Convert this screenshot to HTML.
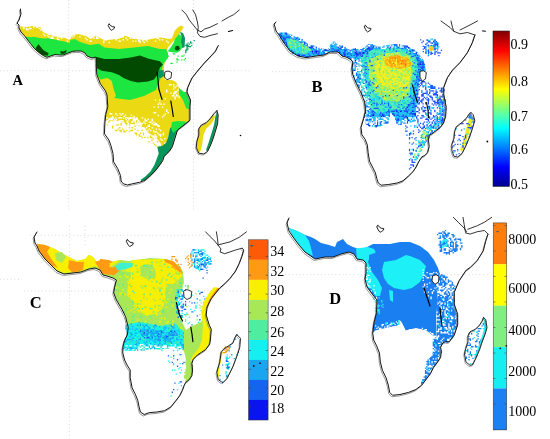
<!DOCTYPE html>
<html><head><meta charset="utf-8"><style>
html,body{margin:0;padding:0;background:#fff;}
svg{display:block;}
.lab{font-family:"Liberation Serif",serif;font-weight:bold;}
.tk{font-family:"Liberation Serif",serif;font-size:14px;}
</style></head><body>
<svg width="550" height="439" viewBox="0 0 550 439">
<rect width="550" height="439" fill="#fff"/>
<line x1="0" y1="70.7" x2="250" y2="70.7" stroke="#d2d2d2" stroke-width="0.8" stroke-dasharray="1,2.6" fill="none"/>
<line x1="68.7" y1="0" x2="68.7" y2="210" stroke="#d2d2d2" stroke-width="0.8" stroke-dasharray="1,2.6" fill="none"/>
<line x1="193.5" y1="0" x2="193.5" y2="210" stroke="#d2d2d2" stroke-width="0.8" stroke-dasharray="1,2.6" fill="none"/>
<line x1="272" y1="71.7" x2="490" y2="71.7" stroke="#d2d2d2" stroke-width="0.8" stroke-dasharray="1,2.6" fill="none"/>
<line x1="30" y1="235.3" x2="245" y2="235.3" stroke="#d2d2d2" stroke-width="0.8" stroke-dasharray="1,2.6" fill="none"/>
<line x1="24" y1="291" x2="245" y2="291" stroke="#d2d2d2" stroke-width="0.8" stroke-dasharray="1,2.6" fill="none"/>
<line x1="0" y1="279.3" x2="22" y2="279.3" stroke="#d2d2d2" stroke-width="0.8" stroke-dasharray="1,2.6" fill="none"/>
<line x1="69.4" y1="226" x2="69.4" y2="439" stroke="#d2d2d2" stroke-width="0.8" stroke-dasharray="1,2.6" fill="none"/>
<line x1="85" y1="226" x2="85" y2="245" stroke="#d2d2d2" stroke-width="0.8" stroke-dasharray="1,2.6" fill="none"/>
<line x1="285" y1="274.6" x2="490" y2="274.6" stroke="#d2d2d2" stroke-width="0.8" stroke-dasharray="1,2.6" fill="none"/>
<polygon points="19.0,26.0 26.0,27.0 32.0,26.0 40.0,27.0 43.0,32.0 50.0,35.0 58.0,37.0 66.0,38.0 69.0,40.0 73.0,35.0 78.0,34.0 86.0,36.0 90.0,38.7 95.8,35.8 104.5,40.2 119.0,38.7 125.0,35.8 133.6,38.7 145.3,40.2 152.5,38.7 159.1,37.3 164.0,38.0 168.2,39.1 171.9,38.2 173.5,34.0 174.6,31.0 177.3,27.7 181.0,25.5 183.7,26.8 182.0,30.0 180.0,32.7 177.3,37.3 174.6,40.0 171.0,43.7 168.2,47.3 166.0,52.0 166.0,60.0 164.0,66.0 164.0,72.0 165.0,80.0 172.0,80.0 176.0,82.0 179.0,88.0 184.0,95.0 186.0,100.0 188.7,104.6 190.0,110.0 190.0,120.2 185.0,123.0 176.0,124.0 170.0,128.0 168.0,138.0 168.0,145.0 166.0,149.0 162.0,145.0 158.0,140.0 154.0,136.0 150.0,134.0 145.0,129.0 139.0,126.0 133.0,124.0 125.0,124.0 119.0,120.5 115.0,122.0 110.0,120.0 105.3,121.0 105.8,114.4 107.8,106.6 107.0,95.0 105.5,91.0 100.4,83.8 96.8,74.6 96.3,66.0 96.3,62.0 96.0,57.0 92.0,58.0 87.0,56.0 85.0,53.0 81.0,51.0 76.0,51.0 72.3,51.4 67.7,53.2 63.2,55.0 59.5,55.0 55.0,54.5 50.5,56.0 46.8,57.3 43.2,55.5 38.6,52.3 34.1,48.2 30.5,43.6 27.7,40.0 25.0,36.4 21.0,32.0 19.0,28.0" fill="#ebd914" />
<path d="M19.0 25.0h1.4v1.4h-1.4zM21.8 25.0h1.4v1.4h-1.4zM28.8 25.0h1.4v1.4h-1.4zM33.0 25.0h1.4v1.4h-1.4zM35.8 25.0h1.4v1.4h-1.4zM19.0 26.4h1.4v1.4h-1.4zM23.2 26.4h1.4v1.4h-1.4zM33.0 26.4h1.4v1.4h-1.4zM35.8 26.4h2.8v1.4h-2.8zM23.2 27.8h1.4v1.4h-1.4zM26.0 27.8h1.4v1.4h-1.4zM28.8 27.8h2.8v1.4h-2.8zM38.6 27.8h1.4v1.4h-1.4zM26.0 29.2h2.8v1.4h-2.8zM40.0 29.2h1.4v1.4h-1.4zM42.8 30.6h1.4v1.4h-1.4zM42.8 33.4h1.4v1.4h-1.4zM48.4 33.4h1.4v1.4h-1.4zM44.2 34.8h1.4v1.4h-1.4zM47.0 34.8h1.4v1.4h-1.4zM52.6 34.8h2.8v1.4h-2.8zM73.6 34.8h1.4v1.4h-1.4zM94.6 34.8h1.4v1.4h-1.4zM48.4 36.2h1.4v1.4h-1.4zM51.2 36.2h1.4v1.4h-1.4zM58.2 36.2h4.2v1.4h-4.2zM72.2 36.2h1.4v1.4h-1.4zM79.2 36.2h1.4v1.4h-1.4zM91.8 36.2h1.4v1.4h-1.4zM96.0 36.2h1.4v1.4h-1.4zM121.2 36.2h2.8v1.4h-2.8zM159.0 36.2h1.4v1.4h-1.4zM49.8 37.6h4.2v1.4h-4.2zM56.8 37.6h1.4v1.4h-1.4zM61.0 37.6h1.4v1.4h-1.4zM66.6 37.6h1.4v1.4h-1.4zM69.4 37.6h1.4v1.4h-1.4zM84.8 37.6h1.4v1.4h-1.4zM90.4 37.6h1.4v1.4h-1.4zM93.2 37.6h1.4v1.4h-1.4zM96.0 37.6h2.8v1.4h-2.8zM114.2 37.6h1.4v1.4h-1.4zM117.0 37.6h1.4v1.4h-1.4zM125.4 37.6h1.4v1.4h-1.4zM129.6 37.6h1.4v1.4h-1.4zM132.4 37.6h4.2v1.4h-4.2zM156.2 37.6h2.8v1.4h-2.8zM56.8 39.0h2.8v1.4h-2.8zM86.2 39.0h1.4v1.4h-1.4zM104.4 39.0h2.8v1.4h-2.8zM115.6 39.0h1.4v1.4h-1.4zM122.6 39.0h1.4v1.4h-1.4zM126.8 39.0h1.4v1.4h-1.4zM138.0 39.0h1.4v1.4h-1.4zM142.2 39.0h1.4v1.4h-1.4zM145.0 39.0h1.4v1.4h-1.4zM159.0 39.0h1.4v1.4h-1.4zM161.8 39.0h1.4v1.4h-1.4zM66.6 40.4h1.4v1.4h-1.4zM89.0 40.4h2.8v1.4h-2.8zM103.0 40.4h1.4v1.4h-1.4zM118.4 40.4h2.8v1.4h-2.8zM132.4 40.4h1.4v1.4h-1.4zM135.2 40.4h1.4v1.4h-1.4zM138.0 40.4h2.8v1.4h-2.8zM142.2 40.4h1.4v1.4h-1.4zM146.4 40.4h1.4v1.4h-1.4zM154.8 40.4h1.4v1.4h-1.4zM166.0 40.4h1.4v1.4h-1.4zM103.0 41.8h1.4v1.4h-1.4zM108.6 41.8h1.4v1.4h-1.4zM139.4 41.8h1.4v1.4h-1.4zM143.6 41.8h1.4v1.4h-1.4zM167.4 41.8h1.4v1.4h-1.4z" fill="#ffffff" />
<path d="M109.5 113.0h2.8v1.4h-2.8zM115.1 113.0h1.4v1.4h-1.4zM119.3 113.0h1.4v1.4h-1.4zM122.1 113.0h1.4v1.4h-1.4zM116.5 114.4h1.4v1.4h-1.4zM120.7 114.4h1.4v1.4h-1.4zM124.9 114.4h1.4v1.4h-1.4zM130.5 114.4h1.4v1.4h-1.4zM112.3 115.8h1.4v1.4h-1.4zM123.5 115.8h1.4v1.4h-1.4zM133.3 115.8h1.4v1.4h-1.4zM105.3 117.2h2.8v1.4h-2.8zM112.3 117.2h1.4v1.4h-1.4zM115.1 117.2h1.4v1.4h-1.4zM117.9 117.2h4.2v1.4h-4.2zM124.9 117.2h2.8v1.4h-2.8zM129.1 117.2h4.2v1.4h-4.2zM136.1 117.2h1.4v1.4h-1.4zM141.7 117.2h1.4v1.4h-1.4zM108.1 118.6h4.2v1.4h-4.2zM113.7 118.6h1.4v1.4h-1.4zM133.3 118.6h4.2v1.4h-4.2zM144.5 118.6h1.4v1.4h-1.4zM147.3 118.6h1.4v1.4h-1.4zM151.5 118.6h1.4v1.4h-1.4zM106.7 120.0h4.2v1.4h-4.2zM115.1 120.0h1.4v1.4h-1.4zM119.3 120.0h4.2v1.4h-4.2zM134.7 120.0h1.4v1.4h-1.4zM137.5 120.0h1.4v1.4h-1.4zM144.5 120.0h2.8v1.4h-2.8zM151.5 120.0h1.4v1.4h-1.4zM113.7 121.4h4.2v1.4h-4.2zM119.3 121.4h1.4v1.4h-1.4zM126.3 121.4h1.4v1.4h-1.4zM131.9 121.4h1.4v1.4h-1.4zM134.7 121.4h1.4v1.4h-1.4zM138.9 121.4h1.4v1.4h-1.4zM143.1 121.4h1.4v1.4h-1.4zM148.7 121.4h2.8v1.4h-2.8zM152.9 121.4h1.4v1.4h-1.4zM120.7 122.8h1.4v1.4h-1.4zM123.5 122.8h1.4v1.4h-1.4zM127.7 122.8h1.4v1.4h-1.4zM134.7 122.8h1.4v1.4h-1.4zM137.5 122.8h5.6v1.4h-5.6zM144.5 122.8h1.4v1.4h-1.4zM151.5 122.8h1.4v1.4h-1.4zM154.3 122.8h2.8v1.4h-2.8zM124.9 124.2h1.4v1.4h-1.4zM129.1 124.2h1.4v1.4h-1.4zM134.7 124.2h7.0v1.4h-7.0zM148.7 124.2h1.4v1.4h-1.4zM152.9 124.2h5.6v1.4h-5.6zM140.3 125.6h1.4v1.4h-1.4zM147.3 125.6h2.8v1.4h-2.8zM157.1 125.6h2.8v1.4h-2.8zM141.7 127.0h2.8v1.4h-2.8zM145.9 127.0h1.4v1.4h-1.4zM151.5 127.0h1.4v1.4h-1.4zM143.1 128.4h2.8v1.4h-2.8zM148.7 128.4h1.4v1.4h-1.4zM155.7 128.4h1.4v1.4h-1.4zM158.5 128.4h1.4v1.4h-1.4zM147.3 129.8h1.4v1.4h-1.4zM150.1 129.8h1.4v1.4h-1.4zM152.9 129.8h1.4v1.4h-1.4zM159.9 129.8h1.4v1.4h-1.4zM152.9 131.2h4.2v1.4h-4.2zM157.1 132.6h1.4v1.4h-1.4zM162.7 132.6h1.4v1.4h-1.4zM154.3 134.0h1.4v1.4h-1.4zM158.5 134.0h2.8v1.4h-2.8zM162.7 134.0h1.4v1.4h-1.4zM154.3 135.4h2.8v1.4h-2.8zM159.9 135.4h1.4v1.4h-1.4zM155.7 136.8h1.4v1.4h-1.4zM159.9 138.2h1.4v1.4h-1.4zM164.1 138.2h1.4v1.4h-1.4zM161.3 139.6h1.4v1.4h-1.4zM164.1 142.4h1.4v1.4h-1.4zM164.1 145.2h1.4v1.4h-1.4z" fill="#ffffff" />
<path d="M110.2 117.4h2.8v1.4h-2.8zM122.8 117.4h1.4v1.4h-1.4zM127.0 117.4h4.2v1.4h-4.2zM134.0 117.4h1.4v1.4h-1.4zM108.8 118.8h4.2v1.4h-4.2zM115.8 118.8h1.4v1.4h-1.4zM125.6 118.8h1.4v1.4h-1.4zM128.4 118.8h1.4v1.4h-1.4zM132.6 118.8h2.8v1.4h-2.8zM136.8 118.8h1.4v1.4h-1.4zM113.0 120.2h2.8v1.4h-2.8zM127.0 120.2h1.4v1.4h-1.4zM132.6 120.2h2.8v1.4h-2.8zM138.2 120.2h1.4v1.4h-1.4zM118.6 121.6h1.4v1.4h-1.4zM122.8 121.6h1.4v1.4h-1.4zM127.0 121.6h1.4v1.4h-1.4zM131.2 121.6h1.4v1.4h-1.4zM136.8 121.6h1.4v1.4h-1.4zM135.4 123.0h1.4v1.4h-1.4z" fill="#ffffff" />
<path d="M109.2 120.0h1.4v1.4h-1.4zM107.8 121.4h1.4v1.4h-1.4zM120.4 122.8h1.4v1.4h-1.4zM106.4 124.2h1.4v1.4h-1.4zM116.2 124.2h2.8v1.4h-2.8zM120.4 124.2h1.4v1.4h-1.4zM126.0 124.2h1.4v1.4h-1.4zM128.8 124.2h1.4v1.4h-1.4zM112.0 125.6h1.4v1.4h-1.4zM134.4 125.6h1.4v1.4h-1.4zM112.0 127.0h1.4v1.4h-1.4zM119.0 127.0h1.4v1.4h-1.4zM128.8 127.0h1.4v1.4h-1.4zM131.6 127.0h1.4v1.4h-1.4zM117.6 128.4h1.4v1.4h-1.4zM121.8 128.4h1.4v1.4h-1.4zM134.4 128.4h1.4v1.4h-1.4zM114.8 129.8h2.8v1.4h-2.8zM119.0 129.8h2.8v1.4h-2.8zM123.2 129.8h1.4v1.4h-1.4zM126.0 129.8h1.4v1.4h-1.4zM130.2 129.8h2.8v1.4h-2.8zM137.2 129.8h1.4v1.4h-1.4zM141.4 129.8h1.4v1.4h-1.4zM120.4 131.2h1.4v1.4h-1.4zM123.2 131.2h2.8v1.4h-2.8zM128.8 131.2h1.4v1.4h-1.4zM134.4 132.6h2.8v1.4h-2.8zM140.0 132.6h1.4v1.4h-1.4zM142.8 132.6h1.4v1.4h-1.4zM135.8 134.0h1.4v1.4h-1.4zM138.6 134.0h1.4v1.4h-1.4zM142.8 134.0h1.4v1.4h-1.4zM138.6 135.4h2.8v1.4h-2.8zM149.8 135.4h1.4v1.4h-1.4zM141.4 136.8h1.4v1.4h-1.4zM144.2 136.8h1.4v1.4h-1.4zM147.0 136.8h1.4v1.4h-1.4zM149.8 136.8h2.8v1.4h-2.8zM152.6 138.2h1.4v1.4h-1.4zM151.2 139.6h1.4v1.4h-1.4zM148.4 141.0h1.4v1.4h-1.4zM156.8 141.0h1.4v1.4h-1.4zM152.6 142.4h1.4v1.4h-1.4zM161.0 142.4h1.4v1.4h-1.4zM154.0 143.8h1.4v1.4h-1.4zM161.0 143.8h1.4v1.4h-1.4zM155.4 145.2h1.4v1.4h-1.4zM161.0 145.2h1.4v1.4h-1.4zM158.2 146.6h2.8v1.4h-2.8zM163.8 146.6h1.4v1.4h-1.4zM159.6 148.0h1.4v1.4h-1.4z" fill="#ebd914" />
<path d="M168.8 84.0h2.8v1.4h-2.8zM173.0 84.0h1.4v1.4h-1.4zM177.2 84.0h1.4v1.4h-1.4zM173.0 85.4h1.4v1.4h-1.4zM175.8 85.4h1.4v1.4h-1.4zM174.4 86.8h1.4v1.4h-1.4zM173.0 88.2h1.4v1.4h-1.4zM178.6 88.2h1.4v1.4h-1.4zM166.0 89.6h1.4v1.4h-1.4zM177.2 89.6h1.4v1.4h-1.4zM166.0 91.0h1.4v1.4h-1.4zM174.4 91.0h2.8v1.4h-2.8zM170.2 92.4h1.4v1.4h-1.4zM173.0 92.4h2.8v1.4h-2.8zM178.6 92.4h1.4v1.4h-1.4zM173.0 93.8h1.4v1.4h-1.4zM175.8 93.8h1.4v1.4h-1.4zM171.6 95.2h2.8v1.4h-2.8zM175.8 95.2h2.8v1.4h-2.8zM174.4 96.6h1.4v1.4h-1.4zM178.6 96.6h1.4v1.4h-1.4zM174.4 98.0h1.4v1.4h-1.4z" fill="#ffffff" />
<path d="M164.6 98.0h1.4v1.4h-1.4zM154.8 99.4h1.4v1.4h-1.4zM159.0 99.4h1.4v1.4h-1.4zM159.0 102.2h1.4v1.4h-1.4zM157.6 103.6h1.4v1.4h-1.4zM160.4 103.6h1.4v1.4h-1.4zM163.2 103.6h1.4v1.4h-1.4zM153.4 106.4h1.4v1.4h-1.4zM157.6 106.4h1.4v1.4h-1.4zM161.8 106.4h1.4v1.4h-1.4zM166.0 109.2h1.4v1.4h-1.4zM166.0 110.6h1.4v1.4h-1.4zM153.4 112.0h2.8v1.4h-2.8zM167.4 112.0h1.4v1.4h-1.4zM164.6 113.4h1.4v1.4h-1.4zM157.6 114.8h1.4v1.4h-1.4zM163.2 114.8h1.4v1.4h-1.4zM161.8 116.2h1.4v1.4h-1.4z" fill="#ffffff" />
<polygon points="25.0,36.4 30.5,37.3 34.1,36.8 38.6,37.7 43.2,38.6 47.7,38.2 52.3,39.0 56.8,40.0 61.4,40.9 65.9,41.8 69.5,43.2 70.5,40.0 75.0,39.1 80.0,42.0 90.0,45.0 98.7,43.8 104.5,47.5 119.0,49.0 133.6,47.5 148.0,46.0 159.8,49.0 166.0,49.0 168.0,53.0 168.0,58.0 163.0,64.0 160.0,80.0 156.0,90.0 144.0,96.0 130.0,100.0 114.0,98.0 116.0,96.0 113.3,88.0 111.8,81.0 107.5,78.0 100.4,79.5 96.8,74.6 96.3,66.0 96.3,62.0 96.0,57.0 92.0,58.0 87.0,56.0 85.0,53.0 81.0,51.0 76.0,51.0 72.3,51.4 67.7,53.2 63.2,55.0 59.5,55.0 55.0,54.5 50.5,56.0 46.8,57.3 43.2,55.5 38.6,52.3 34.1,48.2 30.5,43.6 27.7,40.0" fill="#1ee640" />
<polygon points="96.0,57.0 98.7,57.6 104.5,59.0 119.0,59.0 130.7,57.6 140.0,55.5 148.0,58.4 159.8,61.3 162.7,64.2 162.7,65.0 159.8,67.8 158.4,73.6 154.0,79.5 148.0,81.6 138.0,82.4 130.7,81.0 123.5,78.0 119.0,75.0 111.8,72.2 101.6,70.7 98.7,69.3 96.8,68.0 96.3,62.0" fill="#024a02" />
<polygon points="38.6,44.5 37.7,47.0 35.9,47.3 38.6,49.1 43.2,51.8 48.6,53.6 47.7,55.5 43.2,55.0 40.5,52.7 37.7,50.0 36.5,48.0" fill="#024a02" />
<polygon points="38.6,44.3 40.0,46.0 43.2,50.0 48.6,53.2 47.5,55.5 43.2,55.0 38.6,52.3 35.5,48.5 37.0,46.0" fill="#024a02" />
<polygon points="60.5,50.9 63.2,51.4 66.8,50.0 65.9,52.7 63.2,54.0 60.5,53.6" fill="#024a02" />
<polygon points="175.0,39.0 179.0,34.0 181.5,36.0 181.0,42.0 182.0,48.0 180.0,51.0 176.9,52.8 170.0,52.0 167.8,51.0 171.0,47.0 173.5,43.0" fill="#1ee640" />
<circle cx="177.3" cy="48.2" r="2.4" fill="#024a02"/>
<polygon points="180.0,32.0 183.0,33.0 185.0,38.0 184.6,47.3 182.0,48.0 181.0,42.0 181.5,36.0" fill="#06965a" />
<path d="M193.6 40.0h1.2v1.2h-1.2zM190.0 41.2h1.2v1.2h-1.2zM187.6 42.4h1.2v1.2h-1.2zM190.0 42.4h2.4v1.2h-2.4zM186.4 43.6h1.2v1.2h-1.2zM188.8 43.6h1.2v1.2h-1.2zM185.2 44.8h3.6v1.2h-3.6zM191.2 44.8h1.2v1.2h-1.2zM186.4 46.0h4.8v1.2h-4.8zM186.4 47.2h1.2v1.2h-1.2zM186.4 48.4h2.4v1.2h-2.4zM185.2 49.6h2.4v1.2h-2.4zM185.2 50.8h1.2v1.2h-1.2zM185.2 52.0h1.2v1.2h-1.2z" fill="#06965a" />
<path d="M172.8 53.2h2.4v1.2h-2.4zM183.6 54.4h1.2v1.2h-1.2zM168.0 55.6h1.2v1.2h-1.2zM177.6 55.6h1.2v1.2h-1.2zM181.2 55.6h2.4v1.2h-2.4zM176.4 58.0h1.2v1.2h-1.2zM184.8 58.0h1.2v1.2h-1.2zM176.4 59.2h2.4v1.2h-2.4zM181.2 59.2h1.2v1.2h-1.2zM183.6 59.2h1.2v1.2h-1.2zM176.4 61.6h1.2v1.2h-1.2zM170.4 62.8h2.4v1.2h-2.4z" fill="#1ee640" />
<polygon points="158.5,70.5 163.5,70.0 164.0,76.0 160.0,78.5 158.0,76.0" fill="#06965a" />
<polygon points="179.0,88.0 184.0,92.0 187.0,92.0 190.5,100.0 190.0,110.0 186.0,108.0 183.0,100.0 179.0,94.0" fill="#1ee640" />
<polygon points="170.0,128.0 176.0,124.0 185.0,123.0 190.0,120.2 185.3,124.0 177.5,130.0 174.4,140.0 172.3,146.8 169.6,150.9 166.8,153.6 164.1,156.4 162.8,160.5 160.0,164.6 155.9,170.0 150.5,175.5 145.0,180.2 141.0,181.0 141.0,179.6 145.0,176.8 150.5,171.4 154.6,164.6 158.7,153.6 157.3,146.8 162.0,146.0 166.0,143.0 168.0,138.0" fill="#06965a" />
<polygon points="172.0,122.0 178.0,121.0 186.0,121.5 183.0,126.0 177.0,130.0 173.0,133.0 171.0,128.0" fill="#1ee640" />
<polygon points="216.9,110.6 218.2,115.0 217.6,123.8 215.0,132.6 212.6,140.1 210.0,146.4 207.5,151.4 203.8,153.9 198.8,153.2 196.3,147.6 196.9,141.3 198.8,135.1 198.8,128.8 201.3,125.0 206.3,122.5 210.0,118.8 213.8,113.8" fill="#ffffff" />
<polygon points="201.3,125.0 206.3,122.5 210.0,118.8 213.8,113.8 215.0,117.0 212.0,123.0 206.0,129.0 203.0,136.0 202.5,143.0 201.0,150.0 198.8,153.2 196.3,147.6 196.9,141.3 198.8,135.1 198.8,128.8" fill="#ebd914" />
<polygon points="216.9,110.6 218.2,115.0 217.6,123.8 215.0,132.6 212.6,140.1 210.0,146.4 207.5,151.4 206.0,150.0 208.5,143.0 211.0,135.0 214.0,125.0 215.5,116.0" fill="#06965a" />
<polyline points="216.9,110.6 218.2,115.0 217.6,123.8 215.0,132.6 212.6,140.1 210.0,146.4 207.5,151.4 203.8,153.9 198.8,153.2 196.3,147.6 196.9,141.3 198.8,135.1 198.8,128.8 201.3,125.0 206.3,122.5 210.0,118.8 213.8,113.8 216.9,110.6" fill="none" stroke="#9a9a9a" stroke-width="0.9" stroke-linejoin="round" stroke-linecap="round" transform="translate(-0.6,1.2)"/>
<polyline points="216.9,110.6 218.2,115.0 217.6,123.8 215.0,132.6 212.6,140.1 210.0,146.4 207.5,151.4 203.8,153.9 198.8,153.2 196.3,147.6 196.9,141.3 198.8,135.1 198.8,128.8 201.3,125.0 206.3,122.5 210.0,118.8 213.8,113.8 216.9,110.6" fill="none" stroke="#111" stroke-width="0.9" stroke-linejoin="round" stroke-linecap="round" />
<polyline points="19.5,10.5 20.1,15.5 18.1,21.5 16.1,24.5 18.1,26.5 18.1,29.5 20.1,33.5 24.1,37.9 26.8,41.5 29.6,45.1 33.2,49.7 37.7,53.8 42.3,57.0 45.9,58.8 49.6,57.5 54.1,56.0 58.6,56.5 62.3,56.5 66.8,54.7 71.4,52.9 75.1,52.5 80.1,52.5 84.1,54.5 86.1,57.5 91.1,59.5 95.1,58.5 95.4,63.5 95.4,67.5 95.9,76.1 99.5,85.3 104.6,92.5 106.1,96.5 106.9,108.1 104.9,115.9 103.9,125.5 103.6,135.3 108.0,141.5 110.0,147.0 112.1,155.1 112.7,163.3 116.8,170.1 119.6,177.0 120.2,182.5 122.3,185.2 126.4,186.5 131.8,185.2 138.7,183.8 144.1,181.7 149.6,177.0 155.0,171.5 159.1,166.1 161.9,162.0 163.2,157.9 165.9,155.1 168.7,152.4 171.4,148.3 173.5,141.5 176.6,131.5 184.4,125.5 189.1,121.7 189.1,108.1 189.6,101.5 186.1,93.5 186.9,89.0 191.1,79.5 196.6,72.5 203.4,64.5 209.1,58.5 214.7,52.5 217.4,47.0" fill="none" stroke="#8c8c8c" stroke-width="0.9" stroke-linejoin="round" stroke-linecap="round" /><polyline points="20.4,9.0 21.0,14.0 19.0,20.0 17.0,23.0 19.0,25.0 19.0,28.0 21.0,32.0 25.0,36.4 27.7,40.0 30.5,43.6 34.1,48.2 38.6,52.3 43.2,55.5 46.8,57.3 50.5,56.0 55.0,54.5 59.5,55.0 63.2,55.0 67.7,53.2 72.3,51.4 76.0,51.0 81.0,51.0 85.0,53.0 87.0,56.0 92.0,58.0 96.0,57.0 96.3,62.0 96.3,66.0 96.8,74.6 100.4,83.8 105.5,91.0 107.0,95.0 107.8,106.6 105.8,114.4 104.8,124.0 104.5,133.8 108.9,140.0 110.9,145.5 113.0,153.6 113.6,161.8 117.7,168.6 120.5,175.5 121.1,181.0 123.2,183.7 127.3,185.0 132.7,183.7 139.6,182.3 145.0,180.2 150.5,175.5 155.9,170.0 160.0,164.6 162.8,160.5 164.1,156.4 166.8,153.6 169.6,150.9 172.3,146.8 174.4,140.0 177.5,130.0 185.3,124.0 190.0,120.2 190.0,106.6 190.5,100.0 187.0,92.0 187.8,87.5 192.0,78.0 197.5,71.0 204.3,63.0 210.0,57.0 215.6,51.0 218.3,45.5" fill="none" stroke="#151515" stroke-width="1.0" stroke-linejoin="round" stroke-linecap="round" />
<polygon points="164.8,72.0 168.0,71.0 171.6,72.5 171.0,78.0 167.0,79.8 164.5,77.0" fill="#fff" stroke="#000" stroke-width="0.8"/>
<polyline points="157.0,72.0 158.0,80.0 158.8,89.0 162.0,99.4" fill="none" stroke="#000" stroke-width="1.2" stroke-linejoin="round" stroke-linecap="round" />
<polyline points="170.8,101.0 172.0,108.0 173.3,116.5" fill="none" stroke="#000" stroke-width="1.2" stroke-linejoin="round" stroke-linecap="round" />
<polyline points="181.9,10.0 186.4,14.6 189.2,20.0 193.7,25.5 197.4,30.0 201.0,31.9 204.6,29.0 210.0,27.3 217.4,23.7" fill="none" stroke="#000" stroke-width="0.8" stroke-linejoin="round" stroke-linecap="round" />
<polyline points="192.8,10.0 195.5,14.6 197.4,21.9 198.3,27.3 197.4,32.8 200.0,36.4 204.6,37.3 210.0,35.5 217.4,33.7" fill="none" stroke="#000" stroke-width="0.8" stroke-linejoin="round" stroke-linecap="round" />
<polyline points="222.0,21.0 228.3,17.3 233.8,14.6 239.3,10.0" fill="none" stroke="#000" stroke-width="0.8" stroke-linejoin="round" stroke-linecap="round" />
<polyline points="228.5,31.5 232.5,30.5" fill="none" stroke="#000" stroke-width="1.2" stroke-linejoin="round" stroke-linecap="round" />
<circle cx="240.5" cy="135.5" r="0.8" fill="#000"/>
<text x="12.6" y="84.8" class="lab" style="font-size:14.5px">A</text>
<polygon points="278.0,33.0 284.0,32.6 290.0,34.0 298.0,37.0 304.0,41.0 310.0,45.0 318.0,47.0 324.0,49.0 328.0,50.0 330.0,45.0 334.0,41.0 338.0,45.0 342.0,46.0 346.0,48.0 350.0,50.0 354.0,48.0 362.3,48.2 370.0,44.0 378.7,46.2 395.0,44.1 407.4,46.2 417.7,52.3 423.8,60.5 426.0,70.8 421.0,73.0 419.0,82.0 418.0,95.0 416.0,110.0 416.4,121.0 410.0,123.0 397.0,125.3 395.0,118.0 390.5,112.3 388.3,123.0 377.5,127.5 367.0,126.0 363.7,118.4 365.5,111.1 364.6,102.0 361.0,92.8 356.4,83.7 352.8,74.6 351.9,69.1 352.8,62.0 350.0,59.0 346.0,57.0 342.0,56.0 338.0,52.0 330.0,52.0 324.0,55.0 316.0,56.0 306.0,57.6 298.0,56.0 290.0,51.0 284.0,43.0 279.0,35.0" fill="#22bef4" />
<path d="M278.0 32.6h1.3v1.3h-1.3zM280.6 32.6h1.3v1.3h-1.3zM284.5 32.6h2.6v1.3h-2.6zM285.8 33.9h1.3v1.3h-1.3zM288.4 33.9h1.3v1.3h-1.3zM280.6 35.2h1.3v1.3h-1.3zM281.9 36.5h2.6v1.3h-2.6zM285.8 36.5h3.9v1.3h-3.9zM291.0 36.5h1.3v1.3h-1.3zM294.9 36.5h2.6v1.3h-2.6zM284.5 37.8h1.3v1.3h-1.3zM287.1 37.8h2.6v1.3h-2.6zM296.2 37.8h1.3v1.3h-1.3zM283.2 39.1h3.9v1.3h-3.9zM291.0 39.1h2.6v1.3h-2.6zM294.9 39.1h1.3v1.3h-1.3zM298.8 39.1h1.3v1.3h-1.3zM301.4 39.1h1.3v1.3h-1.3zM283.2 40.4h1.3v1.3h-1.3zM298.8 40.4h1.3v1.3h-1.3zM283.2 41.7h3.9v1.3h-3.9zM291.0 41.7h1.3v1.3h-1.3zM294.9 41.7h2.6v1.3h-2.6zM298.8 41.7h2.6v1.3h-2.6zM302.7 41.7h2.6v1.3h-2.6zM285.8 43.0h1.3v1.3h-1.3zM289.7 43.0h1.3v1.3h-1.3zM296.2 43.0h1.3v1.3h-1.3zM302.7 43.0h3.9v1.3h-3.9zM289.7 44.3h1.3v1.3h-1.3zM294.9 44.3h1.3v1.3h-1.3zM298.8 44.3h1.3v1.3h-1.3zM304.0 44.3h1.3v1.3h-1.3zM367.7 44.3h1.3v1.3h-1.3zM371.6 44.3h1.3v1.3h-1.3zM393.7 44.3h3.9v1.3h-3.9zM398.9 44.3h1.3v1.3h-1.3zM287.1 45.6h1.3v1.3h-1.3zM289.7 45.6h1.3v1.3h-1.3zM292.3 45.6h5.2v1.3h-5.2zM304.0 45.6h2.6v1.3h-2.6zM307.9 45.6h1.3v1.3h-1.3zM310.5 45.6h3.9v1.3h-3.9zM331.3 45.6h1.3v1.3h-1.3zM336.5 45.6h1.3v1.3h-1.3zM339.1 45.6h1.3v1.3h-1.3zM341.7 45.6h1.3v1.3h-1.3zM366.4 45.6h2.6v1.3h-2.6zM370.3 45.6h1.3v1.3h-1.3zM372.9 45.6h1.3v1.3h-1.3zM375.5 45.6h1.3v1.3h-1.3zM384.6 45.6h1.3v1.3h-1.3zM389.8 45.6h1.3v1.3h-1.3zM392.4 45.6h1.3v1.3h-1.3zM396.3 45.6h1.3v1.3h-1.3zM402.8 45.6h5.2v1.3h-5.2zM292.3 46.9h1.3v1.3h-1.3zM296.2 46.9h1.3v1.3h-1.3zM298.8 46.9h1.3v1.3h-1.3zM301.4 46.9h1.3v1.3h-1.3zM305.3 46.9h1.3v1.3h-1.3zM309.2 46.9h5.2v1.3h-5.2zM315.7 46.9h2.6v1.3h-2.6zM337.8 46.9h1.3v1.3h-1.3zM340.4 46.9h1.3v1.3h-1.3zM344.3 46.9h1.3v1.3h-1.3zM367.7 46.9h2.6v1.3h-2.6zM371.6 46.9h2.6v1.3h-2.6zM375.5 46.9h1.3v1.3h-1.3zM378.1 46.9h1.3v1.3h-1.3zM387.2 46.9h3.9v1.3h-3.9zM392.4 46.9h1.3v1.3h-1.3zM397.6 46.9h1.3v1.3h-1.3zM401.5 46.9h3.9v1.3h-3.9zM406.7 46.9h1.3v1.3h-1.3zM288.4 48.2h1.3v1.3h-1.3zM300.1 48.2h3.9v1.3h-3.9zM305.3 48.2h1.3v1.3h-1.3zM310.5 48.2h1.3v1.3h-1.3zM313.1 48.2h1.3v1.3h-1.3zM318.3 48.2h1.3v1.3h-1.3zM322.2 48.2h1.3v1.3h-1.3zM328.7 48.2h1.3v1.3h-1.3zM331.3 48.2h2.6v1.3h-2.6zM339.1 48.2h2.6v1.3h-2.6zM343.0 48.2h1.3v1.3h-1.3zM353.4 48.2h2.6v1.3h-2.6zM359.9 48.2h3.9v1.3h-3.9zM369.0 48.2h3.9v1.3h-3.9zM379.4 48.2h1.3v1.3h-1.3zM382.0 48.2h1.3v1.3h-1.3zM396.3 48.2h1.3v1.3h-1.3zM401.5 48.2h1.3v1.3h-1.3zM405.4 48.2h2.6v1.3h-2.6zM291.0 49.5h1.3v1.3h-1.3zM296.2 49.5h2.6v1.3h-2.6zM301.4 49.5h1.3v1.3h-1.3zM309.2 49.5h1.3v1.3h-1.3zM314.4 49.5h1.3v1.3h-1.3zM317.0 49.5h1.3v1.3h-1.3zM323.5 49.5h2.6v1.3h-2.6zM327.4 49.5h1.3v1.3h-1.3zM333.9 49.5h3.9v1.3h-3.9zM345.6 49.5h1.3v1.3h-1.3zM348.2 49.5h2.6v1.3h-2.6zM353.4 49.5h2.6v1.3h-2.6zM357.3 49.5h1.3v1.3h-1.3zM363.8 49.5h2.6v1.3h-2.6zM369.0 49.5h2.6v1.3h-2.6zM375.5 49.5h1.3v1.3h-1.3zM391.1 49.5h1.3v1.3h-1.3zM393.7 49.5h1.3v1.3h-1.3zM400.2 49.5h1.3v1.3h-1.3zM413.2 49.5h1.3v1.3h-1.3zM291.0 50.8h1.3v1.3h-1.3zM293.6 50.8h1.3v1.3h-1.3zM298.8 50.8h1.3v1.3h-1.3zM305.3 50.8h1.3v1.3h-1.3zM309.2 50.8h1.3v1.3h-1.3zM311.8 50.8h1.3v1.3h-1.3zM314.4 50.8h5.2v1.3h-5.2zM322.2 50.8h1.3v1.3h-1.3zM331.3 50.8h2.6v1.3h-2.6zM339.1 50.8h1.3v1.3h-1.3zM344.3 50.8h1.3v1.3h-1.3zM356.0 50.8h2.6v1.3h-2.6zM359.9 50.8h1.3v1.3h-1.3zM365.1 50.8h2.6v1.3h-2.6zM369.0 50.8h1.3v1.3h-1.3zM374.2 50.8h1.3v1.3h-1.3zM376.8 50.8h1.3v1.3h-1.3zM382.0 50.8h1.3v1.3h-1.3zM384.6 50.8h2.6v1.3h-2.6zM389.8 50.8h2.6v1.3h-2.6zM400.2 50.8h1.3v1.3h-1.3zM405.4 50.8h1.3v1.3h-1.3zM408.0 50.8h1.3v1.3h-1.3zM413.2 50.8h1.3v1.3h-1.3zM292.3 52.1h1.3v1.3h-1.3zM301.4 52.1h2.6v1.3h-2.6zM305.3 52.1h1.3v1.3h-1.3zM311.8 52.1h1.3v1.3h-1.3zM314.4 52.1h1.3v1.3h-1.3zM318.3 52.1h1.3v1.3h-1.3zM343.0 52.1h2.6v1.3h-2.6zM348.2 52.1h1.3v1.3h-1.3zM350.8 52.1h1.3v1.3h-1.3zM356.0 52.1h1.3v1.3h-1.3zM358.6 52.1h2.6v1.3h-2.6zM362.5 52.1h2.6v1.3h-2.6zM367.7 52.1h1.3v1.3h-1.3zM372.9 52.1h1.3v1.3h-1.3zM376.8 52.1h1.3v1.3h-1.3zM383.3 52.1h2.6v1.3h-2.6zM392.4 52.1h1.3v1.3h-1.3zM409.3 52.1h1.3v1.3h-1.3zM413.2 52.1h3.9v1.3h-3.9zM294.9 53.4h1.3v1.3h-1.3zM297.5 53.4h2.6v1.3h-2.6zM307.9 53.4h1.3v1.3h-1.3zM313.1 53.4h1.3v1.3h-1.3zM317.0 53.4h2.6v1.3h-2.6zM320.9 53.4h1.3v1.3h-1.3zM340.4 53.4h1.3v1.3h-1.3zM343.0 53.4h1.3v1.3h-1.3zM349.5 53.4h1.3v1.3h-1.3zM354.7 53.4h2.6v1.3h-2.6zM358.6 53.4h2.6v1.3h-2.6zM362.5 53.4h1.3v1.3h-1.3zM367.7 53.4h1.3v1.3h-1.3zM370.3 53.4h2.6v1.3h-2.6zM375.5 53.4h1.3v1.3h-1.3zM379.4 53.4h1.3v1.3h-1.3zM383.3 53.4h2.6v1.3h-2.6zM388.5 53.4h2.6v1.3h-2.6zM393.7 53.4h1.3v1.3h-1.3zM402.8 53.4h2.6v1.3h-2.6zM409.3 53.4h1.3v1.3h-1.3zM415.8 53.4h1.3v1.3h-1.3zM297.5 54.7h1.3v1.3h-1.3zM301.4 54.7h3.9v1.3h-3.9zM309.2 54.7h1.3v1.3h-1.3zM341.7 54.7h1.3v1.3h-1.3zM350.8 54.7h1.3v1.3h-1.3zM353.4 54.7h1.3v1.3h-1.3zM356.0 54.7h2.6v1.3h-2.6zM359.9 54.7h2.6v1.3h-2.6zM366.4 54.7h2.6v1.3h-2.6zM372.9 54.7h1.3v1.3h-1.3zM383.3 54.7h3.9v1.3h-3.9zM398.9 54.7h1.3v1.3h-1.3zM401.5 54.7h1.3v1.3h-1.3zM404.1 54.7h2.6v1.3h-2.6zM408.0 54.7h1.3v1.3h-1.3zM410.6 54.7h1.3v1.3h-1.3zM414.5 54.7h1.3v1.3h-1.3zM417.1 54.7h2.6v1.3h-2.6zM305.3 56.0h3.9v1.3h-3.9zM346.9 56.0h2.6v1.3h-2.6zM356.0 56.0h1.3v1.3h-1.3zM361.2 56.0h2.6v1.3h-2.6zM367.7 56.0h1.3v1.3h-1.3zM371.6 56.0h2.6v1.3h-2.6zM380.7 56.0h1.3v1.3h-1.3zM383.3 56.0h1.3v1.3h-1.3zM387.2 56.0h1.3v1.3h-1.3zM391.1 56.0h1.3v1.3h-1.3zM393.7 56.0h1.3v1.3h-1.3zM400.2 56.0h2.6v1.3h-2.6zM405.4 56.0h1.3v1.3h-1.3zM409.3 56.0h1.3v1.3h-1.3zM413.2 56.0h1.3v1.3h-1.3zM349.5 57.3h1.3v1.3h-1.3zM354.7 57.3h1.3v1.3h-1.3zM361.2 57.3h1.3v1.3h-1.3zM366.4 57.3h2.6v1.3h-2.6zM370.3 57.3h2.6v1.3h-2.6zM374.2 57.3h1.3v1.3h-1.3zM378.1 57.3h1.3v1.3h-1.3zM382.0 57.3h1.3v1.3h-1.3zM388.5 57.3h1.3v1.3h-1.3zM391.1 57.3h1.3v1.3h-1.3zM393.7 57.3h1.3v1.3h-1.3zM396.3 57.3h1.3v1.3h-1.3zM398.9 57.3h1.3v1.3h-1.3zM401.5 57.3h1.3v1.3h-1.3zM404.1 57.3h1.3v1.3h-1.3zM415.8 57.3h3.9v1.3h-3.9zM357.3 58.6h2.6v1.3h-2.6zM369.0 58.6h3.9v1.3h-3.9zM374.2 58.6h1.3v1.3h-1.3zM376.8 58.6h1.3v1.3h-1.3zM384.6 58.6h1.3v1.3h-1.3zM388.5 58.6h1.3v1.3h-1.3zM391.1 58.6h2.6v1.3h-2.6zM400.2 58.6h1.3v1.3h-1.3zM404.1 58.6h5.2v1.3h-5.2zM415.8 58.6h2.6v1.3h-2.6zM421.0 58.6h1.3v1.3h-1.3zM353.4 59.9h1.3v1.3h-1.3zM358.6 59.9h1.3v1.3h-1.3zM362.5 59.9h1.3v1.3h-1.3zM367.7 59.9h1.3v1.3h-1.3zM371.6 59.9h1.3v1.3h-1.3zM378.1 59.9h1.3v1.3h-1.3zM380.7 59.9h1.3v1.3h-1.3zM383.3 59.9h1.3v1.3h-1.3zM385.9 59.9h2.6v1.3h-2.6zM391.1 59.9h1.3v1.3h-1.3zM404.1 59.9h1.3v1.3h-1.3zM406.7 59.9h1.3v1.3h-1.3zM409.3 59.9h2.6v1.3h-2.6zM417.1 59.9h2.6v1.3h-2.6zM352.1 61.2h1.3v1.3h-1.3zM356.0 61.2h2.6v1.3h-2.6zM366.4 61.2h1.3v1.3h-1.3zM374.2 61.2h2.6v1.3h-2.6zM379.4 61.2h3.9v1.3h-3.9zM384.6 61.2h1.3v1.3h-1.3zM387.2 61.2h5.2v1.3h-5.2zM393.7 61.2h2.6v1.3h-2.6zM398.9 61.2h5.2v1.3h-5.2zM406.7 61.2h2.6v1.3h-2.6zM414.5 61.2h1.3v1.3h-1.3zM419.7 61.2h3.9v1.3h-3.9zM354.7 62.5h1.3v1.3h-1.3zM359.9 62.5h1.3v1.3h-1.3zM365.1 62.5h1.3v1.3h-1.3zM385.9 62.5h2.6v1.3h-2.6zM393.7 62.5h1.3v1.3h-1.3zM397.6 62.5h2.6v1.3h-2.6zM401.5 62.5h2.6v1.3h-2.6zM418.4 62.5h2.6v1.3h-2.6zM353.4 63.8h1.3v1.3h-1.3zM356.0 63.8h1.3v1.3h-1.3zM362.5 63.8h2.6v1.3h-2.6zM366.4 63.8h2.6v1.3h-2.6zM372.9 63.8h3.9v1.3h-3.9zM379.4 63.8h1.3v1.3h-1.3zM387.2 63.8h1.3v1.3h-1.3zM393.7 63.8h2.6v1.3h-2.6zM401.5 63.8h2.6v1.3h-2.6zM405.4 63.8h1.3v1.3h-1.3zM408.0 63.8h1.3v1.3h-1.3zM410.6 63.8h1.3v1.3h-1.3zM418.4 63.8h1.3v1.3h-1.3zM421.0 63.8h3.9v1.3h-3.9zM352.1 65.1h1.3v1.3h-1.3zM358.6 65.1h1.3v1.3h-1.3zM362.5 65.1h1.3v1.3h-1.3zM366.4 65.1h1.3v1.3h-1.3zM369.0 65.1h1.3v1.3h-1.3zM371.6 65.1h1.3v1.3h-1.3zM375.5 65.1h1.3v1.3h-1.3zM378.1 65.1h1.3v1.3h-1.3zM380.7 65.1h3.9v1.3h-3.9zM387.2 65.1h3.9v1.3h-3.9zM402.8 65.1h2.6v1.3h-2.6zM410.6 65.1h1.3v1.3h-1.3zM415.8 65.1h1.3v1.3h-1.3zM418.4 65.1h1.3v1.3h-1.3zM422.3 65.1h1.3v1.3h-1.3zM356.0 66.4h1.3v1.3h-1.3zM359.9 66.4h1.3v1.3h-1.3zM362.5 66.4h6.5v1.3h-6.5zM388.5 66.4h1.3v1.3h-1.3zM395.0 66.4h1.3v1.3h-1.3zM398.9 66.4h1.3v1.3h-1.3zM402.8 66.4h1.3v1.3h-1.3zM405.4 66.4h3.9v1.3h-3.9zM410.6 66.4h1.3v1.3h-1.3zM415.8 66.4h2.6v1.3h-2.6zM419.7 66.4h5.2v1.3h-5.2zM361.2 67.7h1.3v1.3h-1.3zM365.1 67.7h1.3v1.3h-1.3zM367.7 67.7h5.2v1.3h-5.2zM376.8 67.7h1.3v1.3h-1.3zM384.6 67.7h1.3v1.3h-1.3zM388.5 67.7h1.3v1.3h-1.3zM391.1 67.7h2.6v1.3h-2.6zM395.0 67.7h3.9v1.3h-3.9zM409.3 67.7h1.3v1.3h-1.3zM411.9 67.7h1.3v1.3h-1.3zM414.5 67.7h1.3v1.3h-1.3zM421.0 67.7h2.6v1.3h-2.6zM356.0 69.0h1.3v1.3h-1.3zM366.4 69.0h1.3v1.3h-1.3zM376.8 69.0h1.3v1.3h-1.3zM379.4 69.0h1.3v1.3h-1.3zM385.9 69.0h1.3v1.3h-1.3zM392.4 69.0h1.3v1.3h-1.3zM395.0 69.0h1.3v1.3h-1.3zM397.6 69.0h1.3v1.3h-1.3zM400.2 69.0h1.3v1.3h-1.3zM405.4 69.0h1.3v1.3h-1.3zM408.0 69.0h1.3v1.3h-1.3zM410.6 69.0h1.3v1.3h-1.3zM417.1 69.0h3.9v1.3h-3.9zM422.3 69.0h1.3v1.3h-1.3zM353.4 70.3h1.3v1.3h-1.3zM356.0 70.3h2.6v1.3h-2.6zM365.1 70.3h1.3v1.3h-1.3zM370.3 70.3h1.3v1.3h-1.3zM375.5 70.3h1.3v1.3h-1.3zM379.4 70.3h1.3v1.3h-1.3zM382.0 70.3h1.3v1.3h-1.3zM387.2 70.3h2.6v1.3h-2.6zM391.1 70.3h1.3v1.3h-1.3zM397.6 70.3h1.3v1.3h-1.3zM402.8 70.3h1.3v1.3h-1.3zM406.7 70.3h1.3v1.3h-1.3zM410.6 70.3h1.3v1.3h-1.3zM415.8 70.3h2.6v1.3h-2.6zM421.0 70.3h2.6v1.3h-2.6zM353.4 71.6h1.3v1.3h-1.3zM357.3 71.6h1.3v1.3h-1.3zM365.1 71.6h2.6v1.3h-2.6zM374.2 71.6h1.3v1.3h-1.3zM378.1 71.6h1.3v1.3h-1.3zM380.7 71.6h1.3v1.3h-1.3zM393.7 71.6h1.3v1.3h-1.3zM401.5 71.6h3.9v1.3h-3.9zM415.8 71.6h1.3v1.3h-1.3zM418.4 71.6h1.3v1.3h-1.3zM354.7 72.9h2.6v1.3h-2.6zM369.0 72.9h6.5v1.3h-6.5zM378.1 72.9h1.3v1.3h-1.3zM392.4 72.9h1.3v1.3h-1.3zM396.3 72.9h1.3v1.3h-1.3zM398.9 72.9h1.3v1.3h-1.3zM408.0 72.9h1.3v1.3h-1.3zM415.8 72.9h1.3v1.3h-1.3zM419.7 72.9h1.3v1.3h-1.3zM356.0 74.2h1.3v1.3h-1.3zM375.5 74.2h1.3v1.3h-1.3zM388.5 74.2h1.3v1.3h-1.3zM400.2 74.2h1.3v1.3h-1.3zM409.3 74.2h2.6v1.3h-2.6zM415.8 74.2h2.6v1.3h-2.6zM358.6 75.5h1.3v1.3h-1.3zM375.5 75.5h5.2v1.3h-5.2zM382.0 75.5h1.3v1.3h-1.3zM384.6 75.5h1.3v1.3h-1.3zM388.5 75.5h1.3v1.3h-1.3zM392.4 75.5h2.6v1.3h-2.6zM400.2 75.5h1.3v1.3h-1.3zM405.4 75.5h1.3v1.3h-1.3zM415.8 75.5h1.3v1.3h-1.3zM359.9 76.8h1.3v1.3h-1.3zM366.4 76.8h1.3v1.3h-1.3zM376.8 76.8h2.6v1.3h-2.6zM380.7 76.8h1.3v1.3h-1.3zM387.2 76.8h2.6v1.3h-2.6zM396.3 76.8h1.3v1.3h-1.3zM401.5 76.8h2.6v1.3h-2.6zM408.0 76.8h2.6v1.3h-2.6zM415.8 76.8h1.3v1.3h-1.3zM356.0 78.1h1.3v1.3h-1.3zM359.9 78.1h1.3v1.3h-1.3zM372.9 78.1h1.3v1.3h-1.3zM376.8 78.1h1.3v1.3h-1.3zM379.4 78.1h3.9v1.3h-3.9zM385.9 78.1h2.6v1.3h-2.6zM392.4 78.1h1.3v1.3h-1.3zM400.2 78.1h2.6v1.3h-2.6zM406.7 78.1h2.6v1.3h-2.6zM413.2 78.1h1.3v1.3h-1.3zM417.1 78.1h1.3v1.3h-1.3zM354.7 79.4h1.3v1.3h-1.3zM361.2 79.4h1.3v1.3h-1.3zM369.0 79.4h1.3v1.3h-1.3zM376.8 79.4h1.3v1.3h-1.3zM383.3 79.4h2.6v1.3h-2.6zM387.2 79.4h1.3v1.3h-1.3zM392.4 79.4h1.3v1.3h-1.3zM395.0 79.4h2.6v1.3h-2.6zM401.5 79.4h1.3v1.3h-1.3zM415.8 79.4h1.3v1.3h-1.3zM359.9 80.7h3.9v1.3h-3.9zM369.0 80.7h1.3v1.3h-1.3zM372.9 80.7h2.6v1.3h-2.6zM379.4 80.7h1.3v1.3h-1.3zM384.6 80.7h1.3v1.3h-1.3zM391.1 80.7h1.3v1.3h-1.3zM397.6 80.7h1.3v1.3h-1.3zM400.2 80.7h1.3v1.3h-1.3zM405.4 80.7h3.9v1.3h-3.9zM413.2 80.7h1.3v1.3h-1.3zM418.4 80.7h1.3v1.3h-1.3zM367.7 82.0h1.3v1.3h-1.3zM370.3 82.0h3.9v1.3h-3.9zM379.4 82.0h2.6v1.3h-2.6zM383.3 82.0h1.3v1.3h-1.3zM385.9 82.0h2.6v1.3h-2.6zM396.3 82.0h1.3v1.3h-1.3zM398.9 82.0h1.3v1.3h-1.3zM401.5 82.0h1.3v1.3h-1.3zM406.7 82.0h1.3v1.3h-1.3zM410.6 82.0h1.3v1.3h-1.3zM415.8 82.0h1.3v1.3h-1.3zM358.6 83.3h1.3v1.3h-1.3zM362.5 83.3h1.3v1.3h-1.3zM365.1 83.3h1.3v1.3h-1.3zM367.7 83.3h3.9v1.3h-3.9zM372.9 83.3h1.3v1.3h-1.3zM375.5 83.3h1.3v1.3h-1.3zM380.7 83.3h1.3v1.3h-1.3zM384.6 83.3h1.3v1.3h-1.3zM388.5 83.3h1.3v1.3h-1.3zM391.1 83.3h1.3v1.3h-1.3zM401.5 83.3h1.3v1.3h-1.3zM409.3 83.3h1.3v1.3h-1.3zM413.2 83.3h1.3v1.3h-1.3zM417.1 83.3h1.3v1.3h-1.3zM357.3 84.6h2.6v1.3h-2.6zM374.2 84.6h1.3v1.3h-1.3zM376.8 84.6h1.3v1.3h-1.3zM382.0 84.6h2.6v1.3h-2.6zM392.4 84.6h1.3v1.3h-1.3zM396.3 84.6h5.2v1.3h-5.2zM404.1 84.6h1.3v1.3h-1.3zM409.3 84.6h3.9v1.3h-3.9zM362.5 85.9h1.3v1.3h-1.3zM366.4 85.9h1.3v1.3h-1.3zM376.8 85.9h1.3v1.3h-1.3zM385.9 85.9h3.9v1.3h-3.9zM393.7 85.9h1.3v1.3h-1.3zM398.9 85.9h1.3v1.3h-1.3zM402.8 85.9h1.3v1.3h-1.3zM408.0 85.9h1.3v1.3h-1.3zM358.6 87.2h1.3v1.3h-1.3zM362.5 87.2h1.3v1.3h-1.3zM370.3 87.2h1.3v1.3h-1.3zM372.9 87.2h1.3v1.3h-1.3zM387.2 87.2h1.3v1.3h-1.3zM392.4 87.2h1.3v1.3h-1.3zM410.6 87.2h1.3v1.3h-1.3zM414.5 87.2h1.3v1.3h-1.3zM367.7 88.5h1.3v1.3h-1.3zM374.2 88.5h1.3v1.3h-1.3zM378.1 88.5h1.3v1.3h-1.3zM384.6 88.5h1.3v1.3h-1.3zM387.2 88.5h2.6v1.3h-2.6zM392.4 88.5h2.6v1.3h-2.6zM396.3 88.5h2.6v1.3h-2.6zM404.1 88.5h1.3v1.3h-1.3zM408.0 88.5h1.3v1.3h-1.3zM363.8 89.8h1.3v1.3h-1.3zM366.4 89.8h1.3v1.3h-1.3zM370.3 89.8h3.9v1.3h-3.9zM387.2 89.8h1.3v1.3h-1.3zM389.8 89.8h1.3v1.3h-1.3zM393.7 89.8h1.3v1.3h-1.3zM402.8 89.8h3.9v1.3h-3.9zM409.3 89.8h1.3v1.3h-1.3zM415.8 89.8h1.3v1.3h-1.3zM359.9 91.1h1.3v1.3h-1.3zM365.1 91.1h1.3v1.3h-1.3zM369.0 91.1h1.3v1.3h-1.3zM372.9 91.1h2.6v1.3h-2.6zM376.8 91.1h1.3v1.3h-1.3zM383.3 91.1h1.3v1.3h-1.3zM388.5 91.1h1.3v1.3h-1.3zM391.1 91.1h1.3v1.3h-1.3zM404.1 91.1h1.3v1.3h-1.3zM410.6 91.1h3.9v1.3h-3.9zM361.2 92.4h1.3v1.3h-1.3zM370.3 92.4h2.6v1.3h-2.6zM374.2 92.4h5.2v1.3h-5.2zM382.0 92.4h1.3v1.3h-1.3zM385.9 92.4h2.6v1.3h-2.6zM392.4 92.4h1.3v1.3h-1.3zM395.0 92.4h1.3v1.3h-1.3zM401.5 92.4h1.3v1.3h-1.3zM417.1 92.4h1.3v1.3h-1.3zM363.8 93.7h3.9v1.3h-3.9zM376.8 93.7h1.3v1.3h-1.3zM387.2 93.7h2.6v1.3h-2.6zM392.4 93.7h1.3v1.3h-1.3zM395.0 93.7h2.6v1.3h-2.6zM401.5 93.7h2.6v1.3h-2.6zM405.4 93.7h2.6v1.3h-2.6zM410.6 93.7h1.3v1.3h-1.3zM415.8 93.7h2.6v1.3h-2.6zM362.5 95.0h1.3v1.3h-1.3zM372.9 95.0h2.6v1.3h-2.6zM382.0 95.0h1.3v1.3h-1.3zM385.9 95.0h1.3v1.3h-1.3zM388.5 95.0h1.3v1.3h-1.3zM400.2 95.0h1.3v1.3h-1.3zM405.4 95.0h1.3v1.3h-1.3zM413.2 95.0h1.3v1.3h-1.3zM366.4 96.3h2.6v1.3h-2.6zM371.6 96.3h1.3v1.3h-1.3zM375.5 96.3h1.3v1.3h-1.3zM379.4 96.3h1.3v1.3h-1.3zM383.3 96.3h2.6v1.3h-2.6zM392.4 96.3h1.3v1.3h-1.3zM395.0 96.3h1.3v1.3h-1.3zM398.9 96.3h1.3v1.3h-1.3zM401.5 96.3h3.9v1.3h-3.9zM406.7 96.3h1.3v1.3h-1.3zM410.6 96.3h1.3v1.3h-1.3zM414.5 96.3h1.3v1.3h-1.3zM365.1 97.6h1.3v1.3h-1.3zM369.0 97.6h2.6v1.3h-2.6zM374.2 97.6h1.3v1.3h-1.3zM387.2 97.6h1.3v1.3h-1.3zM398.9 97.6h1.3v1.3h-1.3zM404.1 97.6h2.6v1.3h-2.6zM411.9 97.6h1.3v1.3h-1.3zM415.8 97.6h1.3v1.3h-1.3zM371.6 98.9h3.9v1.3h-3.9zM378.1 98.9h1.3v1.3h-1.3zM384.6 98.9h6.5v1.3h-6.5zM395.0 98.9h1.3v1.3h-1.3zM398.9 98.9h2.6v1.3h-2.6zM405.4 98.9h1.3v1.3h-1.3zM408.0 98.9h1.3v1.3h-1.3zM413.2 98.9h1.3v1.3h-1.3zM366.4 100.2h1.3v1.3h-1.3zM371.6 100.2h1.3v1.3h-1.3zM375.5 100.2h2.6v1.3h-2.6zM382.0 100.2h1.3v1.3h-1.3zM391.1 100.2h1.3v1.3h-1.3zM393.7 100.2h1.3v1.3h-1.3zM404.1 100.2h1.3v1.3h-1.3zM410.6 100.2h1.3v1.3h-1.3zM372.9 101.5h1.3v1.3h-1.3zM388.5 101.5h1.3v1.3h-1.3zM400.2 101.5h1.3v1.3h-1.3zM402.8 101.5h1.3v1.3h-1.3zM406.7 101.5h3.9v1.3h-3.9zM366.4 102.8h1.3v1.3h-1.3zM380.7 102.8h2.6v1.3h-2.6zM385.9 102.8h1.3v1.3h-1.3zM392.4 102.8h1.3v1.3h-1.3zM395.0 102.8h2.6v1.3h-2.6zM401.5 102.8h1.3v1.3h-1.3zM408.0 102.8h1.3v1.3h-1.3zM410.6 102.8h2.6v1.3h-2.6zM371.6 104.1h1.3v1.3h-1.3zM375.5 104.1h2.6v1.3h-2.6zM385.9 104.1h3.9v1.3h-3.9zM391.1 104.1h1.3v1.3h-1.3zM398.9 104.1h1.3v1.3h-1.3zM402.8 104.1h1.3v1.3h-1.3zM409.3 104.1h1.3v1.3h-1.3zM413.2 104.1h1.3v1.3h-1.3zM366.4 105.4h1.3v1.3h-1.3zM371.6 105.4h1.3v1.3h-1.3zM374.2 105.4h2.6v1.3h-2.6zM380.7 105.4h1.3v1.3h-1.3zM385.9 105.4h1.3v1.3h-1.3zM388.5 105.4h2.6v1.3h-2.6zM395.0 105.4h2.6v1.3h-2.6zM402.8 105.4h1.3v1.3h-1.3zM408.0 105.4h1.3v1.3h-1.3zM415.8 105.4h1.3v1.3h-1.3zM365.1 106.7h1.3v1.3h-1.3zM367.7 106.7h2.6v1.3h-2.6zM372.9 106.7h1.3v1.3h-1.3zM388.5 106.7h1.3v1.3h-1.3zM396.3 106.7h1.3v1.3h-1.3zM398.9 106.7h2.6v1.3h-2.6zM406.7 106.7h1.3v1.3h-1.3zM411.9 106.7h2.6v1.3h-2.6zM367.7 108.0h3.9v1.3h-3.9zM372.9 108.0h2.6v1.3h-2.6zM379.4 108.0h1.3v1.3h-1.3zM383.3 108.0h1.3v1.3h-1.3zM388.5 108.0h1.3v1.3h-1.3zM398.9 108.0h2.6v1.3h-2.6zM405.4 108.0h1.3v1.3h-1.3zM369.0 109.3h1.3v1.3h-1.3zM376.8 109.3h2.6v1.3h-2.6zM395.0 109.3h1.3v1.3h-1.3zM398.9 109.3h2.6v1.3h-2.6zM402.8 109.3h1.3v1.3h-1.3zM405.4 109.3h1.3v1.3h-1.3zM408.0 109.3h1.3v1.3h-1.3zM367.7 110.6h1.3v1.3h-1.3zM371.6 110.6h2.6v1.3h-2.6zM378.1 110.6h1.3v1.3h-1.3zM387.2 110.6h2.6v1.3h-2.6zM391.1 110.6h3.9v1.3h-3.9zM396.3 110.6h1.3v1.3h-1.3zM400.2 110.6h1.3v1.3h-1.3zM404.1 110.6h3.9v1.3h-3.9zM413.2 110.6h1.3v1.3h-1.3zM365.1 111.9h1.3v1.3h-1.3zM371.6 111.9h1.3v1.3h-1.3zM374.2 111.9h1.3v1.3h-1.3zM385.9 111.9h1.3v1.3h-1.3zM388.5 111.9h1.3v1.3h-1.3zM397.6 111.9h1.3v1.3h-1.3zM406.7 111.9h1.3v1.3h-1.3zM410.6 111.9h1.3v1.3h-1.3zM365.1 113.2h1.3v1.3h-1.3zM372.9 113.2h1.3v1.3h-1.3zM382.0 113.2h1.3v1.3h-1.3zM392.4 113.2h1.3v1.3h-1.3zM409.3 113.2h2.6v1.3h-2.6zM414.5 113.2h1.3v1.3h-1.3zM367.7 114.5h1.3v1.3h-1.3zM372.9 114.5h1.3v1.3h-1.3zM379.4 114.5h1.3v1.3h-1.3zM382.0 114.5h2.6v1.3h-2.6zM388.5 114.5h1.3v1.3h-1.3zM396.3 114.5h2.6v1.3h-2.6zM402.8 114.5h1.3v1.3h-1.3zM369.0 115.8h2.6v1.3h-2.6zM387.2 115.8h2.6v1.3h-2.6zM398.9 115.8h1.3v1.3h-1.3zM401.5 115.8h2.6v1.3h-2.6zM405.4 115.8h1.3v1.3h-1.3zM411.9 115.8h1.3v1.3h-1.3zM363.8 117.1h1.3v1.3h-1.3zM366.4 117.1h1.3v1.3h-1.3zM380.7 117.1h2.6v1.3h-2.6zM384.6 117.1h1.3v1.3h-1.3zM404.1 117.1h1.3v1.3h-1.3zM406.7 117.1h1.3v1.3h-1.3zM366.4 118.4h1.3v1.3h-1.3zM369.0 118.4h1.3v1.3h-1.3zM383.3 118.4h1.3v1.3h-1.3zM385.9 118.4h1.3v1.3h-1.3zM395.0 118.4h1.3v1.3h-1.3zM397.6 118.4h1.3v1.3h-1.3zM402.8 118.4h2.6v1.3h-2.6zM406.7 118.4h1.3v1.3h-1.3zM409.3 118.4h2.6v1.3h-2.6zM366.4 119.7h1.3v1.3h-1.3zM380.7 119.7h1.3v1.3h-1.3zM396.3 119.7h2.6v1.3h-2.6zM367.7 121.0h1.3v1.3h-1.3zM371.6 121.0h5.2v1.3h-5.2zM382.0 121.0h1.3v1.3h-1.3zM387.2 121.0h1.3v1.3h-1.3zM406.7 121.0h1.3v1.3h-1.3zM365.1 122.3h1.3v1.3h-1.3zM370.3 122.3h1.3v1.3h-1.3zM372.9 122.3h9.1v1.3h-9.1zM384.6 122.3h3.9v1.3h-3.9zM401.5 122.3h1.3v1.3h-1.3zM404.1 122.3h1.3v1.3h-1.3zM406.7 122.3h1.3v1.3h-1.3zM366.4 123.6h3.9v1.3h-3.9zM372.9 123.6h1.3v1.3h-1.3zM375.5 123.6h2.6v1.3h-2.6zM379.4 123.6h1.3v1.3h-1.3zM383.3 123.6h1.3v1.3h-1.3zM400.2 123.6h2.6v1.3h-2.6zM367.7 124.9h2.6v1.3h-2.6zM376.8 124.9h1.3v1.3h-1.3zM372.9 126.2h1.3v1.3h-1.3zM375.5 126.2h2.6v1.3h-2.6z" fill="#1e50ff" />
<path d="M279.3 33.9h1.3v1.3h-1.3zM283.2 33.9h1.3v1.3h-1.3zM280.6 35.2h1.3v1.3h-1.3zM289.7 35.2h1.3v1.3h-1.3zM292.3 35.2h1.3v1.3h-1.3zM280.6 37.8h1.3v1.3h-1.3zM283.2 37.8h1.3v1.3h-1.3zM285.8 37.8h1.3v1.3h-1.3zM292.3 37.8h1.3v1.3h-1.3zM287.1 39.1h1.3v1.3h-1.3zM292.3 39.1h1.3v1.3h-1.3zM287.1 40.4h1.3v1.3h-1.3zM285.8 44.3h1.3v1.3h-1.3zM291.0 44.3h1.3v1.3h-1.3zM306.6 44.3h1.3v1.3h-1.3zM297.5 46.9h1.3v1.3h-1.3zM309.2 46.9h1.3v1.3h-1.3zM314.4 46.9h1.3v1.3h-1.3zM339.1 46.9h1.3v1.3h-1.3zM341.7 46.9h1.3v1.3h-1.3zM408.0 46.9h1.3v1.3h-1.3zM306.6 48.2h1.3v1.3h-1.3zM328.7 48.2h1.3v1.3h-1.3zM353.4 48.2h1.3v1.3h-1.3zM366.4 48.2h2.6v1.3h-2.6zM392.4 48.2h1.3v1.3h-1.3zM324.8 49.5h3.9v1.3h-3.9zM337.8 49.5h1.3v1.3h-1.3zM344.3 49.5h1.3v1.3h-1.3zM349.5 49.5h1.3v1.3h-1.3zM387.2 49.5h1.3v1.3h-1.3zM393.7 49.5h1.3v1.3h-1.3zM408.0 49.5h1.3v1.3h-1.3zM411.9 49.5h1.3v1.3h-1.3zM311.8 50.8h1.3v1.3h-1.3zM315.7 50.8h1.3v1.3h-1.3zM336.5 50.8h1.3v1.3h-1.3zM353.4 50.8h1.3v1.3h-1.3zM369.0 50.8h1.3v1.3h-1.3zM374.2 50.8h2.6v1.3h-2.6zM382.0 50.8h1.3v1.3h-1.3zM401.5 50.8h1.3v1.3h-1.3zM406.7 50.8h1.3v1.3h-1.3zM409.3 50.8h1.3v1.3h-1.3zM292.3 52.1h1.3v1.3h-1.3zM305.3 52.1h1.3v1.3h-1.3zM315.7 52.1h1.3v1.3h-1.3zM323.5 52.1h1.3v1.3h-1.3zM326.1 52.1h1.3v1.3h-1.3zM339.1 52.1h1.3v1.3h-1.3zM354.7 52.1h1.3v1.3h-1.3zM362.5 52.1h1.3v1.3h-1.3zM372.9 52.1h1.3v1.3h-1.3zM344.3 53.4h1.3v1.3h-1.3zM346.9 53.4h1.3v1.3h-1.3zM356.0 53.4h2.6v1.3h-2.6zM363.8 53.4h1.3v1.3h-1.3zM369.0 53.4h1.3v1.3h-1.3zM371.6 53.4h1.3v1.3h-1.3zM400.2 53.4h1.3v1.3h-1.3zM297.5 54.7h2.6v1.3h-2.6zM344.3 54.7h1.3v1.3h-1.3zM359.9 56.0h1.3v1.3h-1.3zM398.9 56.0h2.6v1.3h-2.6zM361.2 57.3h1.3v1.3h-1.3zM404.1 57.3h2.6v1.3h-2.6zM369.0 58.6h1.3v1.3h-1.3zM371.6 58.6h1.3v1.3h-1.3zM378.1 58.6h1.3v1.3h-1.3zM396.3 58.6h1.3v1.3h-1.3zM398.9 58.6h1.3v1.3h-1.3zM409.3 58.6h1.3v1.3h-1.3zM354.7 59.9h1.3v1.3h-1.3zM385.9 59.9h1.3v1.3h-1.3zM405.4 59.9h1.3v1.3h-1.3zM375.5 61.2h1.3v1.3h-1.3zM402.8 61.2h1.3v1.3h-1.3zM411.9 61.2h1.3v1.3h-1.3zM413.2 62.5h1.3v1.3h-1.3zM422.3 62.5h1.3v1.3h-1.3zM365.1 63.8h1.3v1.3h-1.3zM370.3 63.8h1.3v1.3h-1.3zM384.6 63.8h1.3v1.3h-1.3zM393.7 63.8h1.3v1.3h-1.3zM397.6 63.8h1.3v1.3h-1.3zM417.1 63.8h1.3v1.3h-1.3zM419.7 63.8h1.3v1.3h-1.3zM353.4 65.1h1.3v1.3h-1.3zM363.8 65.1h1.3v1.3h-1.3zM374.2 65.1h1.3v1.3h-1.3zM379.4 65.1h2.6v1.3h-2.6zM387.2 65.1h1.3v1.3h-1.3zM391.1 65.1h2.6v1.3h-2.6zM395.0 65.1h1.3v1.3h-1.3zM362.5 66.4h2.6v1.3h-2.6zM380.7 66.4h1.3v1.3h-1.3zM389.8 66.4h1.3v1.3h-1.3zM396.3 66.4h1.3v1.3h-1.3zM398.9 66.4h1.3v1.3h-1.3zM369.0 67.7h1.3v1.3h-1.3zM384.6 67.7h1.3v1.3h-1.3zM392.4 67.7h1.3v1.3h-1.3zM359.9 69.0h1.3v1.3h-1.3zM378.1 69.0h1.3v1.3h-1.3zM405.4 69.0h1.3v1.3h-1.3zM417.1 69.0h1.3v1.3h-1.3zM353.4 70.3h1.3v1.3h-1.3zM391.1 70.3h1.3v1.3h-1.3zM402.8 70.3h1.3v1.3h-1.3zM408.0 70.3h1.3v1.3h-1.3zM410.6 70.3h1.3v1.3h-1.3zM366.4 71.6h1.3v1.3h-1.3zM379.4 71.6h1.3v1.3h-1.3zM398.9 71.6h1.3v1.3h-1.3zM369.0 72.9h1.3v1.3h-1.3zM400.2 72.9h1.3v1.3h-1.3zM404.1 72.9h1.3v1.3h-1.3zM408.0 72.9h1.3v1.3h-1.3zM382.0 74.2h1.3v1.3h-1.3zM392.4 74.2h1.3v1.3h-1.3zM413.2 74.2h1.3v1.3h-1.3zM382.0 75.5h1.3v1.3h-1.3zM404.1 75.5h1.3v1.3h-1.3zM357.3 76.8h1.3v1.3h-1.3zM361.2 76.8h1.3v1.3h-1.3zM372.9 76.8h1.3v1.3h-1.3zM376.8 76.8h1.3v1.3h-1.3zM382.0 76.8h1.3v1.3h-1.3zM398.9 76.8h1.3v1.3h-1.3zM406.7 76.8h1.3v1.3h-1.3zM379.4 78.1h1.3v1.3h-1.3zM384.6 78.1h1.3v1.3h-1.3zM400.2 78.1h1.3v1.3h-1.3zM367.7 79.4h1.3v1.3h-1.3zM401.5 79.4h1.3v1.3h-1.3zM367.7 80.7h1.3v1.3h-1.3zM372.9 80.7h1.3v1.3h-1.3zM358.6 82.0h1.3v1.3h-1.3zM387.2 82.0h1.3v1.3h-1.3zM391.1 82.0h3.9v1.3h-3.9zM397.6 82.0h1.3v1.3h-1.3zM400.2 82.0h1.3v1.3h-1.3zM405.4 82.0h1.3v1.3h-1.3zM379.4 83.3h1.3v1.3h-1.3zM391.1 83.3h1.3v1.3h-1.3zM395.0 83.3h1.3v1.3h-1.3zM414.5 83.3h1.3v1.3h-1.3zM376.8 84.6h2.6v1.3h-2.6zM389.8 84.6h1.3v1.3h-1.3zM405.4 84.6h1.3v1.3h-1.3zM371.6 85.9h1.3v1.3h-1.3zM383.3 85.9h1.3v1.3h-1.3zM385.9 85.9h1.3v1.3h-1.3zM408.0 85.9h1.3v1.3h-1.3zM400.2 87.2h2.6v1.3h-2.6zM413.2 87.2h1.3v1.3h-1.3zM370.3 88.5h1.3v1.3h-1.3zM385.9 88.5h1.3v1.3h-1.3zM400.2 88.5h1.3v1.3h-1.3zM406.7 88.5h1.3v1.3h-1.3zM375.5 89.8h1.3v1.3h-1.3zM379.4 89.8h1.3v1.3h-1.3zM411.9 89.8h1.3v1.3h-1.3zM415.8 89.8h1.3v1.3h-1.3zM365.1 91.1h1.3v1.3h-1.3zM367.7 91.1h1.3v1.3h-1.3zM400.2 91.1h2.6v1.3h-2.6zM413.2 91.1h1.3v1.3h-1.3zM372.9 92.4h1.3v1.3h-1.3zM397.6 92.4h1.3v1.3h-1.3zM400.2 92.4h1.3v1.3h-1.3zM391.1 93.7h1.3v1.3h-1.3zM405.4 93.7h1.3v1.3h-1.3zM362.5 95.0h1.3v1.3h-1.3zM376.8 95.0h1.3v1.3h-1.3zM384.6 95.0h1.3v1.3h-1.3zM389.8 95.0h2.6v1.3h-2.6zM400.2 95.0h1.3v1.3h-1.3zM402.8 95.0h1.3v1.3h-1.3zM369.0 96.3h1.3v1.3h-1.3zM409.3 96.3h1.3v1.3h-1.3zM389.8 97.6h1.3v1.3h-1.3zM374.2 98.9h1.3v1.3h-1.3zM384.6 98.9h1.3v1.3h-1.3zM404.1 98.9h2.6v1.3h-2.6zM367.7 100.2h2.6v1.3h-2.6zM371.6 100.2h1.3v1.3h-1.3zM396.3 100.2h1.3v1.3h-1.3zM413.2 100.2h1.3v1.3h-1.3zM382.0 101.5h1.3v1.3h-1.3zM384.6 101.5h1.3v1.3h-1.3zM389.8 101.5h1.3v1.3h-1.3zM402.8 101.5h1.3v1.3h-1.3zM408.0 101.5h1.3v1.3h-1.3zM382.0 102.8h1.3v1.3h-1.3zM385.9 102.8h1.3v1.3h-1.3zM413.2 102.8h1.3v1.3h-1.3zM372.9 104.1h1.3v1.3h-1.3zM375.5 104.1h2.6v1.3h-2.6zM408.0 104.1h1.3v1.3h-1.3zM384.6 105.4h1.3v1.3h-1.3zM388.5 105.4h1.3v1.3h-1.3zM392.4 105.4h1.3v1.3h-1.3zM414.5 105.4h1.3v1.3h-1.3zM372.9 106.7h1.3v1.3h-1.3zM388.5 106.7h1.3v1.3h-1.3zM393.7 106.7h1.3v1.3h-1.3zM400.2 106.7h1.3v1.3h-1.3zM406.7 106.7h1.3v1.3h-1.3zM372.9 108.0h1.3v1.3h-1.3zM379.4 108.0h1.3v1.3h-1.3zM393.7 108.0h1.3v1.3h-1.3zM379.4 110.6h1.3v1.3h-1.3zM396.3 110.6h1.3v1.3h-1.3zM400.2 110.6h1.3v1.3h-1.3zM411.9 110.6h1.3v1.3h-1.3zM365.1 111.9h1.3v1.3h-1.3zM380.7 111.9h1.3v1.3h-1.3zM379.4 113.2h1.3v1.3h-1.3zM392.4 113.2h1.3v1.3h-1.3zM411.9 113.2h3.9v1.3h-3.9zM371.6 114.5h2.6v1.3h-2.6zM382.0 114.5h1.3v1.3h-1.3zM393.7 114.5h1.3v1.3h-1.3zM414.5 114.5h1.3v1.3h-1.3zM369.0 115.8h1.3v1.3h-1.3zM380.7 115.8h1.3v1.3h-1.3zM383.3 115.8h1.3v1.3h-1.3zM405.4 115.8h1.3v1.3h-1.3zM366.4 117.1h1.3v1.3h-1.3zM406.7 117.1h1.3v1.3h-1.3zM370.3 118.4h1.3v1.3h-1.3zM397.6 118.4h1.3v1.3h-1.3zM408.0 119.7h1.3v1.3h-1.3zM372.9 121.0h1.3v1.3h-1.3zM380.7 121.0h1.3v1.3h-1.3zM370.3 122.3h1.3v1.3h-1.3zM396.3 122.3h1.3v1.3h-1.3zM405.4 122.3h1.3v1.3h-1.3zM369.0 124.9h1.3v1.3h-1.3zM375.5 124.9h1.3v1.3h-1.3z" fill="#0a18e6" />
<polygon points="286.0,38.0 296.0,40.0 306.0,46.0 312.0,50.0 306.0,54.0 296.0,53.0 288.0,46.0" fill="#50ecb4" />
<path d="M287.3 38.0h1.3v1.3h-1.3zM286.0 39.3h2.6v1.3h-2.6zM293.8 40.6h1.3v1.3h-1.3zM291.2 41.9h1.3v1.3h-1.3zM295.1 41.9h1.3v1.3h-1.3zM287.3 43.2h1.3v1.3h-1.3zM293.8 43.2h1.3v1.3h-1.3zM296.4 43.2h1.3v1.3h-1.3zM300.3 43.2h1.3v1.3h-1.3zM291.2 44.5h2.6v1.3h-2.6zM297.7 44.5h1.3v1.3h-1.3zM302.9 44.5h1.3v1.3h-1.3zM288.6 45.8h2.6v1.3h-2.6zM292.5 45.8h1.3v1.3h-1.3zM296.4 45.8h1.3v1.3h-1.3zM300.3 45.8h1.3v1.3h-1.3zM302.9 45.8h1.3v1.3h-1.3zM289.9 47.1h1.3v1.3h-1.3zM292.5 47.1h1.3v1.3h-1.3zM296.4 47.1h2.6v1.3h-2.6zM300.3 47.1h1.3v1.3h-1.3zM304.2 47.1h1.3v1.3h-1.3zM291.2 48.4h3.9v1.3h-3.9zM296.4 48.4h2.6v1.3h-2.6zM300.3 48.4h1.3v1.3h-1.3zM302.9 48.4h2.6v1.3h-2.6zM309.4 48.4h1.3v1.3h-1.3zM293.8 49.7h1.3v1.3h-1.3zM297.7 49.7h1.3v1.3h-1.3zM300.3 49.7h1.3v1.3h-1.3zM302.9 49.7h1.3v1.3h-1.3zM295.1 51.0h1.3v1.3h-1.3zM299.0 51.0h1.3v1.3h-1.3zM301.6 51.0h1.3v1.3h-1.3zM308.1 51.0h1.3v1.3h-1.3zM297.7 52.3h2.6v1.3h-2.6zM302.9 52.3h1.3v1.3h-1.3zM306.8 52.3h1.3v1.3h-1.3z" fill="#14d2f8" />
<path d="M291.2 39.3h1.3v1.3h-1.3zM293.8 40.6h1.3v1.3h-1.3zM288.6 41.9h2.6v1.3h-2.6zM288.6 43.2h1.3v1.3h-1.3zM291.2 43.2h1.3v1.3h-1.3zM293.8 43.2h2.6v1.3h-2.6zM299.0 43.2h1.3v1.3h-1.3zM301.6 43.2h1.3v1.3h-1.3zM299.0 44.5h1.3v1.3h-1.3zM289.9 45.8h1.3v1.3h-1.3zM292.5 45.8h1.3v1.3h-1.3zM295.1 45.8h1.3v1.3h-1.3zM297.7 45.8h1.3v1.3h-1.3zM301.6 45.8h1.3v1.3h-1.3zM305.5 45.8h1.3v1.3h-1.3zM289.9 47.1h1.3v1.3h-1.3zM295.1 47.1h1.3v1.3h-1.3zM301.6 47.1h2.6v1.3h-2.6zM305.5 47.1h1.3v1.3h-1.3zM292.5 48.4h1.3v1.3h-1.3zM304.2 48.4h1.3v1.3h-1.3zM308.1 48.4h1.3v1.3h-1.3zM309.4 49.7h1.3v1.3h-1.3zM301.6 51.0h1.3v1.3h-1.3zM302.9 52.3h1.3v1.3h-1.3z" fill="#a8f05a" />
<polygon points="360.0,56.0 372.0,50.0 392.0,48.0 408.0,50.0 416.0,58.0 418.0,70.0 414.0,85.0 412.0,100.0 404.0,110.0 390.0,110.0 378.0,114.0 368.0,106.0 362.0,88.0 358.0,70.0" fill="#50ecb4" />
<path d="M389.2 48.0h1.3v1.3h-1.3zM393.1 48.0h1.3v1.3h-1.3zM389.2 49.3h1.3v1.3h-1.3zM393.1 49.3h1.3v1.3h-1.3zM384.0 50.6h1.3v1.3h-1.3zM395.7 50.6h1.3v1.3h-1.3zM406.1 50.6h1.3v1.3h-1.3zM367.1 51.9h1.3v1.3h-1.3zM406.1 51.9h1.3v1.3h-1.3zM365.8 53.2h2.6v1.3h-2.6zM373.6 53.2h1.3v1.3h-1.3zM384.0 53.2h1.3v1.3h-1.3zM389.2 53.2h1.3v1.3h-1.3zM394.4 53.2h1.3v1.3h-1.3zM408.7 53.2h2.6v1.3h-2.6zM361.9 54.5h1.3v1.3h-1.3zM380.1 54.5h1.3v1.3h-1.3zM390.5 54.5h1.3v1.3h-1.3zM399.6 54.5h1.3v1.3h-1.3zM407.4 54.5h1.3v1.3h-1.3zM360.6 55.8h2.6v1.3h-2.6zM365.8 55.8h2.6v1.3h-2.6zM374.9 55.8h1.3v1.3h-1.3zM378.8 55.8h1.3v1.3h-1.3zM381.4 55.8h1.3v1.3h-1.3zM387.9 55.8h1.3v1.3h-1.3zM399.6 55.8h1.3v1.3h-1.3zM407.4 55.8h1.3v1.3h-1.3zM411.3 55.8h2.6v1.3h-2.6zM364.5 57.1h1.3v1.3h-1.3zM372.3 57.1h1.3v1.3h-1.3zM377.5 57.1h1.3v1.3h-1.3zM398.3 57.1h1.3v1.3h-1.3zM400.9 57.1h1.3v1.3h-1.3zM410.0 57.1h1.3v1.3h-1.3zM374.9 58.4h1.3v1.3h-1.3zM387.9 58.4h1.3v1.3h-1.3zM360.6 59.7h1.3v1.3h-1.3zM369.7 59.7h1.3v1.3h-1.3zM406.1 59.7h2.6v1.3h-2.6zM371.0 61.0h3.9v1.3h-3.9zM382.7 61.0h1.3v1.3h-1.3zM391.8 61.0h1.3v1.3h-1.3zM411.3 61.0h1.3v1.3h-1.3zM364.5 62.3h2.6v1.3h-2.6zM378.8 62.3h1.3v1.3h-1.3zM381.4 62.3h1.3v1.3h-1.3zM398.3 62.3h2.6v1.3h-2.6zM413.9 62.3h1.3v1.3h-1.3zM377.5 63.6h1.3v1.3h-1.3zM385.3 63.6h1.3v1.3h-1.3zM387.9 63.6h2.6v1.3h-2.6zM393.1 63.6h1.3v1.3h-1.3zM400.9 63.6h1.3v1.3h-1.3zM360.6 64.9h1.3v1.3h-1.3zM363.2 64.9h1.3v1.3h-1.3zM381.4 64.9h1.3v1.3h-1.3zM387.9 64.9h1.3v1.3h-1.3zM393.1 64.9h1.3v1.3h-1.3zM407.4 64.9h2.6v1.3h-2.6zM361.9 66.2h1.3v1.3h-1.3zM364.5 66.2h2.6v1.3h-2.6zM386.6 66.2h1.3v1.3h-1.3zM398.3 66.2h2.6v1.3h-2.6zM411.3 66.2h1.3v1.3h-1.3zM415.2 66.2h1.3v1.3h-1.3zM373.6 67.5h1.3v1.3h-1.3zM380.1 67.5h1.3v1.3h-1.3zM386.6 67.5h2.6v1.3h-2.6zM402.2 67.5h1.3v1.3h-1.3zM364.5 68.8h2.6v1.3h-2.6zM387.9 68.8h1.3v1.3h-1.3zM390.5 68.8h1.3v1.3h-1.3zM399.6 68.8h1.3v1.3h-1.3zM410.0 68.8h2.6v1.3h-2.6zM360.6 70.1h1.3v1.3h-1.3zM371.0 70.1h1.3v1.3h-1.3zM374.9 70.1h1.3v1.3h-1.3zM380.1 70.1h1.3v1.3h-1.3zM386.6 70.1h1.3v1.3h-1.3zM410.0 70.1h1.3v1.3h-1.3zM415.2 70.1h1.3v1.3h-1.3zM361.9 71.4h1.3v1.3h-1.3zM364.5 71.4h1.3v1.3h-1.3zM372.3 71.4h1.3v1.3h-1.3zM374.9 71.4h1.3v1.3h-1.3zM384.0 71.4h2.6v1.3h-2.6zM393.1 71.4h1.3v1.3h-1.3zM395.7 71.4h1.3v1.3h-1.3zM416.5 71.4h1.3v1.3h-1.3zM363.2 72.7h1.3v1.3h-1.3zM365.8 72.7h1.3v1.3h-1.3zM368.4 72.7h2.6v1.3h-2.6zM372.3 72.7h1.3v1.3h-1.3zM390.5 72.7h1.3v1.3h-1.3zM403.5 72.7h1.3v1.3h-1.3zM407.4 72.7h1.3v1.3h-1.3zM412.6 72.7h2.6v1.3h-2.6zM359.3 74.0h1.3v1.3h-1.3zM364.5 74.0h1.3v1.3h-1.3zM373.6 74.0h1.3v1.3h-1.3zM381.4 74.0h1.3v1.3h-1.3zM402.2 74.0h1.3v1.3h-1.3zM413.9 74.0h2.6v1.3h-2.6zM360.6 75.3h1.3v1.3h-1.3zM364.5 75.3h1.3v1.3h-1.3zM369.7 75.3h1.3v1.3h-1.3zM363.2 76.6h1.3v1.3h-1.3zM373.6 76.6h1.3v1.3h-1.3zM376.2 76.6h1.3v1.3h-1.3zM390.5 76.6h1.3v1.3h-1.3zM394.4 76.6h1.3v1.3h-1.3zM359.3 77.9h2.6v1.3h-2.6zM374.9 77.9h1.3v1.3h-1.3zM384.0 77.9h1.3v1.3h-1.3zM389.2 77.9h1.3v1.3h-1.3zM395.7 77.9h1.3v1.3h-1.3zM398.3 77.9h1.3v1.3h-1.3zM400.9 77.9h1.3v1.3h-1.3zM364.5 79.2h1.3v1.3h-1.3zM365.8 80.5h1.3v1.3h-1.3zM369.7 80.5h1.3v1.3h-1.3zM387.9 80.5h1.3v1.3h-1.3zM390.5 80.5h1.3v1.3h-1.3zM395.7 80.5h1.3v1.3h-1.3zM402.2 80.5h1.3v1.3h-1.3zM412.6 80.5h2.6v1.3h-2.6zM365.8 81.8h1.3v1.3h-1.3zM368.4 81.8h1.3v1.3h-1.3zM363.2 83.1h1.3v1.3h-1.3zM368.4 83.1h1.3v1.3h-1.3zM377.5 83.1h1.3v1.3h-1.3zM386.6 83.1h1.3v1.3h-1.3zM394.4 83.1h1.3v1.3h-1.3zM399.6 83.1h1.3v1.3h-1.3zM402.2 83.1h2.6v1.3h-2.6zM406.1 83.1h1.3v1.3h-1.3zM411.3 83.1h1.3v1.3h-1.3zM367.1 84.4h3.9v1.3h-3.9zM381.4 84.4h1.3v1.3h-1.3zM390.5 84.4h1.3v1.3h-1.3zM397.0 84.4h1.3v1.3h-1.3zM400.9 84.4h1.3v1.3h-1.3zM367.1 85.7h1.3v1.3h-1.3zM372.3 85.7h2.6v1.3h-2.6zM376.2 85.7h1.3v1.3h-1.3zM380.1 85.7h1.3v1.3h-1.3zM382.7 85.7h1.3v1.3h-1.3zM386.6 85.7h1.3v1.3h-1.3zM391.8 85.7h1.3v1.3h-1.3zM408.7 85.7h1.3v1.3h-1.3zM365.8 87.0h1.3v1.3h-1.3zM374.9 87.0h1.3v1.3h-1.3zM377.5 87.0h1.3v1.3h-1.3zM380.1 87.0h1.3v1.3h-1.3zM386.6 87.0h3.9v1.3h-3.9zM394.4 87.0h1.3v1.3h-1.3zM400.9 87.0h1.3v1.3h-1.3zM404.8 87.0h1.3v1.3h-1.3zM410.0 87.0h1.3v1.3h-1.3zM365.8 88.3h1.3v1.3h-1.3zM380.1 88.3h1.3v1.3h-1.3zM385.3 88.3h1.3v1.3h-1.3zM410.0 88.3h1.3v1.3h-1.3zM364.5 89.6h1.3v1.3h-1.3zM384.0 89.6h2.6v1.3h-2.6zM412.6 89.6h1.3v1.3h-1.3zM364.5 90.9h1.3v1.3h-1.3zM372.3 90.9h1.3v1.3h-1.3zM384.0 90.9h1.3v1.3h-1.3zM367.1 92.2h1.3v1.3h-1.3zM369.7 92.2h1.3v1.3h-1.3zM376.2 92.2h1.3v1.3h-1.3zM391.8 92.2h1.3v1.3h-1.3zM402.2 92.2h1.3v1.3h-1.3zM404.8 92.2h1.3v1.3h-1.3zM376.2 93.5h2.6v1.3h-2.6zM382.7 93.5h1.3v1.3h-1.3zM386.6 93.5h1.3v1.3h-1.3zM364.5 94.8h2.6v1.3h-2.6zM368.4 94.8h1.3v1.3h-1.3zM385.3 94.8h1.3v1.3h-1.3zM389.2 94.8h1.3v1.3h-1.3zM403.5 94.8h1.3v1.3h-1.3zM410.0 94.8h1.3v1.3h-1.3zM389.2 96.1h1.3v1.3h-1.3zM395.7 96.1h1.3v1.3h-1.3zM404.8 96.1h1.3v1.3h-1.3zM408.7 96.1h2.6v1.3h-2.6zM367.1 97.4h1.3v1.3h-1.3zM378.8 97.4h1.3v1.3h-1.3zM382.7 97.4h2.6v1.3h-2.6zM394.4 97.4h1.3v1.3h-1.3zM399.6 97.4h1.3v1.3h-1.3zM402.2 97.4h1.3v1.3h-1.3zM411.3 97.4h1.3v1.3h-1.3zM368.4 98.7h2.6v1.3h-2.6zM373.6 98.7h1.3v1.3h-1.3zM391.8 98.7h1.3v1.3h-1.3zM394.4 98.7h2.6v1.3h-2.6zM365.8 100.0h1.3v1.3h-1.3zM371.0 100.0h1.3v1.3h-1.3zM373.6 100.0h1.3v1.3h-1.3zM381.4 100.0h1.3v1.3h-1.3zM391.8 100.0h1.3v1.3h-1.3zM397.0 100.0h1.3v1.3h-1.3zM399.6 100.0h1.3v1.3h-1.3zM368.4 101.3h1.3v1.3h-1.3zM381.4 101.3h1.3v1.3h-1.3zM394.4 101.3h1.3v1.3h-1.3zM398.3 101.3h1.3v1.3h-1.3zM372.3 102.6h2.6v1.3h-2.6zM376.2 102.6h1.3v1.3h-1.3zM381.4 102.6h1.3v1.3h-1.3zM384.0 102.6h1.3v1.3h-1.3zM386.6 102.6h2.6v1.3h-2.6zM404.8 102.6h1.3v1.3h-1.3zM371.0 103.9h1.3v1.3h-1.3zM376.2 103.9h2.6v1.3h-2.6zM380.1 103.9h1.3v1.3h-1.3zM382.7 103.9h1.3v1.3h-1.3zM387.9 103.9h1.3v1.3h-1.3zM398.3 103.9h1.3v1.3h-1.3zM400.9 103.9h1.3v1.3h-1.3zM407.4 103.9h1.3v1.3h-1.3zM376.2 105.2h1.3v1.3h-1.3zM387.9 105.2h1.3v1.3h-1.3zM385.3 106.5h1.3v1.3h-1.3zM389.2 106.5h2.6v1.3h-2.6zM397.0 106.5h2.6v1.3h-2.6zM403.5 106.5h1.3v1.3h-1.3zM373.6 107.8h5.2v1.3h-5.2zM389.2 107.8h1.3v1.3h-1.3zM402.2 107.8h1.3v1.3h-1.3zM378.8 109.1h1.3v1.3h-1.3zM387.9 109.1h1.3v1.3h-1.3zM393.1 109.1h1.3v1.3h-1.3zM395.7 109.1h1.3v1.3h-1.3zM399.6 109.1h1.3v1.3h-1.3zM380.1 111.7h1.3v1.3h-1.3z" fill="#1e50ff" />
<path d="M385.3 48.0h1.3v1.3h-1.3zM393.1 48.0h1.3v1.3h-1.3zM374.9 49.3h1.3v1.3h-1.3zM377.5 49.3h1.3v1.3h-1.3zM380.1 49.3h1.3v1.3h-1.3zM382.7 49.3h1.3v1.3h-1.3zM389.2 49.3h1.3v1.3h-1.3zM400.9 49.3h2.6v1.3h-2.6zM404.8 49.3h2.6v1.3h-2.6zM381.4 50.6h1.3v1.3h-1.3zM391.8 50.6h1.3v1.3h-1.3zM397.0 50.6h2.6v1.3h-2.6zM403.5 50.6h1.3v1.3h-1.3zM406.1 50.6h1.3v1.3h-1.3zM371.0 51.9h1.3v1.3h-1.3zM374.9 51.9h1.3v1.3h-1.3zM384.0 51.9h1.3v1.3h-1.3zM386.6 51.9h1.3v1.3h-1.3zM390.5 51.9h1.3v1.3h-1.3zM399.6 51.9h2.6v1.3h-2.6zM377.5 53.2h1.3v1.3h-1.3zM384.0 53.2h1.3v1.3h-1.3zM391.8 53.2h1.3v1.3h-1.3zM404.8 53.2h1.3v1.3h-1.3zM363.2 54.5h2.6v1.3h-2.6zM368.4 54.5h1.3v1.3h-1.3zM371.0 54.5h1.3v1.3h-1.3zM374.9 54.5h2.6v1.3h-2.6zM389.2 54.5h2.6v1.3h-2.6zM393.1 54.5h1.3v1.3h-1.3zM397.0 54.5h1.3v1.3h-1.3zM399.6 54.5h1.3v1.3h-1.3zM407.4 54.5h1.3v1.3h-1.3zM411.3 54.5h1.3v1.3h-1.3zM367.1 55.8h1.3v1.3h-1.3zM372.3 55.8h1.3v1.3h-1.3zM387.9 55.8h1.3v1.3h-1.3zM400.9 55.8h1.3v1.3h-1.3zM404.8 55.8h2.6v1.3h-2.6zM359.3 57.1h1.3v1.3h-1.3zM364.5 57.1h1.3v1.3h-1.3zM368.4 57.1h1.3v1.3h-1.3zM371.0 57.1h1.3v1.3h-1.3zM378.8 57.1h1.3v1.3h-1.3zM384.0 57.1h1.3v1.3h-1.3zM387.9 57.1h2.6v1.3h-2.6zM391.8 57.1h1.3v1.3h-1.3zM397.0 57.1h1.3v1.3h-1.3zM400.9 57.1h1.3v1.3h-1.3zM360.6 58.4h1.3v1.3h-1.3zM365.8 58.4h1.3v1.3h-1.3zM368.4 58.4h1.3v1.3h-1.3zM373.6 58.4h1.3v1.3h-1.3zM378.8 58.4h2.6v1.3h-2.6zM385.3 58.4h1.3v1.3h-1.3zM387.9 58.4h1.3v1.3h-1.3zM390.5 58.4h2.6v1.3h-2.6zM394.4 58.4h1.3v1.3h-1.3zM399.6 58.4h2.6v1.3h-2.6zM406.1 58.4h2.6v1.3h-2.6zM415.2 58.4h1.3v1.3h-1.3zM360.6 59.7h5.2v1.3h-5.2zM369.7 59.7h1.3v1.3h-1.3zM372.3 59.7h1.3v1.3h-1.3zM382.7 59.7h1.3v1.3h-1.3zM385.3 59.7h1.3v1.3h-1.3zM399.6 59.7h1.3v1.3h-1.3zM404.8 59.7h3.9v1.3h-3.9zM413.9 59.7h2.6v1.3h-2.6zM361.9 61.0h1.3v1.3h-1.3zM372.3 61.0h1.3v1.3h-1.3zM376.2 61.0h1.3v1.3h-1.3zM380.1 61.0h1.3v1.3h-1.3zM385.3 61.0h1.3v1.3h-1.3zM387.9 61.0h1.3v1.3h-1.3zM391.8 61.0h1.3v1.3h-1.3zM402.2 61.0h1.3v1.3h-1.3zM406.1 61.0h1.3v1.3h-1.3zM369.7 62.3h1.3v1.3h-1.3zM378.8 62.3h1.3v1.3h-1.3zM394.4 62.3h1.3v1.3h-1.3zM410.0 62.3h1.3v1.3h-1.3zM361.9 63.6h1.3v1.3h-1.3zM365.8 63.6h2.6v1.3h-2.6zM373.6 63.6h2.6v1.3h-2.6zM380.1 63.6h1.3v1.3h-1.3zM382.7 63.6h1.3v1.3h-1.3zM385.3 63.6h1.3v1.3h-1.3zM390.5 63.6h1.3v1.3h-1.3zM410.0 63.6h1.3v1.3h-1.3zM360.6 64.9h2.6v1.3h-2.6zM367.1 64.9h1.3v1.3h-1.3zM376.2 64.9h1.3v1.3h-1.3zM378.8 64.9h1.3v1.3h-1.3zM386.6 64.9h1.3v1.3h-1.3zM397.0 64.9h1.3v1.3h-1.3zM403.5 64.9h1.3v1.3h-1.3zM406.1 64.9h1.3v1.3h-1.3zM410.0 64.9h1.3v1.3h-1.3zM412.6 64.9h1.3v1.3h-1.3zM367.1 66.2h1.3v1.3h-1.3zM373.6 66.2h1.3v1.3h-1.3zM384.0 66.2h1.3v1.3h-1.3zM389.2 66.2h2.6v1.3h-2.6zM397.0 66.2h1.3v1.3h-1.3zM407.4 66.2h2.6v1.3h-2.6zM411.3 66.2h3.9v1.3h-3.9zM360.6 67.5h1.3v1.3h-1.3zM365.8 67.5h2.6v1.3h-2.6zM373.6 67.5h2.6v1.3h-2.6zM378.8 67.5h1.3v1.3h-1.3zM387.9 67.5h1.3v1.3h-1.3zM391.8 67.5h2.6v1.3h-2.6zM399.6 67.5h1.3v1.3h-1.3zM404.8 67.5h1.3v1.3h-1.3zM411.3 67.5h1.3v1.3h-1.3zM416.5 67.5h1.3v1.3h-1.3zM376.2 68.8h1.3v1.3h-1.3zM381.4 68.8h1.3v1.3h-1.3zM385.3 68.8h2.6v1.3h-2.6zM390.5 68.8h1.3v1.3h-1.3zM408.7 68.8h1.3v1.3h-1.3zM359.3 70.1h1.3v1.3h-1.3zM364.5 70.1h1.3v1.3h-1.3zM367.1 70.1h1.3v1.3h-1.3zM378.8 70.1h1.3v1.3h-1.3zM387.9 70.1h2.6v1.3h-2.6zM393.1 70.1h1.3v1.3h-1.3zM397.0 70.1h1.3v1.3h-1.3zM402.2 70.1h2.6v1.3h-2.6zM410.0 70.1h1.3v1.3h-1.3zM358.0 71.4h1.3v1.3h-1.3zM365.8 71.4h1.3v1.3h-1.3zM368.4 71.4h1.3v1.3h-1.3zM374.9 71.4h1.3v1.3h-1.3zM380.1 71.4h1.3v1.3h-1.3zM398.3 71.4h2.6v1.3h-2.6zM403.5 71.4h1.3v1.3h-1.3zM415.2 71.4h1.3v1.3h-1.3zM367.1 72.7h2.6v1.3h-2.6zM372.3 72.7h3.9v1.3h-3.9zM378.8 72.7h1.3v1.3h-1.3zM386.6 72.7h1.3v1.3h-1.3zM391.8 72.7h2.6v1.3h-2.6zM398.3 72.7h1.3v1.3h-1.3zM400.9 72.7h1.3v1.3h-1.3zM413.9 72.7h1.3v1.3h-1.3zM360.6 74.0h7.8v1.3h-7.8zM374.9 74.0h1.3v1.3h-1.3zM380.1 74.0h1.3v1.3h-1.3zM382.7 74.0h1.3v1.3h-1.3zM390.5 74.0h1.3v1.3h-1.3zM399.6 74.0h2.6v1.3h-2.6zM404.8 74.0h1.3v1.3h-1.3zM363.2 75.3h1.3v1.3h-1.3zM367.1 75.3h1.3v1.3h-1.3zM372.3 75.3h5.2v1.3h-5.2zM382.7 75.3h1.3v1.3h-1.3zM386.6 75.3h1.3v1.3h-1.3zM389.2 75.3h1.3v1.3h-1.3zM393.1 75.3h1.3v1.3h-1.3zM397.0 75.3h1.3v1.3h-1.3zM399.6 75.3h1.3v1.3h-1.3zM403.5 75.3h1.3v1.3h-1.3zM406.1 75.3h1.3v1.3h-1.3zM364.5 76.6h3.9v1.3h-3.9zM376.2 76.6h1.3v1.3h-1.3zM382.7 76.6h1.3v1.3h-1.3zM390.5 76.6h1.3v1.3h-1.3zM399.6 76.6h1.3v1.3h-1.3zM408.7 76.6h1.3v1.3h-1.3zM365.8 77.9h2.6v1.3h-2.6zM371.0 77.9h1.3v1.3h-1.3zM377.5 77.9h2.6v1.3h-2.6zM390.5 77.9h1.3v1.3h-1.3zM398.3 77.9h1.3v1.3h-1.3zM400.9 77.9h1.3v1.3h-1.3zM404.8 77.9h1.3v1.3h-1.3zM407.4 77.9h1.3v1.3h-1.3zM412.6 77.9h1.3v1.3h-1.3zM361.9 79.2h1.3v1.3h-1.3zM384.0 79.2h1.3v1.3h-1.3zM393.1 79.2h1.3v1.3h-1.3zM408.7 79.2h2.6v1.3h-2.6zM367.1 80.5h1.3v1.3h-1.3zM386.6 80.5h1.3v1.3h-1.3zM399.6 80.5h2.6v1.3h-2.6zM403.5 80.5h2.6v1.3h-2.6zM361.9 81.8h3.9v1.3h-3.9zM372.3 81.8h2.6v1.3h-2.6zM377.5 81.8h1.3v1.3h-1.3zM384.0 81.8h1.3v1.3h-1.3zM391.8 81.8h2.6v1.3h-2.6zM395.7 81.8h1.3v1.3h-1.3zM399.6 81.8h2.6v1.3h-2.6zM408.7 81.8h1.3v1.3h-1.3zM413.9 81.8h1.3v1.3h-1.3zM360.6 83.1h1.3v1.3h-1.3zM371.0 83.1h1.3v1.3h-1.3zM374.9 83.1h1.3v1.3h-1.3zM378.8 83.1h3.9v1.3h-3.9zM386.6 83.1h2.6v1.3h-2.6zM395.7 83.1h2.6v1.3h-2.6zM399.6 83.1h1.3v1.3h-1.3zM402.2 83.1h2.6v1.3h-2.6zM408.7 83.1h2.6v1.3h-2.6zM365.8 84.4h2.6v1.3h-2.6zM371.0 84.4h1.3v1.3h-1.3zM373.6 84.4h1.3v1.3h-1.3zM384.0 84.4h1.3v1.3h-1.3zM387.9 84.4h1.3v1.3h-1.3zM390.5 84.4h1.3v1.3h-1.3zM395.7 84.4h1.3v1.3h-1.3zM400.9 84.4h1.3v1.3h-1.3zM403.5 84.4h1.3v1.3h-1.3zM407.4 84.4h1.3v1.3h-1.3zM412.6 84.4h1.3v1.3h-1.3zM364.5 85.7h3.9v1.3h-3.9zM372.3 85.7h1.3v1.3h-1.3zM374.9 85.7h1.3v1.3h-1.3zM377.5 85.7h1.3v1.3h-1.3zM380.1 85.7h2.6v1.3h-2.6zM389.2 85.7h1.3v1.3h-1.3zM391.8 85.7h1.3v1.3h-1.3zM395.7 85.7h1.3v1.3h-1.3zM400.9 85.7h1.3v1.3h-1.3zM406.1 85.7h2.6v1.3h-2.6zM410.0 85.7h1.3v1.3h-1.3zM412.6 85.7h1.3v1.3h-1.3zM363.2 87.0h1.3v1.3h-1.3zM367.1 87.0h2.6v1.3h-2.6zM372.3 87.0h1.3v1.3h-1.3zM374.9 87.0h1.3v1.3h-1.3zM381.4 87.0h3.9v1.3h-3.9zM386.6 87.0h1.3v1.3h-1.3zM398.3 87.0h1.3v1.3h-1.3zM400.9 87.0h1.3v1.3h-1.3zM406.1 87.0h1.3v1.3h-1.3zM408.7 87.0h2.6v1.3h-2.6zM412.6 87.0h1.3v1.3h-1.3zM363.2 88.3h1.3v1.3h-1.3zM373.6 88.3h1.3v1.3h-1.3zM377.5 88.3h1.3v1.3h-1.3zM384.0 88.3h1.3v1.3h-1.3zM386.6 88.3h1.3v1.3h-1.3zM390.5 88.3h1.3v1.3h-1.3zM398.3 88.3h1.3v1.3h-1.3zM400.9 88.3h1.3v1.3h-1.3zM371.0 89.6h1.3v1.3h-1.3zM374.9 89.6h2.6v1.3h-2.6zM381.4 89.6h1.3v1.3h-1.3zM386.6 89.6h2.6v1.3h-2.6zM397.0 89.6h1.3v1.3h-1.3zM403.5 89.6h1.3v1.3h-1.3zM410.0 89.6h2.6v1.3h-2.6zM367.1 90.9h1.3v1.3h-1.3zM402.2 90.9h1.3v1.3h-1.3zM404.8 90.9h1.3v1.3h-1.3zM410.0 90.9h1.3v1.3h-1.3zM364.5 92.2h1.3v1.3h-1.3zM367.1 92.2h1.3v1.3h-1.3zM377.5 92.2h1.3v1.3h-1.3zM381.4 92.2h1.3v1.3h-1.3zM386.6 92.2h1.3v1.3h-1.3zM397.0 92.2h1.3v1.3h-1.3zM399.6 92.2h1.3v1.3h-1.3zM407.4 92.2h1.3v1.3h-1.3zM410.0 92.2h2.6v1.3h-2.6zM373.6 93.5h1.3v1.3h-1.3zM376.2 93.5h1.3v1.3h-1.3zM378.8 93.5h2.6v1.3h-2.6zM385.3 93.5h1.3v1.3h-1.3zM387.9 93.5h1.3v1.3h-1.3zM393.1 93.5h1.3v1.3h-1.3zM400.9 93.5h1.3v1.3h-1.3zM410.0 93.5h2.6v1.3h-2.6zM365.8 94.8h2.6v1.3h-2.6zM374.9 94.8h1.3v1.3h-1.3zM382.7 94.8h1.3v1.3h-1.3zM385.3 94.8h1.3v1.3h-1.3zM390.5 94.8h1.3v1.3h-1.3zM394.4 94.8h2.6v1.3h-2.6zM364.5 96.1h1.3v1.3h-1.3zM367.1 96.1h1.3v1.3h-1.3zM369.7 96.1h1.3v1.3h-1.3zM374.9 96.1h3.9v1.3h-3.9zM380.1 96.1h1.3v1.3h-1.3zM382.7 96.1h2.6v1.3h-2.6zM387.9 96.1h1.3v1.3h-1.3zM391.8 96.1h1.3v1.3h-1.3zM397.0 96.1h2.6v1.3h-2.6zM402.2 96.1h1.3v1.3h-1.3zM372.3 97.4h1.3v1.3h-1.3zM377.5 97.4h1.3v1.3h-1.3zM380.1 97.4h2.6v1.3h-2.6zM386.6 97.4h2.6v1.3h-2.6zM391.8 97.4h1.3v1.3h-1.3zM394.4 97.4h1.3v1.3h-1.3zM399.6 97.4h3.9v1.3h-3.9zM372.3 98.7h2.6v1.3h-2.6zM376.2 98.7h1.3v1.3h-1.3zM378.8 98.7h1.3v1.3h-1.3zM381.4 98.7h1.3v1.3h-1.3zM385.3 98.7h1.3v1.3h-1.3zM387.9 98.7h1.3v1.3h-1.3zM390.5 98.7h1.3v1.3h-1.3zM393.1 98.7h3.9v1.3h-3.9zM399.6 98.7h2.6v1.3h-2.6zM410.0 98.7h1.3v1.3h-1.3zM367.1 100.0h1.3v1.3h-1.3zM373.6 100.0h1.3v1.3h-1.3zM377.5 100.0h1.3v1.3h-1.3zM381.4 100.0h1.3v1.3h-1.3zM387.9 100.0h1.3v1.3h-1.3zM390.5 100.0h2.6v1.3h-2.6zM402.2 100.0h2.6v1.3h-2.6zM407.4 100.0h1.3v1.3h-1.3zM368.4 101.3h3.9v1.3h-3.9zM381.4 101.3h1.3v1.3h-1.3zM384.0 101.3h1.3v1.3h-1.3zM387.9 101.3h1.3v1.3h-1.3zM397.0 101.3h2.6v1.3h-2.6zM402.2 101.3h1.3v1.3h-1.3zM407.4 101.3h1.3v1.3h-1.3zM368.4 102.6h1.3v1.3h-1.3zM372.3 102.6h1.3v1.3h-1.3zM374.9 102.6h1.3v1.3h-1.3zM378.8 102.6h1.3v1.3h-1.3zM385.3 102.6h2.6v1.3h-2.6zM394.4 102.6h1.3v1.3h-1.3zM397.0 102.6h1.3v1.3h-1.3zM403.5 102.6h2.6v1.3h-2.6zM408.7 102.6h1.3v1.3h-1.3zM368.4 103.9h1.3v1.3h-1.3zM373.6 103.9h1.3v1.3h-1.3zM377.5 103.9h1.3v1.3h-1.3zM382.7 103.9h2.6v1.3h-2.6zM389.2 103.9h1.3v1.3h-1.3zM394.4 103.9h1.3v1.3h-1.3zM399.6 103.9h1.3v1.3h-1.3zM402.2 103.9h1.3v1.3h-1.3zM406.1 103.9h1.3v1.3h-1.3zM372.3 105.2h2.6v1.3h-2.6zM376.2 105.2h1.3v1.3h-1.3zM389.2 105.2h2.6v1.3h-2.6zM395.7 105.2h2.6v1.3h-2.6zM402.2 105.2h1.3v1.3h-1.3zM384.0 106.5h1.3v1.3h-1.3zM386.6 106.5h2.6v1.3h-2.6zM397.0 106.5h1.3v1.3h-1.3zM402.2 106.5h1.3v1.3h-1.3zM404.8 106.5h1.3v1.3h-1.3zM382.7 107.8h1.3v1.3h-1.3zM389.2 107.8h1.3v1.3h-1.3zM399.6 107.8h1.3v1.3h-1.3zM378.8 109.1h1.3v1.3h-1.3zM382.7 109.1h2.6v1.3h-2.6zM390.5 109.1h1.3v1.3h-1.3zM393.1 109.1h1.3v1.3h-1.3zM397.0 109.1h1.3v1.3h-1.3zM399.6 109.1h1.3v1.3h-1.3zM377.5 110.4h1.3v1.3h-1.3zM384.0 110.4h1.3v1.3h-1.3zM377.5 111.7h1.3v1.3h-1.3zM381.4 111.7h1.3v1.3h-1.3zM377.5 113.0h1.3v1.3h-1.3z" fill="#14d2f8" />
<polygon points="368.0,60.0 382.0,54.0 400.0,52.0 410.0,56.0 414.0,66.0 411.0,80.0 409.0,95.0 398.0,102.0 384.0,100.0 374.0,92.0 369.0,75.0" fill="#a8f05a" />
<path d="M394.0 52.0h1.3v1.3h-1.3zM400.5 52.0h1.3v1.3h-1.3zM383.6 53.3h1.3v1.3h-1.3zM396.6 53.3h1.3v1.3h-1.3zM400.5 53.3h2.6v1.3h-2.6zM381.0 54.6h1.3v1.3h-1.3zM383.6 54.6h1.3v1.3h-1.3zM386.2 54.6h2.6v1.3h-2.6zM395.3 54.6h1.3v1.3h-1.3zM401.8 54.6h3.9v1.3h-3.9zM390.1 55.9h1.3v1.3h-1.3zM397.9 55.9h1.3v1.3h-1.3zM400.5 55.9h1.3v1.3h-1.3zM375.8 57.2h1.3v1.3h-1.3zM379.7 57.2h1.3v1.3h-1.3zM383.6 57.2h2.6v1.3h-2.6zM388.8 57.2h1.3v1.3h-1.3zM391.4 57.2h1.3v1.3h-1.3zM397.9 57.2h1.3v1.3h-1.3zM405.7 57.2h1.3v1.3h-1.3zM373.2 58.5h2.6v1.3h-2.6zM378.4 58.5h2.6v1.3h-2.6zM387.5 58.5h1.3v1.3h-1.3zM390.1 58.5h1.3v1.3h-1.3zM397.9 58.5h5.2v1.3h-5.2zM409.6 58.5h1.3v1.3h-1.3zM368.0 59.8h1.3v1.3h-1.3zM373.2 59.8h1.3v1.3h-1.3zM378.4 59.8h1.3v1.3h-1.3zM382.3 59.8h5.2v1.3h-5.2zM388.8 59.8h1.3v1.3h-1.3zM391.4 59.8h1.3v1.3h-1.3zM400.5 59.8h1.3v1.3h-1.3zM409.6 59.8h1.3v1.3h-1.3zM368.0 61.1h1.3v1.3h-1.3zM371.9 61.1h1.3v1.3h-1.3zM377.1 61.1h1.3v1.3h-1.3zM379.7 61.1h1.3v1.3h-1.3zM387.5 61.1h1.3v1.3h-1.3zM395.3 61.1h1.3v1.3h-1.3zM403.1 61.1h1.3v1.3h-1.3zM405.7 61.1h3.9v1.3h-3.9zM388.8 62.4h2.6v1.3h-2.6zM396.6 62.4h2.6v1.3h-2.6zM407.0 62.4h1.3v1.3h-1.3zM373.2 63.7h2.6v1.3h-2.6zM378.4 63.7h1.3v1.3h-1.3zM382.3 63.7h1.3v1.3h-1.3zM387.5 63.7h1.3v1.3h-1.3zM395.3 63.7h1.3v1.3h-1.3zM397.9 63.7h1.3v1.3h-1.3zM404.4 63.7h2.6v1.3h-2.6zM410.9 63.7h1.3v1.3h-1.3zM368.0 65.0h2.6v1.3h-2.6zM373.2 65.0h1.3v1.3h-1.3zM379.7 65.0h1.3v1.3h-1.3zM391.4 65.0h1.3v1.3h-1.3zM395.3 65.0h1.3v1.3h-1.3zM405.7 65.0h1.3v1.3h-1.3zM412.2 65.0h1.3v1.3h-1.3zM368.0 66.3h1.3v1.3h-1.3zM375.8 66.3h3.9v1.3h-3.9zM382.3 66.3h2.6v1.3h-2.6zM397.9 66.3h2.6v1.3h-2.6zM404.4 66.3h1.3v1.3h-1.3zM408.3 66.3h1.3v1.3h-1.3zM410.9 66.3h2.6v1.3h-2.6zM378.4 67.6h1.3v1.3h-1.3zM381.0 67.6h2.6v1.3h-2.6zM386.2 67.6h1.3v1.3h-1.3zM400.5 67.6h2.6v1.3h-2.6zM407.0 67.6h2.6v1.3h-2.6zM410.9 67.6h2.6v1.3h-2.6zM370.6 68.9h2.6v1.3h-2.6zM375.8 68.9h1.3v1.3h-1.3zM383.6 68.9h3.9v1.3h-3.9zM388.8 68.9h1.3v1.3h-1.3zM396.6 68.9h1.3v1.3h-1.3zM400.5 68.9h2.6v1.3h-2.6zM407.0 68.9h1.3v1.3h-1.3zM409.6 68.9h3.9v1.3h-3.9zM369.3 70.2h3.9v1.3h-3.9zM374.5 70.2h1.3v1.3h-1.3zM378.4 70.2h1.3v1.3h-1.3zM383.6 70.2h1.3v1.3h-1.3zM387.5 70.2h5.2v1.3h-5.2zM395.3 70.2h1.3v1.3h-1.3zM397.9 70.2h3.9v1.3h-3.9zM403.1 70.2h1.3v1.3h-1.3zM407.0 70.2h1.3v1.3h-1.3zM370.6 71.5h1.3v1.3h-1.3zM375.8 71.5h1.3v1.3h-1.3zM388.8 71.5h1.3v1.3h-1.3zM394.0 71.5h1.3v1.3h-1.3zM399.2 71.5h2.6v1.3h-2.6zM404.4 71.5h1.3v1.3h-1.3zM410.9 71.5h1.3v1.3h-1.3zM370.6 72.8h1.3v1.3h-1.3zM373.2 72.8h1.3v1.3h-1.3zM377.1 72.8h1.3v1.3h-1.3zM388.8 72.8h1.3v1.3h-1.3zM391.4 72.8h2.6v1.3h-2.6zM395.3 72.8h2.6v1.3h-2.6zM374.5 74.1h2.6v1.3h-2.6zM379.7 74.1h1.3v1.3h-1.3zM384.9 74.1h1.3v1.3h-1.3zM395.3 74.1h1.3v1.3h-1.3zM400.5 74.1h1.3v1.3h-1.3zM404.4 74.1h1.3v1.3h-1.3zM409.6 74.1h1.3v1.3h-1.3zM371.9 75.4h2.6v1.3h-2.6zM378.4 75.4h1.3v1.3h-1.3zM383.6 75.4h2.6v1.3h-2.6zM390.1 75.4h1.3v1.3h-1.3zM394.0 75.4h6.5v1.3h-6.5zM401.8 75.4h1.3v1.3h-1.3zM404.4 75.4h1.3v1.3h-1.3zM408.3 75.4h2.6v1.3h-2.6zM373.2 76.7h1.3v1.3h-1.3zM388.8 76.7h2.6v1.3h-2.6zM396.6 76.7h1.3v1.3h-1.3zM399.2 76.7h2.6v1.3h-2.6zM407.0 76.7h1.3v1.3h-1.3zM373.2 78.0h1.3v1.3h-1.3zM381.0 78.0h1.3v1.3h-1.3zM383.6 78.0h1.3v1.3h-1.3zM388.8 78.0h3.9v1.3h-3.9zM396.6 78.0h1.3v1.3h-1.3zM400.5 78.0h1.3v1.3h-1.3zM405.7 78.0h1.3v1.3h-1.3zM409.6 78.0h1.3v1.3h-1.3zM371.9 79.3h3.9v1.3h-3.9zM378.4 79.3h1.3v1.3h-1.3zM391.4 79.3h1.3v1.3h-1.3zM397.9 79.3h2.6v1.3h-2.6zM401.8 79.3h1.3v1.3h-1.3zM408.3 79.3h1.3v1.3h-1.3zM373.2 80.6h1.3v1.3h-1.3zM375.8 80.6h1.3v1.3h-1.3zM382.3 80.6h3.9v1.3h-3.9zM387.5 80.6h2.6v1.3h-2.6zM396.6 80.6h1.3v1.3h-1.3zM401.8 80.6h1.3v1.3h-1.3zM408.3 80.6h1.3v1.3h-1.3zM370.6 81.9h1.3v1.3h-1.3zM379.7 81.9h1.3v1.3h-1.3zM382.3 81.9h1.3v1.3h-1.3zM390.1 81.9h1.3v1.3h-1.3zM394.0 81.9h3.9v1.3h-3.9zM401.8 81.9h1.3v1.3h-1.3zM405.7 81.9h1.3v1.3h-1.3zM371.9 83.2h1.3v1.3h-1.3zM375.8 83.2h1.3v1.3h-1.3zM384.9 83.2h1.3v1.3h-1.3zM396.6 83.2h1.3v1.3h-1.3zM400.5 83.2h3.9v1.3h-3.9zM405.7 83.2h1.3v1.3h-1.3zM409.6 83.2h1.3v1.3h-1.3zM373.2 84.5h1.3v1.3h-1.3zM375.8 84.5h3.9v1.3h-3.9zM381.0 84.5h1.3v1.3h-1.3zM384.9 84.5h1.3v1.3h-1.3zM400.5 84.5h1.3v1.3h-1.3zM403.1 84.5h3.9v1.3h-3.9zM409.6 84.5h1.3v1.3h-1.3zM383.6 85.8h1.3v1.3h-1.3zM386.2 85.8h1.3v1.3h-1.3zM397.9 85.8h1.3v1.3h-1.3zM407.0 85.8h1.3v1.3h-1.3zM373.2 87.1h2.6v1.3h-2.6zM377.1 87.1h2.6v1.3h-2.6zM384.9 87.1h1.3v1.3h-1.3zM388.8 87.1h1.3v1.3h-1.3zM403.1 87.1h1.3v1.3h-1.3zM379.7 88.4h1.3v1.3h-1.3zM383.6 88.4h1.3v1.3h-1.3zM395.3 88.4h1.3v1.3h-1.3zM399.2 88.4h1.3v1.3h-1.3zM403.1 88.4h1.3v1.3h-1.3zM373.2 89.7h1.3v1.3h-1.3zM383.6 89.7h1.3v1.3h-1.3zM387.5 89.7h1.3v1.3h-1.3zM394.0 89.7h1.3v1.3h-1.3zM401.8 89.7h2.6v1.3h-2.6zM374.5 91.0h1.3v1.3h-1.3zM381.0 91.0h1.3v1.3h-1.3zM390.1 91.0h1.3v1.3h-1.3zM395.3 91.0h2.6v1.3h-2.6zM400.5 91.0h2.6v1.3h-2.6zM375.8 92.3h3.9v1.3h-3.9zM381.0 92.3h3.9v1.3h-3.9zM395.3 92.3h1.3v1.3h-1.3zM400.5 92.3h2.6v1.3h-2.6zM405.7 92.3h3.9v1.3h-3.9zM377.1 93.6h2.6v1.3h-2.6zM381.0 93.6h1.3v1.3h-1.3zM386.2 93.6h1.3v1.3h-1.3zM391.4 93.6h2.6v1.3h-2.6zM396.6 93.6h2.6v1.3h-2.6zM400.5 93.6h1.3v1.3h-1.3zM408.3 93.6h1.3v1.3h-1.3zM379.7 94.9h1.3v1.3h-1.3zM382.3 94.9h1.3v1.3h-1.3zM386.2 94.9h1.3v1.3h-1.3zM388.8 94.9h1.3v1.3h-1.3zM396.6 94.9h1.3v1.3h-1.3zM382.3 96.2h1.3v1.3h-1.3zM384.9 96.2h5.2v1.3h-5.2zM394.0 96.2h2.6v1.3h-2.6zM384.9 97.5h1.3v1.3h-1.3zM388.8 97.5h1.3v1.3h-1.3zM391.4 97.5h2.6v1.3h-2.6zM396.6 97.5h1.3v1.3h-1.3zM400.5 97.5h3.9v1.3h-3.9zM390.1 98.8h2.6v1.3h-2.6zM394.0 98.8h1.3v1.3h-1.3zM400.5 98.8h1.3v1.3h-1.3zM388.8 100.1h1.3v1.3h-1.3zM392.7 100.1h1.3v1.3h-1.3z" fill="#50ecb4" />
<path d="M396.6 52.0h1.3v1.3h-1.3zM386.2 53.3h2.6v1.3h-2.6zM391.4 53.3h1.3v1.3h-1.3zM396.6 53.3h1.3v1.3h-1.3zM386.2 54.6h1.3v1.3h-1.3zM388.8 54.6h1.3v1.3h-1.3zM375.8 55.9h1.3v1.3h-1.3zM383.6 55.9h1.3v1.3h-1.3zM392.7 55.9h1.3v1.3h-1.3zM397.9 55.9h1.3v1.3h-1.3zM400.5 55.9h1.3v1.3h-1.3zM405.7 55.9h1.3v1.3h-1.3zM378.4 57.2h1.3v1.3h-1.3zM383.6 57.2h2.6v1.3h-2.6zM394.0 57.2h1.3v1.3h-1.3zM396.6 57.2h1.3v1.3h-1.3zM370.6 58.5h1.3v1.3h-1.3zM373.2 58.5h1.3v1.3h-1.3zM382.3 58.5h2.6v1.3h-2.6zM394.0 58.5h1.3v1.3h-1.3zM408.3 58.5h1.3v1.3h-1.3zM378.4 59.8h1.3v1.3h-1.3zM383.6 59.8h1.3v1.3h-1.3zM400.5 59.8h1.3v1.3h-1.3zM404.4 59.8h2.6v1.3h-2.6zM410.9 59.8h1.3v1.3h-1.3zM374.5 61.1h1.3v1.3h-1.3zM384.9 61.1h1.3v1.3h-1.3zM396.6 61.1h1.3v1.3h-1.3zM399.2 61.1h1.3v1.3h-1.3zM369.3 62.4h1.3v1.3h-1.3zM379.7 62.4h2.6v1.3h-2.6zM408.3 62.4h2.6v1.3h-2.6zM379.7 63.7h1.3v1.3h-1.3zM386.2 63.7h1.3v1.3h-1.3zM397.9 63.7h1.3v1.3h-1.3zM407.0 63.7h1.3v1.3h-1.3zM409.6 63.7h2.6v1.3h-2.6zM368.0 65.0h1.3v1.3h-1.3zM373.2 65.0h1.3v1.3h-1.3zM378.4 65.0h1.3v1.3h-1.3zM387.5 66.3h2.6v1.3h-2.6zM391.4 66.3h1.3v1.3h-1.3zM379.7 67.6h1.3v1.3h-1.3zM395.3 67.6h2.6v1.3h-2.6zM399.2 67.6h1.3v1.3h-1.3zM378.4 68.9h1.3v1.3h-1.3zM387.5 68.9h1.3v1.3h-1.3zM399.2 68.9h1.3v1.3h-1.3zM369.3 70.2h1.3v1.3h-1.3zM391.4 70.2h2.6v1.3h-2.6zM399.2 70.2h1.3v1.3h-1.3zM408.3 70.2h1.3v1.3h-1.3zM373.2 71.5h2.6v1.3h-2.6zM381.0 71.5h1.3v1.3h-1.3zM383.6 71.5h1.3v1.3h-1.3zM386.2 71.5h1.3v1.3h-1.3zM401.8 71.5h1.3v1.3h-1.3zM404.4 71.5h1.3v1.3h-1.3zM370.6 72.8h5.2v1.3h-5.2zM396.6 72.8h1.3v1.3h-1.3zM404.4 72.8h1.3v1.3h-1.3zM409.6 72.8h1.3v1.3h-1.3zM375.8 74.1h1.3v1.3h-1.3zM378.4 74.1h1.3v1.3h-1.3zM381.0 74.1h1.3v1.3h-1.3zM395.3 74.1h3.9v1.3h-3.9zM404.4 74.1h1.3v1.3h-1.3zM369.3 75.4h1.3v1.3h-1.3zM373.2 75.4h1.3v1.3h-1.3zM386.2 75.4h1.3v1.3h-1.3zM390.1 75.4h1.3v1.3h-1.3zM392.7 75.4h2.6v1.3h-2.6zM401.8 75.4h2.6v1.3h-2.6zM369.3 76.7h1.3v1.3h-1.3zM377.1 76.7h1.3v1.3h-1.3zM381.0 76.7h1.3v1.3h-1.3zM386.2 76.7h2.6v1.3h-2.6zM392.7 76.7h1.3v1.3h-1.3zM401.8 76.7h1.3v1.3h-1.3zM407.0 76.7h1.3v1.3h-1.3zM371.9 78.0h1.3v1.3h-1.3zM390.1 78.0h2.6v1.3h-2.6zM383.6 79.3h1.3v1.3h-1.3zM386.2 79.3h1.3v1.3h-1.3zM401.8 79.3h2.6v1.3h-2.6zM407.0 79.3h1.3v1.3h-1.3zM377.1 80.6h2.6v1.3h-2.6zM395.3 80.6h1.3v1.3h-1.3zM403.1 80.6h1.3v1.3h-1.3zM374.5 81.9h1.3v1.3h-1.3zM378.4 81.9h1.3v1.3h-1.3zM386.2 81.9h1.3v1.3h-1.3zM388.8 81.9h1.3v1.3h-1.3zM397.9 81.9h2.6v1.3h-2.6zM403.1 81.9h1.3v1.3h-1.3zM408.3 81.9h1.3v1.3h-1.3zM375.8 83.2h2.6v1.3h-2.6zM382.3 83.2h1.3v1.3h-1.3zM387.5 83.2h1.3v1.3h-1.3zM396.6 83.2h1.3v1.3h-1.3zM399.2 83.2h1.3v1.3h-1.3zM404.4 83.2h3.9v1.3h-3.9zM374.5 84.5h2.6v1.3h-2.6zM382.3 84.5h1.3v1.3h-1.3zM391.4 84.5h1.3v1.3h-1.3zM401.8 84.5h1.3v1.3h-1.3zM405.7 84.5h1.3v1.3h-1.3zM375.8 85.8h1.3v1.3h-1.3zM386.2 85.8h1.3v1.3h-1.3zM388.8 85.8h1.3v1.3h-1.3zM392.7 85.8h1.3v1.3h-1.3zM399.2 85.8h1.3v1.3h-1.3zM408.3 85.8h1.3v1.3h-1.3zM382.3 87.1h1.3v1.3h-1.3zM400.5 88.4h1.3v1.3h-1.3zM388.8 89.7h1.3v1.3h-1.3zM394.0 89.7h1.3v1.3h-1.3zM396.6 89.7h2.6v1.3h-2.6zM401.8 89.7h2.6v1.3h-2.6zM405.7 89.7h2.6v1.3h-2.6zM382.3 91.0h3.9v1.3h-3.9zM387.5 91.0h2.6v1.3h-2.6zM379.7 93.6h1.3v1.3h-1.3zM391.4 93.6h1.3v1.3h-1.3zM395.3 93.6h2.6v1.3h-2.6zM401.8 93.6h1.3v1.3h-1.3zM390.1 94.9h1.3v1.3h-1.3zM392.7 94.9h1.3v1.3h-1.3zM403.1 94.9h1.3v1.3h-1.3zM382.3 96.2h1.3v1.3h-1.3zM388.8 96.2h1.3v1.3h-1.3zM396.6 96.2h1.3v1.3h-1.3zM403.1 96.2h1.3v1.3h-1.3zM383.6 97.5h2.6v1.3h-2.6zM392.7 97.5h2.6v1.3h-2.6zM401.8 97.5h1.3v1.3h-1.3z" fill="#f2f020" />
<path d="M383.6 54.6h1.3v1.3h-1.3zM390.1 55.9h1.3v1.3h-1.3zM392.7 55.9h1.3v1.3h-1.3zM377.1 58.5h1.3v1.3h-1.3zM383.6 58.5h1.3v1.3h-1.3zM400.5 58.5h1.3v1.3h-1.3zM369.3 59.8h1.3v1.3h-1.3zM369.3 61.1h1.3v1.3h-1.3zM387.5 61.1h1.3v1.3h-1.3zM394.0 61.1h1.3v1.3h-1.3zM400.5 61.1h1.3v1.3h-1.3zM381.0 63.7h1.3v1.3h-1.3zM370.6 65.0h2.6v1.3h-2.6zM386.2 65.0h1.3v1.3h-1.3zM395.3 65.0h1.3v1.3h-1.3zM408.3 65.0h1.3v1.3h-1.3zM412.2 65.0h1.3v1.3h-1.3zM379.7 66.3h1.3v1.3h-1.3zM387.5 66.3h1.3v1.3h-1.3zM381.0 67.6h1.3v1.3h-1.3zM368.0 68.9h1.3v1.3h-1.3zM379.7 68.9h1.3v1.3h-1.3zM382.3 68.9h1.3v1.3h-1.3zM401.8 68.9h1.3v1.3h-1.3zM405.7 68.9h1.3v1.3h-1.3zM373.2 70.2h1.3v1.3h-1.3zM386.2 71.5h1.3v1.3h-1.3zM382.3 75.4h1.3v1.3h-1.3zM392.7 75.4h1.3v1.3h-1.3zM382.3 76.7h1.3v1.3h-1.3zM373.2 78.0h1.3v1.3h-1.3zM396.6 79.3h1.3v1.3h-1.3zM400.5 79.3h1.3v1.3h-1.3zM382.3 80.6h1.3v1.3h-1.3zM371.9 81.9h1.3v1.3h-1.3zM381.0 81.9h1.3v1.3h-1.3zM373.2 83.2h1.3v1.3h-1.3zM382.3 83.2h1.3v1.3h-1.3zM384.9 84.5h1.3v1.3h-1.3zM392.7 84.5h1.3v1.3h-1.3zM377.1 85.8h1.3v1.3h-1.3zM391.4 85.8h1.3v1.3h-1.3zM375.8 87.1h1.3v1.3h-1.3zM403.1 87.1h1.3v1.3h-1.3zM405.7 87.1h1.3v1.3h-1.3zM373.2 89.7h1.3v1.3h-1.3zM392.7 89.7h1.3v1.3h-1.3zM407.0 93.6h1.3v1.3h-1.3zM384.9 94.9h1.3v1.3h-1.3zM388.8 94.9h1.3v1.3h-1.3zM396.6 94.9h1.3v1.3h-1.3zM382.3 96.2h1.3v1.3h-1.3zM403.1 96.2h1.3v1.3h-1.3zM403.1 97.5h1.3v1.3h-1.3z" fill="#1e50ff" />
<polygon points="375.0,62.0 390.0,57.0 404.0,57.0 411.0,64.0 411.0,78.0 405.0,87.0 393.0,89.0 381.0,85.0 375.0,73.0" fill="#f2f020" />
<path d="M394.5 57.0h1.3v1.3h-1.3zM398.4 57.0h1.3v1.3h-1.3zM402.3 57.0h1.3v1.3h-1.3zM385.4 58.3h1.3v1.3h-1.3zM388.0 58.3h1.3v1.3h-1.3zM390.6 58.3h1.3v1.3h-1.3zM393.2 58.3h1.3v1.3h-1.3zM401.0 58.3h3.9v1.3h-3.9zM381.5 59.6h3.9v1.3h-3.9zM386.7 59.6h1.3v1.3h-1.3zM389.3 59.6h2.6v1.3h-2.6zM393.2 59.6h5.2v1.3h-5.2zM380.2 60.9h1.3v1.3h-1.3zM385.4 60.9h1.3v1.3h-1.3zM390.6 60.9h3.9v1.3h-3.9zM398.4 60.9h2.6v1.3h-2.6zM375.0 62.2h1.3v1.3h-1.3zM378.9 62.2h3.9v1.3h-3.9zM384.1 62.2h1.3v1.3h-1.3zM388.0 62.2h2.6v1.3h-2.6zM394.5 62.2h1.3v1.3h-1.3zM399.7 62.2h1.3v1.3h-1.3zM408.8 62.2h1.3v1.3h-1.3zM375.0 63.5h2.6v1.3h-2.6zM381.5 63.5h1.3v1.3h-1.3zM385.4 63.5h3.9v1.3h-3.9zM390.6 63.5h1.3v1.3h-1.3zM393.2 63.5h1.3v1.3h-1.3zM398.4 63.5h2.6v1.3h-2.6zM402.3 63.5h1.3v1.3h-1.3zM404.9 63.5h2.6v1.3h-2.6zM408.8 63.5h1.3v1.3h-1.3zM375.0 64.8h1.3v1.3h-1.3zM384.1 64.8h1.3v1.3h-1.3zM388.0 64.8h1.3v1.3h-1.3zM394.5 64.8h1.3v1.3h-1.3zM401.0 64.8h1.3v1.3h-1.3zM404.9 64.8h1.3v1.3h-1.3zM410.1 64.8h1.3v1.3h-1.3zM380.2 66.1h1.3v1.3h-1.3zM393.2 66.1h5.2v1.3h-5.2zM402.3 66.1h1.3v1.3h-1.3zM410.1 66.1h1.3v1.3h-1.3zM375.0 67.4h1.3v1.3h-1.3zM386.7 67.4h3.9v1.3h-3.9zM391.9 67.4h2.6v1.3h-2.6zM399.7 67.4h1.3v1.3h-1.3zM404.9 67.4h3.9v1.3h-3.9zM377.6 68.7h1.3v1.3h-1.3zM380.2 68.7h1.3v1.3h-1.3zM384.1 68.7h1.3v1.3h-1.3zM391.9 68.7h1.3v1.3h-1.3zM397.1 68.7h1.3v1.3h-1.3zM399.7 68.7h1.3v1.3h-1.3zM402.3 68.7h1.3v1.3h-1.3zM404.9 68.7h2.6v1.3h-2.6zM408.8 68.7h1.3v1.3h-1.3zM375.0 70.0h1.3v1.3h-1.3zM385.4 70.0h2.6v1.3h-2.6zM391.9 70.0h1.3v1.3h-1.3zM394.5 70.0h2.6v1.3h-2.6zM402.3 70.0h1.3v1.3h-1.3zM404.9 70.0h5.2v1.3h-5.2zM376.3 71.3h1.3v1.3h-1.3zM378.9 71.3h1.3v1.3h-1.3zM382.8 71.3h1.3v1.3h-1.3zM385.4 71.3h1.3v1.3h-1.3zM390.6 71.3h1.3v1.3h-1.3zM393.2 71.3h2.6v1.3h-2.6zM397.1 71.3h2.6v1.3h-2.6zM407.5 71.3h1.3v1.3h-1.3zM378.9 72.6h1.3v1.3h-1.3zM382.8 72.6h1.3v1.3h-1.3zM388.0 72.6h1.3v1.3h-1.3zM395.8 72.6h2.6v1.3h-2.6zM399.7 72.6h2.6v1.3h-2.6zM406.2 72.6h2.6v1.3h-2.6zM410.1 72.6h1.3v1.3h-1.3zM376.3 73.9h1.3v1.3h-1.3zM389.3 73.9h1.3v1.3h-1.3zM391.9 73.9h1.3v1.3h-1.3zM399.7 73.9h1.3v1.3h-1.3zM402.3 73.9h1.3v1.3h-1.3zM404.9 73.9h1.3v1.3h-1.3zM408.8 73.9h1.3v1.3h-1.3zM378.9 75.2h3.9v1.3h-3.9zM385.4 75.2h3.9v1.3h-3.9zM393.2 75.2h1.3v1.3h-1.3zM397.1 75.2h1.3v1.3h-1.3zM402.3 75.2h5.2v1.3h-5.2zM408.8 75.2h1.3v1.3h-1.3zM388.0 76.5h1.3v1.3h-1.3zM390.6 76.5h5.2v1.3h-5.2zM397.1 76.5h5.2v1.3h-5.2zM404.9 76.5h1.3v1.3h-1.3zM377.6 77.8h1.3v1.3h-1.3zM390.6 77.8h1.3v1.3h-1.3zM399.7 77.8h2.6v1.3h-2.6zM378.9 79.1h1.3v1.3h-1.3zM382.8 79.1h1.3v1.3h-1.3zM385.4 79.1h1.3v1.3h-1.3zM390.6 79.1h1.3v1.3h-1.3zM395.8 79.1h2.6v1.3h-2.6zM399.7 79.1h2.6v1.3h-2.6zM403.6 79.1h1.3v1.3h-1.3zM378.9 80.4h1.3v1.3h-1.3zM388.0 80.4h1.3v1.3h-1.3zM391.9 80.4h1.3v1.3h-1.3zM398.4 80.4h2.6v1.3h-2.6zM402.3 80.4h2.6v1.3h-2.6zM406.2 80.4h1.3v1.3h-1.3zM384.1 81.7h2.6v1.3h-2.6zM388.0 81.7h1.3v1.3h-1.3zM394.5 81.7h2.6v1.3h-2.6zM402.3 81.7h3.9v1.3h-3.9zM390.6 83.0h1.3v1.3h-1.3zM398.4 83.0h1.3v1.3h-1.3zM401.0 83.0h1.3v1.3h-1.3zM385.4 84.3h2.6v1.3h-2.6zM391.9 84.3h1.3v1.3h-1.3zM395.8 84.3h2.6v1.3h-2.6zM401.0 84.3h1.3v1.3h-1.3zM388.0 85.6h2.6v1.3h-2.6zM391.9 85.6h6.5v1.3h-6.5zM389.3 86.9h1.3v1.3h-1.3zM394.5 86.9h1.3v1.3h-1.3zM397.1 86.9h1.3v1.3h-1.3zM401.0 86.9h1.3v1.3h-1.3z" fill="#a8f05a" />
<path d="M378.9 62.2h2.6v1.3h-2.6zM395.8 62.2h1.3v1.3h-1.3zM399.7 62.2h1.3v1.3h-1.3zM403.6 62.2h1.3v1.3h-1.3zM404.9 63.5h1.3v1.3h-1.3zM380.2 64.8h1.3v1.3h-1.3zM386.7 64.8h1.3v1.3h-1.3zM401.0 64.8h1.3v1.3h-1.3zM407.5 64.8h1.3v1.3h-1.3zM402.3 66.1h1.3v1.3h-1.3zM404.9 66.1h1.3v1.3h-1.3zM378.9 67.4h1.3v1.3h-1.3zM395.8 67.4h2.6v1.3h-2.6zM378.9 68.7h1.3v1.3h-1.3zM378.9 70.0h1.3v1.3h-1.3zM390.6 70.0h2.6v1.3h-2.6zM395.8 70.0h1.3v1.3h-1.3zM382.8 71.3h1.3v1.3h-1.3zM403.6 71.3h1.3v1.3h-1.3zM407.5 71.3h1.3v1.3h-1.3zM386.7 72.6h1.3v1.3h-1.3zM401.0 73.9h1.3v1.3h-1.3zM398.4 76.5h1.3v1.3h-1.3zM410.1 76.5h1.3v1.3h-1.3zM382.8 77.8h1.3v1.3h-1.3zM389.3 79.1h1.3v1.3h-1.3zM384.1 80.4h1.3v1.3h-1.3zM406.2 80.4h1.3v1.3h-1.3zM380.2 83.0h1.3v1.3h-1.3zM391.9 83.0h1.3v1.3h-1.3zM403.6 83.0h1.3v1.3h-1.3zM394.5 85.6h1.3v1.3h-1.3zM399.7 86.9h1.3v1.3h-1.3z" fill="#50ecb4" />
<polygon points="384.0,58.0 396.0,55.0 408.0,58.0 412.0,65.0 404.0,69.0 392.0,68.0 385.0,64.0" fill="#ffb418" />
<path d="M398.3 56.3h1.3v1.3h-1.3zM394.4 57.6h1.3v1.3h-1.3zM407.4 58.9h1.3v1.3h-1.3zM394.4 60.2h1.3v1.3h-1.3zM397.0 60.2h1.3v1.3h-1.3zM400.9 60.2h2.6v1.3h-2.6zM404.8 60.2h1.3v1.3h-1.3zM389.2 61.5h1.3v1.3h-1.3zM398.3 61.5h1.3v1.3h-1.3zM393.1 62.8h1.3v1.3h-1.3zM400.9 62.8h1.3v1.3h-1.3zM403.5 62.8h1.3v1.3h-1.3zM404.8 64.1h1.3v1.3h-1.3zM390.5 65.4h1.3v1.3h-1.3zM394.4 66.7h1.3v1.3h-1.3z" fill="#ff5a10" />
<path d="M389.2 56.3h3.9v1.3h-3.9zM397.0 56.3h1.3v1.3h-1.3zM385.3 57.6h1.3v1.3h-1.3zM387.9 57.6h1.3v1.3h-1.3zM400.9 57.6h1.3v1.3h-1.3zM403.5 57.6h1.3v1.3h-1.3zM384.0 58.9h1.3v1.3h-1.3zM390.5 58.9h1.3v1.3h-1.3zM393.1 58.9h6.5v1.3h-6.5zM400.9 58.9h1.3v1.3h-1.3zM395.7 60.2h1.3v1.3h-1.3zM406.1 60.2h3.9v1.3h-3.9zM386.6 61.5h1.3v1.3h-1.3zM391.8 61.5h5.2v1.3h-5.2zM399.6 61.5h1.3v1.3h-1.3zM404.8 61.5h3.9v1.3h-3.9zM387.9 62.8h1.3v1.3h-1.3zM394.4 62.8h2.6v1.3h-2.6zM398.3 62.8h1.3v1.3h-1.3zM404.8 62.8h1.3v1.3h-1.3zM410.0 62.8h1.3v1.3h-1.3zM389.2 64.1h1.3v1.3h-1.3zM391.8 64.1h2.6v1.3h-2.6zM395.7 64.1h1.3v1.3h-1.3zM398.3 64.1h1.3v1.3h-1.3zM407.4 64.1h1.3v1.3h-1.3zM390.5 65.4h1.3v1.3h-1.3zM395.7 65.4h1.3v1.3h-1.3zM398.3 65.4h5.2v1.3h-5.2zM407.4 65.4h1.3v1.3h-1.3zM393.1 66.7h2.6v1.3h-2.6zM397.0 66.7h1.3v1.3h-1.3zM399.6 66.7h1.3v1.3h-1.3zM402.2 66.7h2.6v1.3h-2.6zM406.1 66.7h1.3v1.3h-1.3zM402.2 68.0h2.6v1.3h-2.6z" fill="#f2f020" />
<path d="M394.4 55.0h1.3v1.3h-1.3zM397.0 55.0h1.3v1.3h-1.3zM389.2 56.3h3.9v1.3h-3.9zM397.0 56.3h2.6v1.3h-2.6zM389.2 57.6h5.2v1.3h-5.2zM397.0 57.6h1.3v1.3h-1.3zM399.6 57.6h1.3v1.3h-1.3zM389.2 58.9h1.3v1.3h-1.3zM391.8 58.9h1.3v1.3h-1.3zM394.4 58.9h1.3v1.3h-1.3zM397.0 58.9h3.9v1.3h-3.9zM403.5 58.9h1.3v1.3h-1.3zM407.4 58.9h1.3v1.3h-1.3zM389.2 60.2h1.3v1.3h-1.3zM394.4 60.2h1.3v1.3h-1.3zM399.6 60.2h2.6v1.3h-2.6zM404.8 60.2h2.6v1.3h-2.6zM408.7 60.2h1.3v1.3h-1.3zM389.2 61.5h1.3v1.3h-1.3zM393.1 61.5h1.3v1.3h-1.3zM404.8 61.5h2.6v1.3h-2.6zM389.2 62.8h1.3v1.3h-1.3zM398.3 62.8h1.3v1.3h-1.3zM404.8 62.8h1.3v1.3h-1.3zM410.0 62.8h1.3v1.3h-1.3zM386.6 64.1h1.3v1.3h-1.3zM390.5 64.1h2.6v1.3h-2.6zM394.4 64.1h1.3v1.3h-1.3zM398.3 64.1h1.3v1.3h-1.3zM390.5 65.4h1.3v1.3h-1.3zM394.4 65.4h1.3v1.3h-1.3zM403.5 65.4h1.3v1.3h-1.3zM408.7 65.4h1.3v1.3h-1.3zM398.3 66.7h2.6v1.3h-2.6zM402.2 66.7h1.3v1.3h-1.3zM404.8 66.7h1.3v1.3h-1.3z" fill="#ffa010" />
<path d="M386.1 116.0h2.6v1.3h-2.6zM390.0 116.0h2.6v1.3h-2.6zM365.3 117.3h2.6v1.3h-2.6zM369.2 117.3h2.6v1.3h-2.6zM375.7 117.3h1.3v1.3h-1.3zM378.3 117.3h1.3v1.3h-1.3zM380.9 117.3h5.2v1.3h-5.2zM388.7 117.3h1.3v1.3h-1.3zM391.3 117.3h1.3v1.3h-1.3zM393.9 117.3h1.3v1.3h-1.3zM408.2 117.3h3.9v1.3h-3.9zM413.4 117.3h2.6v1.3h-2.6zM364.0 118.6h1.3v1.3h-1.3zM371.8 118.6h1.3v1.3h-1.3zM375.7 118.6h2.6v1.3h-2.6zM383.5 118.6h3.9v1.3h-3.9zM390.0 118.6h1.3v1.3h-1.3zM392.6 118.6h1.3v1.3h-1.3zM404.3 118.6h2.6v1.3h-2.6zM409.5 118.6h1.3v1.3h-1.3zM412.1 118.6h1.3v1.3h-1.3zM414.7 118.6h1.3v1.3h-1.3zM364.0 119.9h1.3v1.3h-1.3zM371.8 119.9h1.3v1.3h-1.3zM375.7 119.9h1.3v1.3h-1.3zM378.3 119.9h5.2v1.3h-5.2zM386.1 119.9h2.6v1.3h-2.6zM392.6 119.9h1.3v1.3h-1.3zM401.7 119.9h2.6v1.3h-2.6zM405.6 119.9h1.3v1.3h-1.3zM410.8 119.9h1.3v1.3h-1.3zM416.0 119.9h1.3v1.3h-1.3zM365.3 121.2h3.9v1.3h-3.9zM370.5 121.2h1.3v1.3h-1.3zM373.1 121.2h3.9v1.3h-3.9zM378.3 121.2h1.3v1.3h-1.3zM382.2 121.2h2.6v1.3h-2.6zM388.7 121.2h3.9v1.3h-3.9zM393.9 121.2h1.3v1.3h-1.3zM399.1 121.2h1.3v1.3h-1.3zM403.0 121.2h3.9v1.3h-3.9zM408.2 121.2h1.3v1.3h-1.3zM416.0 121.2h1.3v1.3h-1.3zM365.3 122.5h2.6v1.3h-2.6zM369.2 122.5h5.2v1.3h-5.2zM375.7 122.5h1.3v1.3h-1.3zM378.3 122.5h1.3v1.3h-1.3zM380.9 122.5h2.6v1.3h-2.6zM390.0 122.5h2.6v1.3h-2.6zM393.9 122.5h1.3v1.3h-1.3zM397.8 122.5h2.6v1.3h-2.6zM401.7 122.5h1.3v1.3h-1.3zM405.6 122.5h1.3v1.3h-1.3zM408.2 122.5h2.6v1.3h-2.6zM412.1 122.5h2.6v1.3h-2.6zM416.0 122.5h1.3v1.3h-1.3zM369.2 123.8h3.9v1.3h-3.9zM374.4 123.8h2.6v1.3h-2.6zM378.3 123.8h1.3v1.3h-1.3zM382.2 123.8h3.9v1.3h-3.9zM388.7 123.8h1.3v1.3h-1.3zM391.3 123.8h1.3v1.3h-1.3zM393.9 123.8h3.9v1.3h-3.9zM401.7 123.8h3.9v1.3h-3.9zM410.8 123.8h2.6v1.3h-2.6zM414.7 123.8h2.6v1.3h-2.6zM365.3 125.1h2.6v1.3h-2.6zM370.5 125.1h1.3v1.3h-1.3zM373.1 125.1h1.3v1.3h-1.3zM383.5 125.1h2.6v1.3h-2.6zM392.6 125.1h2.6v1.3h-2.6zM396.5 125.1h1.3v1.3h-1.3zM401.7 125.1h1.3v1.3h-1.3zM406.9 125.1h1.3v1.3h-1.3zM409.5 125.1h2.6v1.3h-2.6zM365.3 126.4h3.9v1.3h-3.9zM370.5 126.4h1.3v1.3h-1.3zM373.1 126.4h1.3v1.3h-1.3zM377.0 126.4h2.6v1.3h-2.6zM380.9 126.4h1.3v1.3h-1.3zM370.5 127.7h3.9v1.3h-3.9zM375.7 127.7h2.6v1.3h-2.6z" fill="#ffffff" />
<path d="M352.0 58.0h1.3v1.3h-1.3zM352.0 59.3h2.6v1.3h-2.6zM357.2 59.3h1.3v1.3h-1.3zM359.8 59.3h1.3v1.3h-1.3zM353.3 60.6h1.3v1.3h-1.3zM355.9 60.6h2.6v1.3h-2.6zM352.0 61.9h1.3v1.3h-1.3zM357.2 61.9h3.9v1.3h-3.9zM354.6 63.2h1.3v1.3h-1.3zM359.8 63.2h2.6v1.3h-2.6zM353.3 64.5h1.3v1.3h-1.3zM355.9 64.5h2.6v1.3h-2.6zM353.3 65.8h1.3v1.3h-1.3zM357.2 65.8h1.3v1.3h-1.3zM359.8 65.8h1.3v1.3h-1.3zM353.3 67.1h1.3v1.3h-1.3zM355.9 67.1h6.5v1.3h-6.5zM355.9 68.4h1.3v1.3h-1.3zM358.5 68.4h2.6v1.3h-2.6zM355.9 69.7h5.2v1.3h-5.2zM353.3 71.0h3.9v1.3h-3.9zM362.4 71.0h1.3v1.3h-1.3zM353.3 72.3h2.6v1.3h-2.6zM357.2 72.3h1.3v1.3h-1.3zM359.8 72.3h1.3v1.3h-1.3zM362.4 72.3h1.3v1.3h-1.3zM353.3 73.6h2.6v1.3h-2.6zM361.1 73.6h1.3v1.3h-1.3zM354.6 74.9h1.3v1.3h-1.3zM361.1 74.9h1.3v1.3h-1.3zM354.6 76.2h2.6v1.3h-2.6zM361.1 76.2h2.6v1.3h-2.6zM354.6 77.5h2.6v1.3h-2.6zM361.1 77.5h1.3v1.3h-1.3zM363.7 77.5h1.3v1.3h-1.3zM354.6 78.8h1.3v1.3h-1.3zM359.8 80.1h1.3v1.3h-1.3zM354.6 81.4h1.3v1.3h-1.3zM363.7 81.4h1.3v1.3h-1.3zM357.2 82.7h2.6v1.3h-2.6zM361.1 82.7h1.3v1.3h-1.3zM354.6 84.0h1.3v1.3h-1.3zM358.5 84.0h1.3v1.3h-1.3zM361.1 84.0h3.9v1.3h-3.9zM355.9 85.3h1.3v1.3h-1.3zM359.8 85.3h1.3v1.3h-1.3zM362.4 85.3h1.3v1.3h-1.3zM355.9 86.6h1.3v1.3h-1.3zM359.8 86.6h1.3v1.3h-1.3zM363.7 86.6h1.3v1.3h-1.3zM355.9 87.9h1.3v1.3h-1.3zM358.5 87.9h3.9v1.3h-3.9zM365.0 87.9h1.3v1.3h-1.3zM355.9 89.2h5.2v1.3h-5.2zM363.7 89.2h2.6v1.3h-2.6zM355.9 90.5h5.2v1.3h-5.2zM362.4 90.5h1.3v1.3h-1.3zM365.0 90.5h2.6v1.3h-2.6zM355.9 91.8h2.6v1.3h-2.6zM359.8 91.8h1.3v1.3h-1.3zM362.4 91.8h1.3v1.3h-1.3zM357.2 93.1h1.3v1.3h-1.3zM359.8 93.1h1.3v1.3h-1.3zM362.4 93.1h2.6v1.3h-2.6zM358.5 94.4h2.6v1.3h-2.6zM357.2 95.7h2.6v1.3h-2.6zM362.4 95.7h1.3v1.3h-1.3zM365.0 95.7h1.3v1.3h-1.3zM361.1 97.0h3.9v1.3h-3.9zM367.6 97.0h1.3v1.3h-1.3zM358.5 98.3h2.6v1.3h-2.6zM363.7 98.3h3.9v1.3h-3.9zM358.5 99.6h1.3v1.3h-1.3zM361.1 99.6h1.3v1.3h-1.3zM365.0 99.6h1.3v1.3h-1.3zM367.6 99.6h1.3v1.3h-1.3zM362.4 100.9h1.3v1.3h-1.3zM366.3 100.9h2.6v1.3h-2.6zM359.8 102.2h1.3v1.3h-1.3zM362.4 102.2h1.3v1.3h-1.3zM365.0 102.2h1.3v1.3h-1.3zM366.3 103.5h1.3v1.3h-1.3zM362.4 104.8h1.3v1.3h-1.3zM367.6 104.8h2.6v1.3h-2.6zM361.1 106.1h2.6v1.3h-2.6zM361.1 107.4h1.3v1.3h-1.3zM366.3 107.4h3.9v1.3h-3.9zM359.8 108.7h2.6v1.3h-2.6zM366.3 108.7h2.6v1.3h-2.6zM361.1 110.0h1.3v1.3h-1.3zM363.7 110.0h2.6v1.3h-2.6zM368.9 110.0h1.3v1.3h-1.3zM362.4 111.3h1.3v1.3h-1.3zM366.3 111.3h1.3v1.3h-1.3zM366.3 112.6h1.3v1.3h-1.3zM361.1 113.9h1.3v1.3h-1.3zM365.0 113.9h1.3v1.3h-1.3zM368.9 113.9h1.3v1.3h-1.3zM362.4 116.5h1.3v1.3h-1.3zM365.0 116.5h1.3v1.3h-1.3zM368.9 116.5h1.3v1.3h-1.3zM363.7 117.8h2.6v1.3h-2.6zM367.6 117.8h1.3v1.3h-1.3zM362.4 119.1h1.3v1.3h-1.3z" fill="#ffffff" />
<path d="M278.0 32.1h1.3v1.3h-1.3zM283.2 33.4h1.3v1.3h-1.3zM288.4 33.4h1.3v1.3h-1.3zM278.0 34.7h1.3v1.3h-1.3zM289.7 34.7h1.3v1.3h-1.3zM292.3 34.7h2.6v1.3h-2.6zM291.0 36.0h2.6v1.3h-2.6zM294.9 36.0h2.6v1.3h-2.6zM292.3 37.3h1.3v1.3h-1.3zM300.1 38.6h1.3v1.3h-1.3zM298.8 39.9h2.6v1.3h-2.6zM302.7 39.9h1.3v1.3h-1.3zM302.7 42.5h1.3v1.3h-1.3zM331.3 42.5h1.3v1.3h-1.3zM333.9 42.5h1.3v1.3h-1.3zM305.3 43.8h1.3v1.3h-1.3zM307.9 43.8h1.3v1.3h-1.3zM332.6 43.8h1.3v1.3h-1.3zM372.9 43.8h1.3v1.3h-1.3zM397.6 43.8h1.3v1.3h-1.3zM307.9 45.1h2.6v1.3h-2.6zM336.5 45.1h2.6v1.3h-2.6zM367.7 45.1h2.6v1.3h-2.6zM375.5 45.1h1.3v1.3h-1.3zM378.1 45.1h5.2v1.3h-5.2zM384.6 45.1h1.3v1.3h-1.3zM389.8 45.1h1.3v1.3h-1.3zM392.4 45.1h1.3v1.3h-1.3zM397.6 45.1h1.3v1.3h-1.3zM400.2 45.1h1.3v1.3h-1.3zM313.1 46.4h2.6v1.3h-2.6zM317.0 46.4h2.6v1.3h-2.6zM328.7 46.4h1.3v1.3h-1.3zM339.1 46.4h1.3v1.3h-1.3zM343.0 46.4h1.3v1.3h-1.3zM363.8 46.4h1.3v1.3h-1.3zM366.4 46.4h1.3v1.3h-1.3zM374.2 46.4h1.3v1.3h-1.3zM376.8 46.4h1.3v1.3h-1.3zM380.7 46.4h1.3v1.3h-1.3zM384.6 46.4h2.6v1.3h-2.6zM388.5 46.4h1.3v1.3h-1.3zM391.1 46.4h2.6v1.3h-2.6zM395.0 46.4h1.3v1.3h-1.3zM400.2 46.4h3.9v1.3h-3.9zM314.4 47.7h1.3v1.3h-1.3zM317.0 47.7h1.3v1.3h-1.3zM319.6 47.7h1.3v1.3h-1.3zM322.2 47.7h1.3v1.3h-1.3zM328.7 47.7h1.3v1.3h-1.3zM341.7 47.7h2.6v1.3h-2.6zM353.4 47.7h1.3v1.3h-1.3zM356.0 47.7h6.5v1.3h-6.5zM365.1 47.7h1.3v1.3h-1.3zM380.7 47.7h5.2v1.3h-5.2zM406.7 47.7h1.3v1.3h-1.3zM410.6 47.7h1.3v1.3h-1.3zM317.0 49.0h1.3v1.3h-1.3zM322.2 49.0h1.3v1.3h-1.3zM327.4 49.0h1.3v1.3h-1.3zM349.5 49.0h1.3v1.3h-1.3zM358.6 49.0h1.3v1.3h-1.3zM363.8 49.0h1.3v1.3h-1.3zM408.0 49.0h1.3v1.3h-1.3zM320.9 50.3h1.3v1.3h-1.3zM348.2 50.3h1.3v1.3h-1.3zM353.4 50.3h1.3v1.3h-1.3zM357.3 50.3h1.3v1.3h-1.3zM359.9 50.3h1.3v1.3h-1.3zM324.8 51.6h2.6v1.3h-2.6zM350.8 51.6h1.3v1.3h-1.3zM413.2 51.6h2.6v1.3h-2.6zM417.1 52.9h1.3v1.3h-1.3zM418.4 54.2h1.3v1.3h-1.3zM419.7 56.8h1.3v1.3h-1.3zM421.0 58.1h1.3v1.3h-1.3z" fill="#ffffff" />
<path d="M416.0 75.9h2.6v1.3h-2.6zM416.0 78.5h3.9v1.3h-3.9zM418.6 79.8h2.6v1.3h-2.6zM421.2 81.1h3.9v1.3h-3.9zM419.9 82.4h2.6v1.3h-2.6zM425.1 82.4h1.3v1.3h-1.3zM427.7 82.4h1.3v1.3h-1.3zM417.3 83.7h2.6v1.3h-2.6zM421.2 83.7h1.3v1.3h-1.3zM429.0 83.7h1.3v1.3h-1.3zM417.3 85.0h1.3v1.3h-1.3zM419.9 85.0h1.3v1.3h-1.3zM422.5 85.0h2.6v1.3h-2.6zM430.3 85.0h2.6v1.3h-2.6zM418.6 86.3h1.3v1.3h-1.3zM422.5 86.3h1.3v1.3h-1.3zM425.1 86.3h1.3v1.3h-1.3zM427.7 86.3h7.8v1.3h-7.8zM425.1 87.6h1.3v1.3h-1.3zM430.3 87.6h5.2v1.3h-5.2zM438.1 87.6h1.3v1.3h-1.3zM440.7 87.6h2.6v1.3h-2.6zM418.6 88.9h1.3v1.3h-1.3zM425.1 88.9h1.3v1.3h-1.3zM429.0 88.9h1.3v1.3h-1.3zM440.7 88.9h1.3v1.3h-1.3zM443.3 88.9h1.3v1.3h-1.3zM417.3 90.2h1.3v1.3h-1.3zM421.2 90.2h1.3v1.3h-1.3zM426.4 90.2h1.3v1.3h-1.3zM430.3 90.2h3.9v1.3h-3.9zM435.5 90.2h1.3v1.3h-1.3zM439.4 90.2h5.2v1.3h-5.2zM421.2 91.5h1.3v1.3h-1.3zM426.4 91.5h1.3v1.3h-1.3zM429.0 91.5h1.3v1.3h-1.3zM435.5 91.5h2.6v1.3h-2.6zM440.7 91.5h2.6v1.3h-2.6zM422.5 92.8h5.2v1.3h-5.2zM429.0 92.8h1.3v1.3h-1.3zM432.9 92.8h3.9v1.3h-3.9zM421.2 94.1h2.6v1.3h-2.6zM427.7 94.1h1.3v1.3h-1.3zM432.9 94.1h5.2v1.3h-5.2zM442.0 94.1h1.3v1.3h-1.3zM421.2 95.4h2.6v1.3h-2.6zM429.0 95.4h2.6v1.3h-2.6zM436.8 95.4h1.3v1.3h-1.3zM439.4 95.4h1.3v1.3h-1.3zM443.3 95.4h1.3v1.3h-1.3zM417.3 96.7h2.6v1.3h-2.6zM423.8 96.7h1.3v1.3h-1.3zM426.4 96.7h1.3v1.3h-1.3zM430.3 96.7h2.6v1.3h-2.6zM435.5 96.7h2.6v1.3h-2.6zM418.6 98.0h1.3v1.3h-1.3zM422.5 98.0h1.3v1.3h-1.3zM425.1 98.0h1.3v1.3h-1.3zM427.7 98.0h1.3v1.3h-1.3zM431.6 98.0h1.3v1.3h-1.3zM438.1 98.0h2.6v1.3h-2.6zM443.3 98.0h1.3v1.3h-1.3zM417.3 99.3h2.6v1.3h-2.6zM421.2 99.3h2.6v1.3h-2.6zM426.4 99.3h2.6v1.3h-2.6zM431.6 99.3h1.3v1.3h-1.3zM436.8 99.3h1.3v1.3h-1.3zM439.4 99.3h6.5v1.3h-6.5zM417.3 100.6h1.3v1.3h-1.3zM419.9 100.6h2.6v1.3h-2.6zM427.7 100.6h1.3v1.3h-1.3zM432.9 100.6h2.6v1.3h-2.6zM436.8 100.6h1.3v1.3h-1.3zM440.7 100.6h1.3v1.3h-1.3zM444.6 100.6h1.3v1.3h-1.3zM418.6 101.9h1.3v1.3h-1.3zM421.2 101.9h1.3v1.3h-1.3zM425.1 101.9h1.3v1.3h-1.3zM427.7 101.9h1.3v1.3h-1.3zM434.2 101.9h6.5v1.3h-6.5zM442.0 101.9h1.3v1.3h-1.3zM417.3 103.2h2.6v1.3h-2.6zM422.5 103.2h1.3v1.3h-1.3zM425.1 103.2h1.3v1.3h-1.3zM427.7 103.2h1.3v1.3h-1.3zM431.6 103.2h1.3v1.3h-1.3zM434.2 103.2h1.3v1.3h-1.3zM436.8 103.2h1.3v1.3h-1.3zM440.7 103.2h5.2v1.3h-5.2zM432.9 104.5h1.3v1.3h-1.3zM435.5 104.5h1.3v1.3h-1.3zM438.1 104.5h1.3v1.3h-1.3zM443.3 104.5h1.3v1.3h-1.3zM416.0 105.8h1.3v1.3h-1.3zM422.5 105.8h1.3v1.3h-1.3zM427.7 105.8h2.6v1.3h-2.6zM442.0 105.8h1.3v1.3h-1.3zM417.3 107.1h1.3v1.3h-1.3zM421.2 107.1h1.3v1.3h-1.3zM423.8 107.1h2.6v1.3h-2.6zM427.7 107.1h2.6v1.3h-2.6zM431.6 107.1h2.6v1.3h-2.6zM436.8 107.1h1.3v1.3h-1.3zM439.4 107.1h1.3v1.3h-1.3zM444.6 107.1h1.3v1.3h-1.3zM418.6 108.4h1.3v1.3h-1.3zM421.2 108.4h1.3v1.3h-1.3zM429.0 108.4h1.3v1.3h-1.3zM440.7 108.4h3.9v1.3h-3.9zM418.6 109.7h1.3v1.3h-1.3zM422.5 109.7h3.9v1.3h-3.9zM427.7 109.7h1.3v1.3h-1.3zM430.3 109.7h1.3v1.3h-1.3zM434.2 109.7h1.3v1.3h-1.3zM439.4 109.7h5.2v1.3h-5.2zM416.0 111.0h2.6v1.3h-2.6zM422.5 111.0h2.6v1.3h-2.6zM434.2 111.0h1.3v1.3h-1.3zM442.0 111.0h2.6v1.3h-2.6zM418.6 112.3h1.3v1.3h-1.3zM425.1 112.3h1.3v1.3h-1.3zM427.7 112.3h3.9v1.3h-3.9zM436.8 112.3h1.3v1.3h-1.3zM439.4 112.3h1.3v1.3h-1.3zM443.3 112.3h1.3v1.3h-1.3zM425.1 113.6h1.3v1.3h-1.3zM430.3 113.6h1.3v1.3h-1.3zM436.8 113.6h2.6v1.3h-2.6zM443.3 113.6h1.3v1.3h-1.3zM417.3 114.9h1.3v1.3h-1.3zM421.2 114.9h2.6v1.3h-2.6zM426.4 114.9h1.3v1.3h-1.3zM432.9 114.9h1.3v1.3h-1.3zM435.5 114.9h1.3v1.3h-1.3zM443.3 114.9h2.6v1.3h-2.6zM416.0 116.2h1.3v1.3h-1.3zM422.5 116.2h1.3v1.3h-1.3zM429.0 116.2h1.3v1.3h-1.3zM432.9 116.2h2.6v1.3h-2.6zM436.8 116.2h1.3v1.3h-1.3zM416.0 117.5h1.3v1.3h-1.3zM419.9 117.5h2.6v1.3h-2.6zM426.4 117.5h1.3v1.3h-1.3zM429.0 117.5h1.3v1.3h-1.3zM431.6 117.5h1.3v1.3h-1.3zM417.3 118.8h1.3v1.3h-1.3zM425.1 118.8h3.9v1.3h-3.9zM430.3 118.8h1.3v1.3h-1.3zM434.2 118.8h1.3v1.3h-1.3zM436.8 118.8h1.3v1.3h-1.3zM442.0 118.8h2.6v1.3h-2.6zM417.3 120.1h1.3v1.3h-1.3zM427.7 120.1h1.3v1.3h-1.3zM432.9 120.1h1.3v1.3h-1.3zM440.7 120.1h1.3v1.3h-1.3zM417.3 121.4h1.3v1.3h-1.3zM423.8 121.4h1.3v1.3h-1.3zM426.4 121.4h1.3v1.3h-1.3zM429.0 121.4h1.3v1.3h-1.3zM431.6 121.4h1.3v1.3h-1.3zM434.2 121.4h1.3v1.3h-1.3zM440.7 121.4h2.6v1.3h-2.6zM419.9 122.7h1.3v1.3h-1.3zM422.5 122.7h1.3v1.3h-1.3zM431.6 122.7h1.3v1.3h-1.3zM434.2 122.7h2.6v1.3h-2.6zM438.1 122.7h1.3v1.3h-1.3zM440.7 122.7h1.3v1.3h-1.3zM418.6 124.0h1.3v1.3h-1.3zM422.5 124.0h1.3v1.3h-1.3zM426.4 124.0h1.3v1.3h-1.3zM430.3 124.0h1.3v1.3h-1.3zM418.6 125.3h1.3v1.3h-1.3zM423.8 125.3h1.3v1.3h-1.3zM426.4 125.3h1.3v1.3h-1.3zM429.0 125.3h2.6v1.3h-2.6zM432.9 125.3h2.6v1.3h-2.6zM436.8 125.3h1.3v1.3h-1.3zM419.9 126.6h1.3v1.3h-1.3zM422.5 126.6h2.6v1.3h-2.6zM427.7 126.6h1.3v1.3h-1.3zM430.3 126.6h3.9v1.3h-3.9zM438.1 126.6h1.3v1.3h-1.3zM421.2 127.9h2.6v1.3h-2.6zM425.1 127.9h1.3v1.3h-1.3zM429.0 127.9h1.3v1.3h-1.3z" fill="#1e50ff" />
<path d="M416.0 74.6h1.3v1.3h-1.3zM416.0 78.5h1.3v1.3h-1.3zM425.1 83.7h1.3v1.3h-1.3zM429.0 83.7h1.3v1.3h-1.3zM422.5 85.0h3.9v1.3h-3.9zM427.7 86.3h2.6v1.3h-2.6zM432.9 86.3h1.3v1.3h-1.3zM435.5 88.9h1.3v1.3h-1.3zM442.0 88.9h1.3v1.3h-1.3zM429.0 90.2h1.3v1.3h-1.3zM421.2 91.5h1.3v1.3h-1.3zM425.1 91.5h1.3v1.3h-1.3zM432.9 92.8h1.3v1.3h-1.3zM426.4 94.1h1.3v1.3h-1.3zM435.5 96.7h1.3v1.3h-1.3zM418.6 99.3h1.3v1.3h-1.3zM429.0 99.3h1.3v1.3h-1.3zM443.3 99.3h1.3v1.3h-1.3zM442.0 100.6h2.6v1.3h-2.6zM439.4 101.9h1.3v1.3h-1.3zM444.6 104.5h1.3v1.3h-1.3zM438.1 105.8h2.6v1.3h-2.6zM427.7 107.1h1.3v1.3h-1.3zM431.6 107.1h2.6v1.3h-2.6zM439.4 107.1h1.3v1.3h-1.3zM442.0 107.1h1.3v1.3h-1.3zM444.6 107.1h1.3v1.3h-1.3zM430.3 109.7h1.3v1.3h-1.3zM430.3 111.0h1.3v1.3h-1.3zM439.4 111.0h1.3v1.3h-1.3zM443.3 111.0h1.3v1.3h-1.3zM436.8 112.3h1.3v1.3h-1.3zM425.1 113.6h2.6v1.3h-2.6zM436.8 113.6h1.3v1.3h-1.3zM442.0 113.6h1.3v1.3h-1.3zM443.3 114.9h1.3v1.3h-1.3zM423.8 116.2h1.3v1.3h-1.3zM434.2 117.5h1.3v1.3h-1.3zM438.1 118.8h1.3v1.3h-1.3zM440.7 118.8h1.3v1.3h-1.3zM426.4 121.4h1.3v1.3h-1.3zM439.4 121.4h1.3v1.3h-1.3zM417.3 122.7h1.3v1.3h-1.3zM427.7 122.7h1.3v1.3h-1.3zM436.8 122.7h1.3v1.3h-1.3zM418.6 124.0h1.3v1.3h-1.3z" fill="#14d2f8" />
<path d="M436.6 96.3h1.3v1.3h-1.3zM439.2 96.3h1.3v1.3h-1.3zM436.6 97.6h1.3v1.3h-1.3zM443.1 97.6h1.3v1.3h-1.3zM437.9 98.9h1.3v1.3h-1.3zM443.1 98.9h1.3v1.3h-1.3zM437.9 100.2h1.3v1.3h-1.3zM440.5 101.5h1.3v1.3h-1.3zM443.1 101.5h2.6v1.3h-2.6zM437.9 102.8h5.2v1.3h-5.2zM444.4 104.1h1.3v1.3h-1.3zM440.5 105.4h1.3v1.3h-1.3zM443.1 105.4h2.6v1.3h-2.6zM440.5 109.3h5.2v1.3h-5.2zM439.2 110.6h2.6v1.3h-2.6zM440.5 111.9h1.3v1.3h-1.3zM437.9 113.2h3.9v1.3h-3.9zM441.8 114.5h1.3v1.3h-1.3zM444.4 114.5h1.3v1.3h-1.3zM439.2 115.8h2.6v1.3h-2.6zM436.6 117.1h1.3v1.3h-1.3zM439.2 117.1h2.6v1.3h-2.6zM444.4 117.1h1.3v1.3h-1.3zM436.6 118.4h3.9v1.3h-3.9zM441.8 118.4h2.6v1.3h-2.6zM435.3 119.7h1.3v1.3h-1.3zM439.2 119.7h1.3v1.3h-1.3zM435.3 121.0h2.6v1.3h-2.6zM439.2 121.0h2.6v1.3h-2.6zM443.1 121.0h1.3v1.3h-1.3zM436.6 122.3h1.3v1.3h-1.3zM439.2 122.3h1.3v1.3h-1.3zM434.0 123.6h5.2v1.3h-5.2zM440.5 123.6h2.6v1.3h-2.6zM432.7 124.9h2.6v1.3h-2.6zM436.6 124.9h2.6v1.3h-2.6zM439.2 126.2h1.3v1.3h-1.3zM431.4 127.5h1.3v1.3h-1.3zM434.0 127.5h1.3v1.3h-1.3zM436.6 127.5h2.6v1.3h-2.6zM430.1 128.8h1.3v1.3h-1.3zM435.3 128.8h1.3v1.3h-1.3zM428.8 130.1h1.3v1.3h-1.3zM431.4 130.1h1.3v1.3h-1.3zM434.0 130.1h1.3v1.3h-1.3zM427.5 131.4h1.3v1.3h-1.3zM431.4 131.4h1.3v1.3h-1.3zM427.5 132.7h1.3v1.3h-1.3zM430.1 132.7h1.3v1.3h-1.3zM426.2 134.0h5.2v1.3h-5.2zM426.2 135.3h1.3v1.3h-1.3zM426.2 136.6h3.9v1.3h-3.9zM424.9 137.9h3.9v1.3h-3.9zM424.9 139.2h2.6v1.3h-2.6zM424.9 140.5h1.3v1.3h-1.3zM422.3 141.8h2.6v1.3h-2.6zM422.3 143.1h1.3v1.3h-1.3z" fill="#14d2f8" />
<path d="M441.8 95.0h1.3v1.3h-1.3zM439.2 96.3h5.2v1.3h-5.2zM437.9 97.6h2.6v1.3h-2.6zM437.9 98.9h2.6v1.3h-2.6zM437.9 100.2h1.3v1.3h-1.3zM439.2 101.5h5.2v1.3h-5.2zM437.9 102.8h1.3v1.3h-1.3zM441.8 102.8h1.3v1.3h-1.3zM439.2 104.1h1.3v1.3h-1.3zM441.8 104.1h2.6v1.3h-2.6zM444.4 106.7h1.3v1.3h-1.3zM439.2 108.0h1.3v1.3h-1.3zM444.4 109.3h1.3v1.3h-1.3zM444.4 111.9h1.3v1.3h-1.3zM439.2 113.2h1.3v1.3h-1.3zM441.8 113.2h1.3v1.3h-1.3zM440.5 114.5h2.6v1.3h-2.6zM444.4 114.5h1.3v1.3h-1.3zM443.1 115.8h2.6v1.3h-2.6zM436.6 117.1h1.3v1.3h-1.3zM441.8 117.1h1.3v1.3h-1.3zM436.6 118.4h1.3v1.3h-1.3zM439.2 118.4h1.3v1.3h-1.3zM441.8 118.4h2.6v1.3h-2.6zM436.6 119.7h1.3v1.3h-1.3zM440.5 119.7h3.9v1.3h-3.9zM437.9 121.0h1.3v1.3h-1.3zM441.8 121.0h1.3v1.3h-1.3zM435.3 123.6h1.3v1.3h-1.3zM441.8 123.6h1.3v1.3h-1.3zM437.9 124.9h1.3v1.3h-1.3zM435.3 126.2h1.3v1.3h-1.3zM432.7 127.5h1.3v1.3h-1.3zM435.3 127.5h1.3v1.3h-1.3zM437.9 127.5h1.3v1.3h-1.3zM430.1 128.8h1.3v1.3h-1.3zM431.4 130.1h1.3v1.3h-1.3zM427.5 131.4h1.3v1.3h-1.3zM431.4 131.4h1.3v1.3h-1.3zM430.1 132.7h1.3v1.3h-1.3zM428.8 134.0h1.3v1.3h-1.3zM424.9 135.3h3.9v1.3h-3.9zM424.9 136.6h2.6v1.3h-2.6zM426.2 137.9h2.6v1.3h-2.6zM426.2 139.2h1.3v1.3h-1.3zM422.3 140.5h1.3v1.3h-1.3zM424.9 140.5h2.6v1.3h-2.6zM423.6 141.8h1.3v1.3h-1.3zM423.6 143.1h1.3v1.3h-1.3zM423.6 144.4h1.3v1.3h-1.3z" fill="#1e50ff" />
<path d="M443.1 95.0h1.3v1.3h-1.3zM439.2 96.3h1.3v1.3h-1.3zM437.9 97.6h1.3v1.3h-1.3zM441.8 98.9h1.3v1.3h-1.3zM443.1 104.1h1.3v1.3h-1.3zM440.5 106.7h1.3v1.3h-1.3zM440.5 109.3h1.3v1.3h-1.3zM444.4 111.9h1.3v1.3h-1.3zM443.1 115.8h1.3v1.3h-1.3zM437.9 117.1h1.3v1.3h-1.3zM432.7 123.6h1.3v1.3h-1.3zM436.6 123.6h1.3v1.3h-1.3zM435.3 126.2h1.3v1.3h-1.3zM430.1 128.8h1.3v1.3h-1.3zM426.2 134.0h1.3v1.3h-1.3zM426.2 137.9h1.3v1.3h-1.3zM424.9 140.5h1.3v1.3h-1.3zM422.3 141.8h1.3v1.3h-1.3z" fill="#a8f05a" />
<path d="M426.0 127.3h1.3v1.3h-1.3zM428.6 127.3h2.6v1.3h-2.6zM423.4 128.6h1.3v1.3h-1.3zM429.9 128.6h1.3v1.3h-1.3zM429.9 129.9h1.3v1.3h-1.3zM422.1 131.2h2.6v1.3h-2.6zM426.0 131.2h1.3v1.3h-1.3zM423.4 132.5h3.9v1.3h-3.9zM420.8 133.8h3.9v1.3h-3.9zM428.6 133.8h1.3v1.3h-1.3zM420.8 135.1h2.6v1.3h-2.6zM424.7 135.1h1.3v1.3h-1.3zM420.8 136.4h3.9v1.3h-3.9zM426.0 136.4h1.3v1.3h-1.3zM426.0 137.7h1.3v1.3h-1.3zM420.8 139.0h1.3v1.3h-1.3zM426.0 139.0h1.3v1.3h-1.3zM419.5 140.3h1.3v1.3h-1.3zM422.1 140.3h1.3v1.3h-1.3zM424.7 140.3h1.3v1.3h-1.3zM420.8 141.6h2.6v1.3h-2.6zM424.7 141.6h1.3v1.3h-1.3zM418.2 142.9h1.3v1.3h-1.3zM423.4 142.9h1.3v1.3h-1.3zM420.8 144.2h2.6v1.3h-2.6zM418.2 145.5h2.6v1.3h-2.6zM416.9 148.1h1.3v1.3h-1.3zM419.5 148.1h1.3v1.3h-1.3zM415.6 149.4h1.3v1.3h-1.3zM419.5 149.4h2.6v1.3h-2.6zM415.6 150.7h1.3v1.3h-1.3zM418.2 150.7h1.3v1.3h-1.3zM414.3 153.3h1.3v1.3h-1.3zM416.9 153.3h1.3v1.3h-1.3zM414.3 154.6h1.3v1.3h-1.3zM418.2 154.6h1.3v1.3h-1.3zM415.6 155.9h1.3v1.3h-1.3zM414.3 157.2h3.9v1.3h-3.9z" fill="#a8f05a" />
<path d="M429.9 126.0h1.3v1.3h-1.3zM426.0 127.3h2.6v1.3h-2.6zM429.9 127.3h1.3v1.3h-1.3zM427.3 128.6h1.3v1.3h-1.3zM429.9 128.6h1.3v1.3h-1.3zM423.4 129.9h2.6v1.3h-2.6zM426.0 131.2h1.3v1.3h-1.3zM422.1 133.8h1.3v1.3h-1.3zM420.8 135.1h1.3v1.3h-1.3zM422.1 137.7h2.6v1.3h-2.6zM418.2 140.3h1.3v1.3h-1.3zM422.1 140.3h1.3v1.3h-1.3zM418.2 141.6h1.3v1.3h-1.3zM420.8 141.6h5.2v1.3h-5.2zM423.4 142.9h1.3v1.3h-1.3zM419.5 144.2h1.3v1.3h-1.3zM423.4 144.2h1.3v1.3h-1.3zM418.2 145.5h2.6v1.3h-2.6zM422.1 145.5h1.3v1.3h-1.3zM420.8 146.8h2.6v1.3h-2.6zM420.8 149.4h1.3v1.3h-1.3zM415.6 150.7h1.3v1.3h-1.3zM419.5 150.7h1.3v1.3h-1.3zM418.2 153.3h1.3v1.3h-1.3zM416.9 154.6h1.3v1.3h-1.3zM413.0 155.9h1.3v1.3h-1.3zM415.6 155.9h1.3v1.3h-1.3zM415.6 157.2h2.6v1.3h-2.6z" fill="#14d2f8" />
<path d="M405.0 125.3h1.3v1.3h-1.3zM414.1 125.3h1.3v1.3h-1.3zM406.3 126.6h1.3v1.3h-1.3zM416.7 126.6h1.3v1.3h-1.3zM418.0 129.2h1.3v1.3h-1.3zM405.0 130.5h2.6v1.3h-2.6zM412.8 130.5h1.3v1.3h-1.3zM419.3 130.5h1.3v1.3h-1.3zM418.0 131.8h1.3v1.3h-1.3zM408.9 133.1h2.6v1.3h-2.6zM412.8 133.1h1.3v1.3h-1.3zM406.3 134.4h1.3v1.3h-1.3zM408.9 134.4h1.3v1.3h-1.3zM408.9 137.0h1.3v1.3h-1.3zM411.5 137.0h1.3v1.3h-1.3zM415.4 137.0h1.3v1.3h-1.3zM420.6 137.0h1.3v1.3h-1.3zM408.9 138.3h1.3v1.3h-1.3zM414.1 138.3h1.3v1.3h-1.3zM408.9 142.2h1.3v1.3h-1.3zM412.8 142.2h1.3v1.3h-1.3zM419.3 142.2h1.3v1.3h-1.3zM411.5 143.5h1.3v1.3h-1.3zM420.6 143.5h1.3v1.3h-1.3zM419.3 144.8h2.6v1.3h-2.6zM418.0 146.1h1.3v1.3h-1.3zM416.7 147.4h1.3v1.3h-1.3zM408.9 148.7h1.3v1.3h-1.3zM412.8 148.7h1.3v1.3h-1.3zM408.9 150.0h1.3v1.3h-1.3zM412.8 150.0h1.3v1.3h-1.3zM415.4 150.0h1.3v1.3h-1.3zM410.2 152.6h2.6v1.3h-2.6zM410.2 153.9h1.3v1.3h-1.3zM418.0 155.2h1.3v1.3h-1.3zM412.8 156.5h1.3v1.3h-1.3zM408.9 159.1h1.3v1.3h-1.3zM411.5 159.1h1.3v1.3h-1.3zM411.5 160.4h1.3v1.3h-1.3zM411.5 161.7h3.9v1.3h-3.9zM410.2 164.3h3.9v1.3h-3.9zM412.8 165.6h1.3v1.3h-1.3zM410.2 166.9h1.3v1.3h-1.3zM408.9 168.2h1.3v1.3h-1.3z" fill="#1e50ff" />
<path d="M410.2 125.3h1.3v1.3h-1.3zM415.4 125.3h1.3v1.3h-1.3zM414.1 126.6h1.3v1.3h-1.3zM405.0 127.9h1.3v1.3h-1.3zM410.2 131.8h1.3v1.3h-1.3zM415.4 139.6h1.3v1.3h-1.3zM415.4 143.5h1.3v1.3h-1.3zM418.0 144.8h1.3v1.3h-1.3zM416.7 147.4h1.3v1.3h-1.3zM411.5 148.7h1.3v1.3h-1.3zM408.9 152.6h1.3v1.3h-1.3zM411.5 153.9h1.3v1.3h-1.3zM410.2 157.8h1.3v1.3h-1.3zM416.7 157.8h1.3v1.3h-1.3zM414.1 159.1h2.6v1.3h-2.6z" fill="#14d2f8" />
<path d="M420.0 39.3h1.3v1.3h-1.3zM426.5 39.3h1.3v1.3h-1.3zM434.3 39.3h1.3v1.3h-1.3zM422.6 40.6h1.3v1.3h-1.3zM421.3 41.9h1.3v1.3h-1.3zM435.6 43.2h1.3v1.3h-1.3zM427.8 44.5h1.3v1.3h-1.3zM433.0 44.5h1.3v1.3h-1.3zM422.6 45.8h1.3v1.3h-1.3zM434.3 45.8h1.3v1.3h-1.3zM436.9 45.8h1.3v1.3h-1.3zM422.6 48.4h1.3v1.3h-1.3zM434.3 48.4h1.3v1.3h-1.3zM436.9 48.4h1.3v1.3h-1.3zM427.8 49.7h1.3v1.3h-1.3zM440.8 49.7h1.3v1.3h-1.3zM422.6 51.0h1.3v1.3h-1.3zM435.6 51.0h1.3v1.3h-1.3zM434.3 52.3h1.3v1.3h-1.3zM436.9 52.3h3.9v1.3h-3.9zM430.4 53.6h1.3v1.3h-1.3zM434.3 53.6h1.3v1.3h-1.3zM427.8 54.9h1.3v1.3h-1.3zM438.2 54.9h1.3v1.3h-1.3z" fill="#1e50ff" />
<path d="M430.5 38.5h2.6v1.3h-2.6zM427.9 39.8h2.6v1.3h-2.6zM433.1 39.8h1.3v1.3h-1.3zM433.1 41.1h2.6v1.3h-2.6zM431.8 42.4h1.3v1.3h-1.3zM434.4 42.4h3.9v1.3h-3.9zM425.3 43.7h1.3v1.3h-1.3zM434.4 43.7h3.9v1.3h-3.9zM426.6 45.0h1.3v1.3h-1.3zM430.5 45.0h2.6v1.3h-2.6zM435.7 45.0h1.3v1.3h-1.3zM424.0 46.3h1.3v1.3h-1.3zM427.9 46.3h5.2v1.3h-5.2zM437.0 46.3h2.6v1.3h-2.6zM425.3 47.6h1.3v1.3h-1.3zM433.1 47.6h5.2v1.3h-5.2zM429.2 48.9h2.6v1.3h-2.6zM433.1 48.9h1.3v1.3h-1.3zM425.3 50.2h2.6v1.3h-2.6zM434.4 50.2h1.3v1.3h-1.3zM437.0 50.2h1.3v1.3h-1.3zM425.3 51.5h1.3v1.3h-1.3zM429.2 51.5h1.3v1.3h-1.3zM427.9 54.1h1.3v1.3h-1.3z" fill="#14d2f8" />
<path d="M426.6 39.8h1.3v1.3h-1.3zM434.4 39.8h1.3v1.3h-1.3zM427.9 41.1h2.6v1.3h-2.6zM433.1 41.1h1.3v1.3h-1.3zM435.7 41.1h1.3v1.3h-1.3zM426.6 42.4h1.3v1.3h-1.3zM430.5 42.4h2.6v1.3h-2.6zM434.4 42.4h1.3v1.3h-1.3zM437.0 42.4h1.3v1.3h-1.3zM425.3 43.7h1.3v1.3h-1.3zM434.4 43.7h3.9v1.3h-3.9zM427.9 45.0h1.3v1.3h-1.3zM430.5 45.0h1.3v1.3h-1.3zM434.4 45.0h1.3v1.3h-1.3zM437.0 45.0h1.3v1.3h-1.3zM424.0 46.3h2.6v1.3h-2.6zM433.1 46.3h1.3v1.3h-1.3zM424.0 47.6h1.3v1.3h-1.3zM434.4 47.6h1.3v1.3h-1.3zM425.3 48.9h1.3v1.3h-1.3zM427.9 48.9h1.3v1.3h-1.3zM434.4 48.9h1.3v1.3h-1.3zM427.9 50.2h1.3v1.3h-1.3zM425.3 51.5h1.3v1.3h-1.3zM427.9 51.5h1.3v1.3h-1.3zM430.5 51.5h1.3v1.3h-1.3zM434.4 51.5h1.3v1.3h-1.3zM425.3 52.8h1.3v1.3h-1.3zM427.9 52.8h1.3v1.3h-1.3zM430.5 52.8h2.6v1.3h-2.6z" fill="#1e50ff" />
<circle cx="431" cy="48.5" r="2.6" fill="#e8e040"/>
<circle cx="431.5" cy="48.8" r="1.2" fill="#f4b030"/>
<polygon points="471.1,112.6 473.3,114.8 474.8,120.7 472.6,128.1 469.6,137.0 465.9,145.9 462.2,153.3 457.8,157.0 454.0,156.3 451.9,150.4 451.9,144.4 454.0,138.5 454.8,131.1 456.3,126.7 462.2,122.2 466.7,117.8 469.6,113.3" fill="#ffffff" />
<polygon points="470.0,116.0 473.0,120.0 470.0,130.0 466.0,142.0 462.0,152.0 460.0,150.0 464.0,138.0 467.0,126.0" fill="#e8ec20" />
<polygon points="470.0,112.6 474.8,120.7 468.0,118.0" fill="#30a0f0" />
<path d="M470.1 113.9h1.3v1.3h-1.3zM468.8 116.5h1.3v1.3h-1.3zM472.7 117.8h1.3v1.3h-1.3zM464.9 119.1h1.3v1.3h-1.3zM472.7 120.4h1.3v1.3h-1.3zM472.7 121.7h1.3v1.3h-1.3zM461.0 123.0h2.6v1.3h-2.6zM466.2 123.0h2.6v1.3h-2.6zM468.8 124.3h1.3v1.3h-1.3zM471.4 125.6h1.3v1.3h-1.3zM467.5 126.9h5.2v1.3h-5.2zM470.1 128.2h1.3v1.3h-1.3zM461.0 129.5h1.3v1.3h-1.3zM458.4 134.7h2.6v1.3h-2.6zM464.9 134.7h1.3v1.3h-1.3zM462.3 136.0h1.3v1.3h-1.3zM464.9 136.0h1.3v1.3h-1.3zM468.8 136.0h1.3v1.3h-1.3zM464.9 137.3h1.3v1.3h-1.3zM458.4 138.6h1.3v1.3h-1.3zM463.6 138.6h1.3v1.3h-1.3zM459.7 139.9h1.3v1.3h-1.3zM453.2 141.2h1.3v1.3h-1.3zM462.3 142.5h1.3v1.3h-1.3zM466.2 142.5h1.3v1.3h-1.3zM454.5 143.8h1.3v1.3h-1.3zM457.1 143.8h1.3v1.3h-1.3zM453.2 145.1h1.3v1.3h-1.3zM462.3 145.1h1.3v1.3h-1.3zM451.9 146.4h1.3v1.3h-1.3zM462.3 146.4h1.3v1.3h-1.3zM463.6 147.7h1.3v1.3h-1.3zM457.1 149.0h1.3v1.3h-1.3zM453.2 150.3h2.6v1.3h-2.6zM458.4 152.9h1.3v1.3h-1.3zM455.8 154.2h1.3v1.3h-1.3z" fill="#1e50ff" />
<path d="M471.4 121.7h1.3v1.3h-1.3zM455.8 128.2h1.3v1.3h-1.3zM463.6 128.2h1.3v1.3h-1.3zM466.2 133.4h1.3v1.3h-1.3zM468.8 133.4h1.3v1.3h-1.3zM454.5 134.7h1.3v1.3h-1.3zM468.8 136.0h1.3v1.3h-1.3zM457.1 139.9h1.3v1.3h-1.3zM466.2 141.2h1.3v1.3h-1.3zM464.9 142.5h1.3v1.3h-1.3zM459.7 143.8h1.3v1.3h-1.3zM457.1 150.3h1.3v1.3h-1.3zM453.2 151.6h1.3v1.3h-1.3z" fill="#14d2f8" />
<polyline points="471.1,112.6 473.3,114.8 474.8,120.7 472.6,128.1 469.6,137.0 465.9,145.9 462.2,153.3 457.8,157.0 454.0,156.3 451.9,150.4 451.9,144.4 454.0,138.5 454.8,131.1 456.3,126.7 462.2,122.2 466.7,117.8 469.6,113.3 471.1,112.6" fill="none" stroke="#8c8c8c" stroke-width="0.8" stroke-linejoin="round" stroke-linecap="round" transform="translate(-0.8,1.3)"/>
<polyline points="471.1,112.6 473.3,114.8 474.8,120.7 472.6,128.1 469.6,137.0 465.9,145.9 462.2,153.3 457.8,157.0 454.0,156.3 451.9,150.4 451.9,144.4 454.0,138.5 454.8,131.1 456.3,126.7 462.2,122.2 466.7,117.8 469.6,113.3 471.1,112.6" fill="none" stroke="#151515" stroke-width="0.9" stroke-linejoin="round" stroke-linecap="round" />
<polyline points="275.1,23.5 273.1,25.5 274.1,28.5 275.1,32.5 278.1,36.5 283.1,44.5 289.1,52.5 297.1,57.5 305.1,59.1 315.1,57.5 323.1,56.5 329.1,53.5 337.1,53.5 341.1,57.5 345.1,58.5 349.1,60.5 351.9,63.5 351.0,70.6 351.9,76.1 355.5,85.2 360.1,94.3 363.7,103.5 364.6,112.6 362.8,119.9 360.1,129.0 361.0,136.3 364.3,140.9 366.5,146.7 367.2,154.0 368.6,162.7 371.6,168.5 374.5,174.3 375.9,180.1 377.4,184.5 380.3,186.7 387.6,186.0 396.3,184.5 402.1,182.3 407.9,177.2 412.3,172.9 415.2,168.5 418.1,162.7 421.0,158.3 423.9,156.9 426.8,154.0 428.3,148.1 427.6,142.3 428.3,136.5 430.7,135.5 435.1,132.2 439.3,129.0 442.6,124.6 444.7,118.1 445.4,109.0 442.9,96.5 442.9,89.0 446.6,79.0 451.6,71.5 459.1,64.0 466.6,54.0 471.6,44.0 474.1,36.5" fill="none" stroke="#8c8c8c" stroke-width="0.9" stroke-linejoin="round" stroke-linecap="round" /><polyline points="276.0,22.0 274.0,24.0 275.0,27.0 276.0,31.0 279.0,35.0 284.0,43.0 290.0,51.0 298.0,56.0 306.0,57.6 316.0,56.0 324.0,55.0 330.0,52.0 338.0,52.0 342.0,56.0 346.0,57.0 350.0,59.0 352.8,62.0 351.9,69.1 352.8,74.6 356.4,83.7 361.0,92.8 364.6,102.0 365.5,111.1 363.7,118.4 361.0,127.5 361.9,134.8 365.2,139.4 367.4,145.2 368.1,152.5 369.5,161.2 372.5,167.0 375.4,172.8 376.8,178.6 378.3,183.0 381.2,185.2 388.5,184.5 397.2,183.0 403.0,180.8 408.8,175.7 413.2,171.4 416.1,167.0 419.0,161.2 421.9,156.8 424.8,155.4 427.7,152.5 429.2,146.6 428.5,140.8 429.2,135.0 431.6,134.0 436.0,130.7 440.2,127.5 443.5,123.1 445.6,116.6 446.3,107.5 443.8,95.0 443.8,87.5 447.5,77.5 452.5,70.0 460.0,62.5 467.5,52.5 472.5,42.5 475.0,35.0" fill="none" stroke="#151515" stroke-width="1.0" stroke-linejoin="round" stroke-linecap="round" />
<polygon points="420.0,71.3 423.5,70.8 426.3,72.5 425.5,79.0 422.0,81.3 420.0,77.0" fill="#fff" stroke="#000" stroke-width="0.8"/>
<polyline points="441.0,21.0 450.0,27.5 453.8,31.3 460.0,33.8 467.5,32.5 475.0,35.0" fill="none" stroke="#000" stroke-width="0.8" stroke-linejoin="round" stroke-linecap="round" />
<polyline points="451.0,21.0 452.5,27.5 453.8,31.3" fill="none" stroke="#000" stroke-width="0.8" stroke-linejoin="round" stroke-linecap="round" />
<polyline points="460.0,30.0 468.0,26.0 477.5,21.0" fill="none" stroke="#000" stroke-width="0.8" stroke-linejoin="round" stroke-linecap="round" />
<circle cx="487.4" cy="141.5" r="0.9" fill="#000"/>
<polyline points="426.5,102.5 428.0,110.0 428.5,117.5" fill="none" stroke="#000" stroke-width="1.1" stroke-linejoin="round" stroke-linecap="round" />
<polyline points="412.5,85.0 414.5,93.0 417.5,102.5" fill="none" stroke="#000" stroke-width="1.1" stroke-linejoin="round" stroke-linecap="round" />
<text x="311.6" y="91.9" class="lab" style="font-size:16.5px">B</text>
<defs><linearGradient id="jet" x1="0" y1="1" x2="0" y2="0">
<stop offset="0" stop-color="#00008f"/><stop offset="0.125" stop-color="#0000ff"/>
<stop offset="0.375" stop-color="#00ffff"/><stop offset="0.625" stop-color="#ffff00"/>
<stop offset="0.875" stop-color="#ff0000"/><stop offset="1" stop-color="#800000"/>
</linearGradient></defs>
<rect x="493" y="31" width="16.5" height="155.4" fill="url(#jet)" stroke="#222" stroke-width="0.6"/>
<text x="510.4" y="48.9" class="tk">0.9</text>
<text x="510.4" y="85.8" class="tk">0.8</text>
<text x="510.4" y="121.3" class="tk">0.7</text>
<text x="510.4" y="154.0" class="tk">0.6</text>
<text x="510.4" y="189.1" class="tk">0.5</text>
<polygon points="37.0,244.0 45.0,245.0 55.0,249.0 65.0,255.0 71.0,258.0 77.0,261.0 85.0,259.0 89.0,255.0 93.0,257.0 97.0,262.0 101.0,259.0 109.0,263.0 115.0,261.0 121.0,260.0 129.0,261.0 136.0,260.0 150.0,258.0 166.0,259.0 174.0,262.0 180.0,266.0 183.0,272.0 184.0,282.0 182.0,290.0 178.0,300.0 178.0,315.0 182.0,322.0 186.0,330.0 192.0,326.0 200.0,322.0 206.0,315.0 206.2,315.0 209.3,325.2 211.3,329.3 210.4,340.0 209.7,344.1 205.6,349.6 201.5,352.3 197.4,355.0 193.3,359.2 191.9,363.3 192.6,370.1 191.9,375.6 189.2,379.7 185.7,382.4 186.0,372.0 186.3,360.7 183.8,350.5 174.0,347.5 161.0,349.5 152.0,349.0 145.0,350.0 135.0,351.0 124.0,351.0 124.6,340.2 127.4,334.7 128.3,327.4 125.5,316.5 121.9,309.2 116.4,300.0 113.7,292.8 114.6,287.3 116.4,280.0 113.0,278.0 107.0,276.0 103.0,275.0 100.0,270.0 95.0,268.0 89.0,269.0 81.0,272.0 73.0,273.0 64.0,274.0 57.0,271.0 51.0,265.0 45.0,259.0 39.0,251.0 37.0,246.0" fill="#a8e858" />
<polygon points="37.0,244.0 45.0,245.0 55.0,249.0 65.0,255.0 71.0,258.0 77.0,261.0 85.0,259.0 89.0,255.0 93.0,257.0 97.0,262.0 101.0,259.0 109.0,263.0 115.0,261.0 121.0,260.0 112.0,266.0 107.0,270.0 100.0,268.0 95.0,266.0 89.0,268.0 81.0,271.0 73.0,272.0 64.0,273.0 57.0,270.0 51.0,264.0 45.0,258.0 39.0,250.0" fill="#f8f000" />
<polygon points="37.0,244.0 45.0,245.0 50.0,247.0 47.0,252.0 52.0,260.0 58.0,268.0 51.0,265.0 45.0,259.0 39.0,251.0" fill="#ff9a14" />
<polygon points="69.0,260.0 77.0,262.0 84.0,262.0 83.0,270.0 73.0,273.0 68.0,268.0" fill="#ff9a14" />
<polygon points="55.0,253.0 62.0,252.0 66.0,257.0 62.0,263.0 56.0,260.0" fill="#a8e858" />
<polygon points="95.0,262.0 101.0,260.0 110.0,264.0 108.0,271.0 103.0,275.0 100.0,270.0" fill="#ff9a14" />
<polygon points="132.0,260.0 164.0,259.0 173.0,261.0 180.0,268.0 182.0,276.0 176.0,282.0 170.0,286.0 166.0,296.0 163.0,308.0 155.0,314.0 146.0,315.0 133.0,309.0 127.0,297.0 128.0,284.0 131.0,275.0" fill="#f8f000" />
<polygon points="140.0,266.0 148.0,264.0 155.0,268.0 156.0,276.0 149.0,280.0 141.0,276.0" fill="#a8e858" />
<polygon points="166.0,284.0 172.0,284.0 176.0,290.0 174.0,300.0 168.0,302.0 165.0,294.0" fill="#a8e858" />
<polygon points="127.0,296.0 133.0,300.0 138.0,310.0 132.0,312.0 126.0,305.0" fill="#a8e858" />
<polygon points="118.0,266.0 124.0,263.0 133.0,262.0 138.0,266.0 134.0,272.0 127.0,272.0" fill="#f8f000" opacity="0.8"/>
<polygon points="164.0,259.0 173.0,261.0 180.0,268.0 183.0,274.0 179.0,272.0 172.0,265.0 165.0,262.0" fill="#ff9a14" />
<polygon points="110.0,270.0 116.0,266.0 122.0,266.0 118.0,272.0 113.0,276.0" fill="#ff9a14" />
<polygon points="125.0,325.0 140.0,322.0 160.0,326.0 176.0,324.0 184.0,332.0 183.8,350.5 174.0,347.5 161.0,349.5 152.0,349.0 145.0,350.0 135.0,351.0 124.0,351.0 122.8,347.5 124.6,340.2 127.4,334.7" fill="#14f0f0" />
<path d="M138.4 322.0h1.3v1.3h-1.3zM130.6 323.3h1.3v1.3h-1.3zM139.7 323.3h1.3v1.3h-1.3zM126.7 324.6h1.3v1.3h-1.3zM129.3 324.6h1.3v1.3h-1.3zM137.1 324.6h1.3v1.3h-1.3zM139.7 324.6h1.3v1.3h-1.3zM142.3 324.6h1.3v1.3h-1.3zM144.9 324.6h3.9v1.3h-3.9zM154.0 324.6h2.6v1.3h-2.6zM169.6 324.6h2.6v1.3h-2.6zM173.5 324.6h1.3v1.3h-1.3zM131.9 325.9h1.3v1.3h-1.3zM138.4 325.9h1.3v1.3h-1.3zM143.6 325.9h1.3v1.3h-1.3zM147.5 325.9h1.3v1.3h-1.3zM152.7 325.9h1.3v1.3h-1.3zM155.3 325.9h1.3v1.3h-1.3zM159.2 325.9h1.3v1.3h-1.3zM164.4 325.9h1.3v1.3h-1.3zM170.9 325.9h3.9v1.3h-3.9zM125.4 327.2h1.3v1.3h-1.3zM139.7 327.2h1.3v1.3h-1.3zM143.6 327.2h1.3v1.3h-1.3zM148.8 327.2h1.3v1.3h-1.3zM154.0 327.2h1.3v1.3h-1.3zM163.1 327.2h1.3v1.3h-1.3zM165.7 327.2h1.3v1.3h-1.3zM168.3 327.2h1.3v1.3h-1.3zM172.2 327.2h2.6v1.3h-2.6zM125.4 328.5h1.3v1.3h-1.3zM129.3 328.5h1.3v1.3h-1.3zM131.9 328.5h1.3v1.3h-1.3zM134.5 328.5h3.9v1.3h-3.9zM142.3 328.5h1.3v1.3h-1.3zM147.5 328.5h1.3v1.3h-1.3zM164.4 328.5h1.3v1.3h-1.3zM168.3 328.5h1.3v1.3h-1.3zM170.9 328.5h1.3v1.3h-1.3zM134.5 329.8h1.3v1.3h-1.3zM143.6 329.8h1.3v1.3h-1.3zM150.1 329.8h1.3v1.3h-1.3zM155.3 329.8h1.3v1.3h-1.3zM163.1 329.8h1.3v1.3h-1.3zM177.4 329.8h2.6v1.3h-2.6zM126.7 331.1h1.3v1.3h-1.3zM138.4 331.1h1.3v1.3h-1.3zM143.6 331.1h1.3v1.3h-1.3zM150.1 331.1h2.6v1.3h-2.6zM156.6 331.1h2.6v1.3h-2.6zM161.8 331.1h1.3v1.3h-1.3zM178.7 331.1h1.3v1.3h-1.3zM129.3 332.4h2.6v1.3h-2.6zM134.5 332.4h2.6v1.3h-2.6zM139.7 332.4h2.6v1.3h-2.6zM154.0 332.4h3.9v1.3h-3.9zM165.7 332.4h1.3v1.3h-1.3zM168.3 332.4h1.3v1.3h-1.3zM176.1 332.4h1.3v1.3h-1.3zM182.6 332.4h1.3v1.3h-1.3zM126.7 333.7h1.3v1.3h-1.3zM130.6 333.7h2.6v1.3h-2.6zM157.9 333.7h2.6v1.3h-2.6zM170.9 333.7h1.3v1.3h-1.3zM176.1 333.7h1.3v1.3h-1.3zM178.7 333.7h1.3v1.3h-1.3zM130.6 335.0h1.3v1.3h-1.3zM134.5 335.0h1.3v1.3h-1.3zM156.6 335.0h1.3v1.3h-1.3zM160.5 335.0h1.3v1.3h-1.3zM165.7 335.0h2.6v1.3h-2.6zM169.6 335.0h1.3v1.3h-1.3zM181.3 335.0h1.3v1.3h-1.3zM129.3 336.3h1.3v1.3h-1.3zM137.1 336.3h1.3v1.3h-1.3zM147.5 336.3h2.6v1.3h-2.6zM151.4 336.3h1.3v1.3h-1.3zM157.9 336.3h1.3v1.3h-1.3zM172.2 336.3h1.3v1.3h-1.3zM178.7 336.3h1.3v1.3h-1.3zM182.6 336.3h1.3v1.3h-1.3zM131.9 337.6h2.6v1.3h-2.6zM139.7 337.6h1.3v1.3h-1.3zM146.2 337.6h1.3v1.3h-1.3zM155.3 337.6h1.3v1.3h-1.3zM157.9 337.6h1.3v1.3h-1.3zM169.6 337.6h3.9v1.3h-3.9zM174.8 337.6h2.6v1.3h-2.6zM126.7 338.9h5.2v1.3h-5.2zM138.4 338.9h2.6v1.3h-2.6zM142.3 338.9h2.6v1.3h-2.6zM155.3 338.9h1.3v1.3h-1.3zM157.9 338.9h2.6v1.3h-2.6zM164.4 338.9h1.3v1.3h-1.3zM169.6 338.9h1.3v1.3h-1.3zM176.1 338.9h2.6v1.3h-2.6zM180.0 338.9h3.9v1.3h-3.9zM124.1 340.2h2.6v1.3h-2.6zM131.9 340.2h1.3v1.3h-1.3zM135.8 340.2h2.6v1.3h-2.6zM146.2 340.2h1.3v1.3h-1.3zM148.8 340.2h1.3v1.3h-1.3zM152.7 340.2h1.3v1.3h-1.3zM157.9 340.2h1.3v1.3h-1.3zM163.1 340.2h1.3v1.3h-1.3zM168.3 340.2h2.6v1.3h-2.6zM173.5 340.2h1.3v1.3h-1.3zM125.4 341.5h1.3v1.3h-1.3zM129.3 341.5h1.3v1.3h-1.3zM135.8 341.5h2.6v1.3h-2.6zM143.6 341.5h1.3v1.3h-1.3zM146.2 341.5h1.3v1.3h-1.3zM154.0 341.5h2.6v1.3h-2.6zM159.2 341.5h1.3v1.3h-1.3zM164.4 341.5h1.3v1.3h-1.3zM169.6 341.5h2.6v1.3h-2.6zM176.1 341.5h1.3v1.3h-1.3zM180.0 341.5h1.3v1.3h-1.3zM135.8 342.8h1.3v1.3h-1.3zM138.4 342.8h1.3v1.3h-1.3zM144.9 342.8h1.3v1.3h-1.3zM150.1 342.8h1.3v1.3h-1.3zM159.2 342.8h1.3v1.3h-1.3zM164.4 342.8h1.3v1.3h-1.3zM168.3 342.8h1.3v1.3h-1.3zM170.9 342.8h1.3v1.3h-1.3zM176.1 342.8h1.3v1.3h-1.3zM180.0 342.8h1.3v1.3h-1.3zM134.5 344.1h2.6v1.3h-2.6zM139.7 344.1h2.6v1.3h-2.6zM146.2 344.1h1.3v1.3h-1.3zM148.8 344.1h1.3v1.3h-1.3zM154.0 344.1h1.3v1.3h-1.3zM157.9 344.1h1.3v1.3h-1.3zM160.5 344.1h2.6v1.3h-2.6zM177.4 344.1h1.3v1.3h-1.3zM181.3 344.1h2.6v1.3h-2.6zM125.4 345.4h2.6v1.3h-2.6zM141.0 345.4h1.3v1.3h-1.3zM146.2 345.4h1.3v1.3h-1.3zM152.7 345.4h1.3v1.3h-1.3zM155.3 345.4h3.9v1.3h-3.9zM163.1 345.4h1.3v1.3h-1.3zM167.0 345.4h2.6v1.3h-2.6zM182.6 345.4h1.3v1.3h-1.3zM124.1 346.7h1.3v1.3h-1.3zM129.3 346.7h2.6v1.3h-2.6zM139.7 346.7h1.3v1.3h-1.3zM143.6 346.7h1.3v1.3h-1.3zM146.2 346.7h1.3v1.3h-1.3zM148.8 346.7h1.3v1.3h-1.3zM151.4 346.7h1.3v1.3h-1.3zM154.0 346.7h1.3v1.3h-1.3zM156.6 346.7h1.3v1.3h-1.3zM160.5 346.7h1.3v1.3h-1.3zM169.6 346.7h1.3v1.3h-1.3zM182.6 346.7h1.3v1.3h-1.3zM122.8 348.0h1.3v1.3h-1.3zM125.4 348.0h2.6v1.3h-2.6zM130.6 348.0h2.6v1.3h-2.6zM135.8 348.0h1.3v1.3h-1.3zM143.6 348.0h1.3v1.3h-1.3zM150.1 348.0h1.3v1.3h-1.3zM152.7 348.0h2.6v1.3h-2.6zM164.4 348.0h1.3v1.3h-1.3zM177.4 348.0h2.6v1.3h-2.6zM181.3 348.0h2.6v1.3h-2.6zM135.8 349.3h2.6v1.3h-2.6zM141.0 349.3h3.9v1.3h-3.9z" fill="#1aa5f0" />
<path d="M139.7 322.0h1.3v1.3h-1.3zM142.3 322.0h1.3v1.3h-1.3zM138.4 323.3h1.3v1.3h-1.3zM148.8 323.3h1.3v1.3h-1.3zM126.7 324.6h1.3v1.3h-1.3zM129.3 324.6h1.3v1.3h-1.3zM147.5 324.6h2.6v1.3h-2.6zM169.6 324.6h1.3v1.3h-1.3zM172.2 324.6h1.3v1.3h-1.3zM174.8 324.6h1.3v1.3h-1.3zM125.4 325.9h1.3v1.3h-1.3zM138.4 325.9h1.3v1.3h-1.3zM141.0 325.9h1.3v1.3h-1.3zM151.4 325.9h1.3v1.3h-1.3zM161.8 325.9h1.3v1.3h-1.3zM168.3 325.9h1.3v1.3h-1.3zM173.5 325.9h1.3v1.3h-1.3zM137.1 327.2h1.3v1.3h-1.3zM139.7 327.2h1.3v1.3h-1.3zM151.4 327.2h1.3v1.3h-1.3zM155.3 327.2h1.3v1.3h-1.3zM160.5 327.2h1.3v1.3h-1.3zM169.6 327.2h2.6v1.3h-2.6zM134.5 328.5h1.3v1.3h-1.3zM146.2 328.5h1.3v1.3h-1.3zM167.0 328.5h1.3v1.3h-1.3zM169.6 328.5h1.3v1.3h-1.3zM146.2 329.8h2.6v1.3h-2.6zM155.3 329.8h1.3v1.3h-1.3zM168.3 329.8h1.3v1.3h-1.3zM178.7 329.8h1.3v1.3h-1.3zM126.7 331.1h1.3v1.3h-1.3zM141.0 331.1h1.3v1.3h-1.3zM163.1 332.4h1.3v1.3h-1.3zM181.3 332.4h1.3v1.3h-1.3zM129.3 333.7h1.3v1.3h-1.3zM142.3 333.7h1.3v1.3h-1.3zM160.5 333.7h1.3v1.3h-1.3zM167.0 333.7h1.3v1.3h-1.3zM137.1 335.0h1.3v1.3h-1.3zM148.8 335.0h1.3v1.3h-1.3zM167.0 335.0h1.3v1.3h-1.3zM170.9 335.0h1.3v1.3h-1.3zM177.4 335.0h1.3v1.3h-1.3zM180.0 335.0h1.3v1.3h-1.3zM144.9 336.3h1.3v1.3h-1.3zM170.9 336.3h1.3v1.3h-1.3zM174.8 336.3h1.3v1.3h-1.3zM180.0 336.3h2.6v1.3h-2.6zM134.5 337.6h1.3v1.3h-1.3zM137.1 337.6h1.3v1.3h-1.3zM141.0 337.6h1.3v1.3h-1.3zM161.8 337.6h2.6v1.3h-2.6zM168.3 337.6h1.3v1.3h-1.3zM174.8 337.6h1.3v1.3h-1.3zM131.9 338.9h1.3v1.3h-1.3zM142.3 338.9h2.6v1.3h-2.6zM148.8 338.9h1.3v1.3h-1.3zM182.6 338.9h1.3v1.3h-1.3zM129.3 340.2h1.3v1.3h-1.3zM137.1 340.2h1.3v1.3h-1.3zM126.7 341.5h1.3v1.3h-1.3zM135.8 341.5h1.3v1.3h-1.3zM163.1 341.5h1.3v1.3h-1.3zM176.1 341.5h2.6v1.3h-2.6zM182.6 341.5h1.3v1.3h-1.3zM128.0 342.8h2.6v1.3h-2.6zM168.3 342.8h2.6v1.3h-2.6zM176.1 342.8h1.3v1.3h-1.3zM160.5 344.1h1.3v1.3h-1.3zM178.7 344.1h1.3v1.3h-1.3zM122.8 345.4h1.3v1.3h-1.3zM139.7 345.4h1.3v1.3h-1.3zM143.6 345.4h1.3v1.3h-1.3zM154.0 345.4h1.3v1.3h-1.3zM156.6 345.4h1.3v1.3h-1.3zM160.5 345.4h1.3v1.3h-1.3zM168.3 345.4h1.3v1.3h-1.3zM126.7 346.7h1.3v1.3h-1.3zM137.1 346.7h5.2v1.3h-5.2zM146.2 346.7h2.6v1.3h-2.6zM157.9 346.7h1.3v1.3h-1.3zM176.1 346.7h2.6v1.3h-2.6zM137.1 348.0h1.3v1.3h-1.3zM142.3 348.0h1.3v1.3h-1.3zM144.9 348.0h1.3v1.3h-1.3zM152.7 348.0h1.3v1.3h-1.3z" fill="#50eda0" />
<path d="M140.0 329.3h1.3v1.3h-1.3zM146.5 329.3h1.3v1.3h-1.3zM140.0 330.6h1.3v1.3h-1.3zM146.5 330.6h1.3v1.3h-1.3zM150.4 330.6h1.3v1.3h-1.3zM155.6 330.6h1.3v1.3h-1.3zM159.5 330.6h2.6v1.3h-2.6zM169.9 330.6h2.6v1.3h-2.6zM173.8 330.6h1.3v1.3h-1.3zM143.9 331.9h1.3v1.3h-1.3zM147.8 331.9h1.3v1.3h-1.3zM150.4 331.9h1.3v1.3h-1.3zM156.9 331.9h1.3v1.3h-1.3zM160.8 331.9h2.6v1.3h-2.6zM168.6 331.9h1.3v1.3h-1.3zM171.2 331.9h1.3v1.3h-1.3zM142.6 333.2h2.6v1.3h-2.6zM146.5 333.2h1.3v1.3h-1.3zM153.0 333.2h1.3v1.3h-1.3zM158.2 333.2h1.3v1.3h-1.3zM168.6 333.2h1.3v1.3h-1.3zM173.8 333.2h1.3v1.3h-1.3zM141.3 334.5h1.3v1.3h-1.3zM146.5 334.5h1.3v1.3h-1.3zM156.9 334.5h1.3v1.3h-1.3zM160.8 334.5h1.3v1.3h-1.3zM171.2 334.5h3.9v1.3h-3.9zM176.4 334.5h1.3v1.3h-1.3zM142.6 335.8h1.3v1.3h-1.3zM151.7 335.8h1.3v1.3h-1.3zM154.3 335.8h1.3v1.3h-1.3zM158.2 335.8h1.3v1.3h-1.3zM164.7 335.8h3.9v1.3h-3.9zM143.9 337.1h1.3v1.3h-1.3zM146.5 337.1h2.6v1.3h-2.6zM151.7 337.1h1.3v1.3h-1.3zM166.0 337.1h1.3v1.3h-1.3zM164.7 338.4h1.3v1.3h-1.3zM167.3 338.4h1.3v1.3h-1.3zM159.5 339.7h1.3v1.3h-1.3z" fill="#1464f0" />
<path d="M149.1 328.0h1.3v1.3h-1.3zM140.0 329.3h1.3v1.3h-1.3zM143.9 329.3h5.2v1.3h-5.2zM151.7 329.3h2.6v1.3h-2.6zM141.3 330.6h2.6v1.3h-2.6zM147.8 330.6h1.3v1.3h-1.3zM150.4 330.6h1.3v1.3h-1.3zM153.0 330.6h1.3v1.3h-1.3zM155.6 330.6h5.2v1.3h-5.2zM175.1 330.6h1.3v1.3h-1.3zM142.6 331.9h1.3v1.3h-1.3zM145.2 331.9h1.3v1.3h-1.3zM147.8 331.9h5.2v1.3h-5.2zM154.3 331.9h3.9v1.3h-3.9zM162.1 331.9h2.6v1.3h-2.6zM167.3 331.9h2.6v1.3h-2.6zM171.2 331.9h5.2v1.3h-5.2zM147.8 333.2h1.3v1.3h-1.3zM150.4 333.2h2.6v1.3h-2.6zM159.5 333.2h2.6v1.3h-2.6zM168.6 333.2h3.9v1.3h-3.9zM173.8 333.2h1.3v1.3h-1.3zM141.3 334.5h1.3v1.3h-1.3zM143.9 334.5h3.9v1.3h-3.9zM150.4 334.5h1.3v1.3h-1.3zM153.0 334.5h1.3v1.3h-1.3zM160.8 334.5h1.3v1.3h-1.3zM164.7 334.5h1.3v1.3h-1.3zM167.3 334.5h3.9v1.3h-3.9zM173.8 334.5h2.6v1.3h-2.6zM142.6 335.8h1.3v1.3h-1.3zM146.5 335.8h1.3v1.3h-1.3zM150.4 335.8h2.6v1.3h-2.6zM156.9 335.8h1.3v1.3h-1.3zM159.5 335.8h2.6v1.3h-2.6zM163.4 335.8h2.6v1.3h-2.6zM149.1 337.1h1.3v1.3h-1.3zM158.2 337.1h2.6v1.3h-2.6zM162.1 337.1h3.9v1.3h-3.9zM167.3 337.1h1.3v1.3h-1.3zM172.5 337.1h1.3v1.3h-1.3zM149.1 338.4h3.9v1.3h-3.9zM154.3 338.4h1.3v1.3h-1.3zM156.9 338.4h1.3v1.3h-1.3zM163.4 338.4h2.6v1.3h-2.6zM168.6 338.4h2.6v1.3h-2.6zM154.3 339.7h1.3v1.3h-1.3zM156.9 339.7h2.6v1.3h-2.6zM164.7 339.7h2.6v1.3h-2.6zM164.7 341.0h1.3v1.3h-1.3zM167.3 341.0h1.3v1.3h-1.3z" fill="#1aa5f0" />
<path d="M139.6 344.0h3.9v1.3h-3.9zM148.7 344.0h1.3v1.3h-1.3zM170.8 344.0h1.3v1.3h-1.3zM174.7 344.0h1.3v1.3h-1.3zM125.3 345.3h2.6v1.3h-2.6zM129.2 345.3h2.6v1.3h-2.6zM134.4 345.3h1.3v1.3h-1.3zM139.6 345.3h1.3v1.3h-1.3zM143.5 345.3h1.3v1.3h-1.3zM150.0 345.3h2.6v1.3h-2.6zM153.9 345.3h2.6v1.3h-2.6zM163.0 345.3h3.9v1.3h-3.9zM174.7 345.3h1.3v1.3h-1.3zM138.3 346.6h1.3v1.3h-1.3zM140.9 346.6h2.6v1.3h-2.6zM144.8 346.6h3.9v1.3h-3.9zM150.0 346.6h1.3v1.3h-1.3zM155.2 346.6h5.2v1.3h-5.2zM161.7 346.6h5.2v1.3h-5.2zM168.2 346.6h6.5v1.3h-6.5zM177.3 346.6h3.9v1.3h-3.9zM125.3 347.9h1.3v1.3h-1.3zM138.3 347.9h3.9v1.3h-3.9zM143.5 347.9h1.3v1.3h-1.3zM148.7 347.9h1.3v1.3h-1.3zM152.6 347.9h1.3v1.3h-1.3zM160.4 347.9h1.3v1.3h-1.3zM164.3 347.9h1.3v1.3h-1.3zM170.8 347.9h2.6v1.3h-2.6zM177.3 347.9h1.3v1.3h-1.3zM181.2 347.9h1.3v1.3h-1.3zM124.0 349.2h1.3v1.3h-1.3zM127.9 349.2h1.3v1.3h-1.3zM131.8 349.2h2.6v1.3h-2.6zM135.7 349.2h1.3v1.3h-1.3zM138.3 349.2h1.3v1.3h-1.3zM142.2 349.2h1.3v1.3h-1.3zM144.8 349.2h1.3v1.3h-1.3zM148.7 349.2h1.3v1.3h-1.3zM151.3 349.2h2.6v1.3h-2.6zM155.2 349.2h1.3v1.3h-1.3zM164.3 349.2h1.3v1.3h-1.3zM179.9 349.2h2.6v1.3h-2.6zM126.6 350.5h1.3v1.3h-1.3zM135.7 350.5h1.3v1.3h-1.3zM138.3 350.5h2.6v1.3h-2.6z" fill="#ffffff" />
<path d="M161.3 350.0h1.3v1.3h-1.3zM173.0 350.0h1.3v1.3h-1.3zM176.9 350.0h1.3v1.3h-1.3zM180.8 353.9h1.3v1.3h-1.3zM173.0 355.2h1.3v1.3h-1.3zM170.4 356.5h1.3v1.3h-1.3zM173.0 357.8h1.3v1.3h-1.3zM167.8 360.4h1.3v1.3h-1.3zM169.1 361.7h1.3v1.3h-1.3zM173.0 363.0h1.3v1.3h-1.3zM179.5 363.0h1.3v1.3h-1.3zM173.0 364.3h1.3v1.3h-1.3zM179.5 366.9h1.3v1.3h-1.3zM178.2 368.2h1.3v1.3h-1.3zM171.7 369.5h1.3v1.3h-1.3zM174.3 369.5h1.3v1.3h-1.3zM180.8 369.5h1.3v1.3h-1.3zM179.5 372.1h1.3v1.3h-1.3zM175.6 373.4h1.3v1.3h-1.3zM178.2 382.5h1.3v1.3h-1.3zM180.8 385.1h1.3v1.3h-1.3zM176.9 389.0h1.3v1.3h-1.3zM170.4 395.5h1.3v1.3h-1.3z" fill="#14f0f0" />
<path d="M179.5 353.9h1.3v1.3h-1.3zM167.8 355.2h1.3v1.3h-1.3zM173.0 355.2h1.3v1.3h-1.3zM176.9 359.1h1.3v1.3h-1.3zM171.7 361.7h1.3v1.3h-1.3zM183.4 361.7h1.3v1.3h-1.3zM182.1 363.0h1.3v1.3h-1.3zM176.9 365.6h1.3v1.3h-1.3zM179.5 381.2h2.6v1.3h-2.6zM174.3 382.5h1.3v1.3h-1.3zM173.0 389.0h1.3v1.3h-1.3zM171.7 391.6h1.3v1.3h-1.3z" fill="#1464f0" />
<path d="M190.5 358.0h1.3v1.3h-1.3zM187.9 359.3h2.6v1.3h-2.6zM185.3 360.6h1.3v1.3h-1.3zM189.2 360.6h2.6v1.3h-2.6zM185.3 361.9h3.9v1.3h-3.9zM190.5 361.9h1.3v1.3h-1.3zM185.3 363.2h6.5v1.3h-6.5zM186.6 364.5h6.5v1.3h-6.5zM186.6 365.8h1.3v1.3h-1.3zM191.8 365.8h1.3v1.3h-1.3zM189.2 367.1h2.6v1.3h-2.6zM185.3 368.4h1.3v1.3h-1.3zM189.2 368.4h3.9v1.3h-3.9zM185.3 369.7h2.6v1.3h-2.6zM189.2 369.7h1.3v1.3h-1.3zM185.3 371.0h2.6v1.3h-2.6zM189.2 371.0h3.9v1.3h-3.9zM184.0 372.3h2.6v1.3h-2.6zM190.5 372.3h1.3v1.3h-1.3zM185.3 373.6h2.6v1.3h-2.6zM189.2 373.6h1.3v1.3h-1.3zM184.0 374.9h3.9v1.3h-3.9zM189.2 374.9h2.6v1.3h-2.6zM184.0 376.2h6.5v1.3h-6.5zM184.0 377.5h6.5v1.3h-6.5zM186.6 378.8h1.3v1.3h-1.3zM189.2 378.8h1.3v1.3h-1.3zM185.3 380.1h1.3v1.3h-1.3zM185.3 381.4h1.3v1.3h-1.3z" fill="#a8e858" />
<path d="M151.2 261.6h1.6v1.6h-1.6zM132.0 263.2h1.6v1.6h-1.6zM164.0 263.2h1.6v1.6h-1.6zM135.2 264.8h1.6v1.6h-1.6zM143.2 264.8h3.2v1.6h-3.2zM149.6 264.8h3.2v1.6h-3.2zM162.4 264.8h1.6v1.6h-1.6zM146.4 266.4h1.6v1.6h-1.6zM167.2 266.4h1.6v1.6h-1.6zM160.8 269.6h1.6v1.6h-1.6zM119.2 271.2h1.6v1.6h-1.6zM136.8 271.2h1.6v1.6h-1.6zM149.6 271.2h1.6v1.6h-1.6zM122.4 272.8h1.6v1.6h-1.6zM132.0 272.8h1.6v1.6h-1.6zM168.8 272.8h1.6v1.6h-1.6zM178.4 272.8h1.6v1.6h-1.6zM125.6 274.4h1.6v1.6h-1.6zM167.2 274.4h1.6v1.6h-1.6zM128.8 276.0h1.6v1.6h-1.6zM146.4 276.0h1.6v1.6h-1.6zM149.6 276.0h1.6v1.6h-1.6zM170.4 276.0h1.6v1.6h-1.6zM152.8 277.6h1.6v1.6h-1.6zM165.6 279.2h1.6v1.6h-1.6zM156.0 280.8h1.6v1.6h-1.6zM180.0 280.8h1.6v1.6h-1.6zM159.2 282.4h1.6v1.6h-1.6zM178.4 282.4h3.2v1.6h-3.2zM117.6 284.0h1.6v1.6h-1.6zM122.4 284.0h1.6v1.6h-1.6zM128.8 284.0h1.6v1.6h-1.6zM130.4 285.6h1.6v1.6h-1.6zM144.8 285.6h1.6v1.6h-1.6zM180.0 285.6h1.6v1.6h-1.6zM152.8 287.2h1.6v1.6h-1.6zM160.8 287.2h1.6v1.6h-1.6zM116.0 288.8h1.6v1.6h-1.6zM154.4 288.8h1.6v1.6h-1.6zM159.2 288.8h1.6v1.6h-1.6zM132.0 290.4h1.6v1.6h-1.6zM159.2 290.4h1.6v1.6h-1.6zM133.6 292.0h1.6v1.6h-1.6zM176.8 292.0h1.6v1.6h-1.6zM122.4 293.6h1.6v1.6h-1.6zM143.2 293.6h1.6v1.6h-1.6zM149.6 293.6h1.6v1.6h-1.6zM160.8 293.6h1.6v1.6h-1.6zM130.4 298.4h1.6v1.6h-1.6zM117.6 300.0h1.6v1.6h-1.6zM162.4 300.0h1.6v1.6h-1.6zM132.0 301.6h1.6v1.6h-1.6zM170.4 301.6h1.6v1.6h-1.6zM173.6 301.6h1.6v1.6h-1.6zM136.8 303.2h3.2v1.6h-3.2zM136.8 306.4h1.6v1.6h-1.6zM144.8 306.4h1.6v1.6h-1.6zM125.6 308.0h1.6v1.6h-1.6zM138.4 308.0h1.6v1.6h-1.6zM141.6 308.0h1.6v1.6h-1.6zM149.6 308.0h1.6v1.6h-1.6zM162.4 309.6h1.6v1.6h-1.6zM124.0 311.2h1.6v1.6h-1.6zM152.8 311.2h1.6v1.6h-1.6zM162.4 311.2h1.6v1.6h-1.6zM143.2 312.8h1.6v1.6h-1.6zM133.6 314.4h1.6v1.6h-1.6zM132.0 316.0h1.6v1.6h-1.6zM140.0 316.0h1.6v1.6h-1.6zM149.6 316.0h1.6v1.6h-1.6zM178.4 316.0h1.6v1.6h-1.6zM132.0 319.2h1.6v1.6h-1.6zM170.4 320.8h1.6v1.6h-1.6zM180.0 320.8h1.6v1.6h-1.6zM146.4 322.4h1.6v1.6h-1.6zM173.6 322.4h1.6v1.6h-1.6zM165.6 324.0h1.6v1.6h-1.6zM176.8 327.2h1.6v1.6h-1.6z" fill="#50eda0" />
<path d="M133.6 261.6h1.6v1.6h-1.6zM156.0 263.2h1.6v1.6h-1.6zM165.6 263.2h1.6v1.6h-1.6zM162.4 264.8h1.6v1.6h-1.6zM154.4 268.0h1.6v1.6h-1.6zM160.8 268.0h1.6v1.6h-1.6zM122.4 269.6h1.6v1.6h-1.6zM151.2 269.6h1.6v1.6h-1.6zM133.6 272.8h1.6v1.6h-1.6zM162.4 272.8h3.2v1.6h-3.2zM173.6 272.8h1.6v1.6h-1.6zM124.0 274.4h1.6v1.6h-1.6zM176.8 274.4h1.6v1.6h-1.6zM119.2 276.0h1.6v1.6h-1.6zM125.6 276.0h3.2v1.6h-3.2zM146.4 276.0h1.6v1.6h-1.6zM178.4 276.0h1.6v1.6h-1.6zM143.2 277.6h1.6v1.6h-1.6zM128.8 279.2h1.6v1.6h-1.6zM127.2 280.8h1.6v1.6h-1.6zM132.0 280.8h1.6v1.6h-1.6zM172.0 282.4h1.6v1.6h-1.6zM176.8 282.4h1.6v1.6h-1.6zM130.4 284.0h1.6v1.6h-1.6zM135.2 285.6h1.6v1.6h-1.6zM151.2 285.6h1.6v1.6h-1.6zM160.8 285.6h1.6v1.6h-1.6zM165.6 285.6h1.6v1.6h-1.6zM116.0 287.2h1.6v1.6h-1.6zM122.4 288.8h1.6v1.6h-1.6zM130.4 288.8h1.6v1.6h-1.6zM154.4 288.8h3.2v1.6h-3.2zM170.4 288.8h1.6v1.6h-1.6zM148.0 290.4h1.6v1.6h-1.6zM120.8 292.0h1.6v1.6h-1.6zM135.2 292.0h1.6v1.6h-1.6zM162.4 292.0h1.6v1.6h-1.6zM168.8 292.0h1.6v1.6h-1.6zM119.2 293.6h1.6v1.6h-1.6zM124.0 293.6h1.6v1.6h-1.6zM144.8 293.6h1.6v1.6h-1.6zM176.8 293.6h3.2v1.6h-3.2zM157.6 295.2h1.6v1.6h-1.6zM140.0 296.8h1.6v1.6h-1.6zM159.2 296.8h1.6v1.6h-1.6zM130.4 298.4h1.6v1.6h-1.6zM140.0 298.4h1.6v1.6h-1.6zM167.2 298.4h1.6v1.6h-1.6zM146.4 300.0h1.6v1.6h-1.6zM143.2 301.6h1.6v1.6h-1.6zM148.0 301.6h1.6v1.6h-1.6zM165.6 301.6h1.6v1.6h-1.6zM176.8 301.6h1.6v1.6h-1.6zM138.4 303.2h1.6v1.6h-1.6zM157.6 303.2h1.6v1.6h-1.6zM133.6 304.8h1.6v1.6h-1.6zM159.2 304.8h1.6v1.6h-1.6zM172.0 304.8h1.6v1.6h-1.6zM135.2 306.4h1.6v1.6h-1.6zM165.6 306.4h1.6v1.6h-1.6zM133.6 308.0h1.6v1.6h-1.6zM146.4 308.0h1.6v1.6h-1.6zM152.8 308.0h1.6v1.6h-1.6zM168.8 308.0h1.6v1.6h-1.6zM130.4 309.6h1.6v1.6h-1.6zM127.2 311.2h1.6v1.6h-1.6zM133.6 311.2h1.6v1.6h-1.6zM138.4 311.2h1.6v1.6h-1.6zM143.2 312.8h1.6v1.6h-1.6zM156.0 312.8h1.6v1.6h-1.6zM159.2 312.8h1.6v1.6h-1.6zM146.4 314.4h1.6v1.6h-1.6zM156.0 314.4h1.6v1.6h-1.6zM160.8 317.6h1.6v1.6h-1.6zM164.0 317.6h1.6v1.6h-1.6zM136.8 319.2h1.6v1.6h-1.6zM144.8 320.8h1.6v1.6h-1.6zM159.2 320.8h1.6v1.6h-1.6zM167.2 320.8h1.6v1.6h-1.6zM172.0 320.8h1.6v1.6h-1.6zM165.6 322.4h1.6v1.6h-1.6zM172.0 324.0h1.6v1.6h-1.6zM180.0 327.2h1.6v1.6h-1.6z" fill="#f8f000" />
<path d="M160.8 260.0h1.6v1.6h-1.6zM156.0 261.6h1.6v1.6h-1.6zM159.2 261.6h1.6v1.6h-1.6zM128.8 264.8h1.6v1.6h-1.6zM149.6 264.8h1.6v1.6h-1.6zM159.2 264.8h1.6v1.6h-1.6zM122.4 266.4h1.6v1.6h-1.6zM144.8 266.4h1.6v1.6h-1.6zM136.8 268.0h1.6v1.6h-1.6zM141.6 268.0h1.6v1.6h-1.6zM148.0 271.2h1.6v1.6h-1.6zM175.2 271.2h1.6v1.6h-1.6zM175.2 272.8h3.2v1.6h-3.2zM125.6 274.4h1.6v1.6h-1.6zM140.0 274.4h1.6v1.6h-1.6zM146.4 274.4h1.6v1.6h-1.6zM149.6 274.4h1.6v1.6h-1.6zM152.8 274.4h1.6v1.6h-1.6zM172.0 274.4h1.6v1.6h-1.6zM128.8 276.0h1.6v1.6h-1.6zM154.4 276.0h1.6v1.6h-1.6zM132.0 277.6h1.6v1.6h-1.6zM162.4 277.6h1.6v1.6h-1.6zM173.6 277.6h1.6v1.6h-1.6zM148.0 279.2h1.6v1.6h-1.6zM160.8 279.2h1.6v1.6h-1.6zM175.2 279.2h1.6v1.6h-1.6zM151.2 280.8h1.6v1.6h-1.6zM160.8 280.8h1.6v1.6h-1.6zM178.4 280.8h3.2v1.6h-3.2zM119.2 282.4h1.6v1.6h-1.6zM140.0 285.6h1.6v1.6h-1.6zM143.2 285.6h1.6v1.6h-1.6zM175.2 285.6h1.6v1.6h-1.6zM122.4 287.2h1.6v1.6h-1.6zM141.6 287.2h1.6v1.6h-1.6zM157.6 287.2h1.6v1.6h-1.6zM172.0 288.8h1.6v1.6h-1.6zM175.2 290.4h1.6v1.6h-1.6zM117.6 292.0h1.6v1.6h-1.6zM165.6 292.0h3.2v1.6h-3.2zM173.6 292.0h1.6v1.6h-1.6zM178.4 293.6h1.6v1.6h-1.6zM128.8 295.2h1.6v1.6h-1.6zM124.0 296.8h1.6v1.6h-1.6zM143.2 296.8h1.6v1.6h-1.6zM176.8 296.8h1.6v1.6h-1.6zM146.4 298.4h1.6v1.6h-1.6zM152.8 298.4h1.6v1.6h-1.6zM159.2 298.4h1.6v1.6h-1.6zM140.0 300.0h1.6v1.6h-1.6zM154.4 300.0h1.6v1.6h-1.6zM173.6 301.6h1.6v1.6h-1.6zM140.0 303.2h1.6v1.6h-1.6zM167.2 303.2h1.6v1.6h-1.6zM154.4 304.8h1.6v1.6h-1.6zM157.6 304.8h3.2v1.6h-3.2zM170.4 304.8h1.6v1.6h-1.6zM122.4 306.4h1.6v1.6h-1.6zM128.8 306.4h1.6v1.6h-1.6zM154.4 306.4h1.6v1.6h-1.6zM160.8 306.4h1.6v1.6h-1.6zM122.4 308.0h1.6v1.6h-1.6zM127.2 308.0h1.6v1.6h-1.6zM151.2 308.0h1.6v1.6h-1.6zM157.6 308.0h1.6v1.6h-1.6zM165.6 308.0h1.6v1.6h-1.6zM168.8 308.0h1.6v1.6h-1.6zM172.0 308.0h1.6v1.6h-1.6zM127.2 309.6h1.6v1.6h-1.6zM178.4 309.6h1.6v1.6h-1.6zM140.0 311.2h1.6v1.6h-1.6zM127.2 312.8h1.6v1.6h-1.6zM135.2 312.8h1.6v1.6h-1.6zM180.0 314.4h1.6v1.6h-1.6zM173.6 316.0h1.6v1.6h-1.6zM176.8 316.0h1.6v1.6h-1.6zM133.6 317.6h1.6v1.6h-1.6zM143.2 317.6h1.6v1.6h-1.6zM157.6 317.6h1.6v1.6h-1.6zM180.0 317.6h1.6v1.6h-1.6zM152.8 319.2h1.6v1.6h-1.6zM136.8 320.8h1.6v1.6h-1.6zM178.4 325.6h1.6v1.6h-1.6z" fill="#a8e858" />
<polygon points="184.0,286.0 192.0,284.0 200.0,288.0 206.0,296.0 205.0,312.0 201.0,322.0 192.0,326.0 184.0,322.0 181.0,305.0" fill="#ffffff" />
<path d="M184.9 285.3h1.3v1.3h-1.3zM187.5 286.6h1.3v1.3h-1.3zM197.9 290.5h1.3v1.3h-1.3zM186.2 293.1h1.3v1.3h-1.3zM190.1 294.4h2.6v1.3h-2.6zM203.1 295.7h1.3v1.3h-1.3zM190.1 297.0h1.3v1.3h-1.3zM199.2 299.6h1.3v1.3h-1.3zM181.0 300.9h1.3v1.3h-1.3zM188.8 300.9h1.3v1.3h-1.3zM204.4 300.9h1.3v1.3h-1.3zM196.6 302.2h1.3v1.3h-1.3zM181.0 304.8h2.6v1.3h-2.6zM195.3 304.8h1.3v1.3h-1.3zM195.3 306.1h1.3v1.3h-1.3zM195.3 307.4h1.3v1.3h-1.3zM190.1 308.7h1.3v1.3h-1.3zM194.0 310.0h1.3v1.3h-1.3zM200.5 310.0h1.3v1.3h-1.3zM192.7 311.3h1.3v1.3h-1.3zM186.2 312.6h1.3v1.3h-1.3zM183.6 313.9h2.6v1.3h-2.6zM188.8 316.5h1.3v1.3h-1.3zM199.2 319.1h1.3v1.3h-1.3zM184.9 320.4h1.3v1.3h-1.3zM188.8 321.7h1.3v1.3h-1.3zM197.9 321.7h1.3v1.3h-1.3zM187.5 323.0h1.3v1.3h-1.3z" fill="#14f0f0" />
<path d="M187.5 285.3h1.3v1.3h-1.3zM184.9 289.2h1.3v1.3h-1.3zM200.5 291.8h2.6v1.3h-2.6zM183.6 293.1h1.3v1.3h-1.3zM199.2 293.1h1.3v1.3h-1.3zM183.6 294.4h1.3v1.3h-1.3zM183.6 295.7h1.3v1.3h-1.3zM190.1 295.7h1.3v1.3h-1.3zM196.6 298.3h1.3v1.3h-1.3zM204.4 298.3h1.3v1.3h-1.3zM184.9 300.9h1.3v1.3h-1.3zM191.4 302.2h1.3v1.3h-1.3zM194.0 302.2h1.3v1.3h-1.3zM203.1 302.2h1.3v1.3h-1.3zM184.9 303.5h1.3v1.3h-1.3zM184.9 304.8h1.3v1.3h-1.3zM183.6 308.7h2.6v1.3h-2.6zM191.4 311.3h1.3v1.3h-1.3zM196.6 315.2h1.3v1.3h-1.3zM201.8 316.5h1.3v1.3h-1.3zM199.2 319.1h1.3v1.3h-1.3zM191.4 324.3h1.3v1.3h-1.3z" fill="#1464f0" />
<path d="M184.9 285.3h1.3v1.3h-1.3zM187.5 285.3h1.3v1.3h-1.3zM187.5 286.6h1.3v1.3h-1.3zM187.5 287.9h1.3v1.3h-1.3zM186.2 293.1h2.6v1.3h-2.6zM195.3 293.1h1.3v1.3h-1.3zM200.5 302.2h1.3v1.3h-1.3zM199.2 304.8h1.3v1.3h-1.3zM186.2 306.1h1.3v1.3h-1.3zM200.5 306.1h1.3v1.3h-1.3zM199.2 307.4h1.3v1.3h-1.3zM186.2 313.9h2.6v1.3h-2.6zM199.2 313.9h1.3v1.3h-1.3zM184.9 315.2h1.3v1.3h-1.3zM184.9 319.1h1.3v1.3h-1.3zM196.6 319.1h1.3v1.3h-1.3zM184.9 320.4h1.3v1.3h-1.3zM191.4 324.3h1.3v1.3h-1.3z" fill="#a8e858" />
<path d="M176.3 289.3h5.2v1.3h-5.2zM181.5 290.6h1.3v1.3h-1.3zM176.3 291.9h1.3v1.3h-1.3zM177.6 293.2h1.3v1.3h-1.3zM180.2 293.2h1.3v1.3h-1.3zM176.3 294.5h2.6v1.3h-2.6zM175.0 295.8h1.3v1.3h-1.3zM177.6 295.8h3.9v1.3h-3.9zM175.0 297.1h2.6v1.3h-2.6zM178.9 297.1h1.3v1.3h-1.3zM181.5 297.1h2.6v1.3h-2.6zM176.3 298.4h1.3v1.3h-1.3zM181.5 298.4h1.3v1.3h-1.3zM176.3 299.7h1.3v1.3h-1.3zM178.9 299.7h1.3v1.3h-1.3zM177.6 301.0h1.3v1.3h-1.3zM175.0 302.3h1.3v1.3h-1.3zM177.6 302.3h3.9v1.3h-3.9zM177.6 303.6h1.3v1.3h-1.3zM175.0 304.9h3.9v1.3h-3.9zM182.8 304.9h1.3v1.3h-1.3zM182.8 306.2h1.3v1.3h-1.3zM176.3 307.5h1.3v1.3h-1.3zM176.3 310.1h2.6v1.3h-2.6zM177.6 311.4h1.3v1.3h-1.3zM176.3 312.7h1.3v1.3h-1.3zM178.9 312.7h1.3v1.3h-1.3zM181.5 312.7h1.3v1.3h-1.3zM177.6 314.0h2.6v1.3h-2.6zM180.2 315.3h2.6v1.3h-2.6zM181.5 316.6h1.3v1.3h-1.3z" fill="#14f0f0" />
<path d="M181.5 289.3h1.3v1.3h-1.3zM177.6 290.6h1.3v1.3h-1.3zM177.6 291.9h1.3v1.3h-1.3zM181.5 294.5h1.3v1.3h-1.3zM178.9 295.8h1.3v1.3h-1.3zM181.5 295.8h1.3v1.3h-1.3zM175.0 297.1h2.6v1.3h-2.6zM175.0 298.4h1.3v1.3h-1.3zM180.2 298.4h2.6v1.3h-2.6zM178.9 303.6h1.3v1.3h-1.3zM182.8 303.6h1.3v1.3h-1.3zM176.3 306.2h1.3v1.3h-1.3zM180.2 306.2h3.9v1.3h-3.9zM176.3 307.5h1.3v1.3h-1.3zM181.5 307.5h1.3v1.3h-1.3zM178.9 310.1h1.3v1.3h-1.3zM181.5 310.1h1.3v1.3h-1.3zM176.3 311.4h1.3v1.3h-1.3zM177.6 312.7h1.3v1.3h-1.3zM180.2 315.3h2.6v1.3h-2.6zM177.6 316.6h1.3v1.3h-1.3zM180.2 316.6h1.3v1.3h-1.3z" fill="#1464f0" />
<path d="M210.3 260.6h1.3v1.3h-1.3zM207.7 261.9h1.3v1.3h-1.3zM209.0 263.2h2.6v1.3h-2.6zM201.2 264.5h1.3v1.3h-1.3zM205.1 264.5h1.3v1.3h-1.3zM199.9 268.4h1.3v1.3h-1.3zM206.4 269.7h1.3v1.3h-1.3zM206.4 272.3h1.3v1.3h-1.3zM202.5 277.5h1.3v1.3h-1.3z" fill="#1464f0" />
<polygon points="214.0,287.0 219.5,288.2 211.3,298.5 207.2,306.7 206.2,315.0 209.3,325.2 211.3,329.3 210.4,340.0 209.7,344.1 205.6,349.6 201.5,352.3 197.4,355.0 193.3,359.2 191.9,363.3 190.5,360.0 194.0,354.0 199.0,348.0 202.0,340.0 203.0,325.0 201.0,312.0 203.5,302.0 209.0,293.0" fill="#f8f000" />
<polyline points="218.0,288.5 213.0,295.0 209.5,301.0 207.5,307.0" fill="none" stroke="#ff9a14" stroke-width="1.6" stroke-linejoin="round" stroke-linecap="round" />
<polygon points="115.5,266.0 120.0,263.0 131.9,262.8 133.0,266.5 125.0,269.5 117.0,270.0" fill="#3ef0d0" />
<polygon points="100.0,259.0 109.0,260.0 113.0,262.0 108.0,264.0 104.0,266.0 100.0,265.0" fill="#ff9a14" />
<polygon points="102.7,268.0 108.0,266.4 114.6,268.0 114.6,273.7 109.1,275.0 103.6,273.7" fill="#ff9a14" />
<path d="M193.9 249.3h2.6v1.3h-2.6zM197.8 249.3h1.3v1.3h-1.3zM200.4 249.3h3.9v1.3h-3.9zM191.3 250.6h1.3v1.3h-1.3zM197.8 250.6h1.3v1.3h-1.3zM204.3 250.6h1.3v1.3h-1.3zM191.3 251.9h1.3v1.3h-1.3zM193.9 251.9h2.6v1.3h-2.6zM201.7 251.9h2.6v1.3h-2.6zM192.6 253.2h1.3v1.3h-1.3zM197.8 253.2h1.3v1.3h-1.3zM201.7 253.2h3.9v1.3h-3.9zM190.0 254.5h1.3v1.3h-1.3zM195.2 254.5h2.6v1.3h-2.6zM201.7 254.5h1.3v1.3h-1.3zM205.6 254.5h2.6v1.3h-2.6zM196.5 255.8h1.3v1.3h-1.3zM204.3 255.8h1.3v1.3h-1.3zM208.2 255.8h1.3v1.3h-1.3zM190.0 257.1h1.3v1.3h-1.3zM195.2 257.1h1.3v1.3h-1.3zM201.7 257.1h3.9v1.3h-3.9zM206.9 257.1h1.3v1.3h-1.3zM209.5 257.1h1.3v1.3h-1.3zM193.9 258.4h1.3v1.3h-1.3zM199.1 258.4h3.9v1.3h-3.9zM205.6 258.4h2.6v1.3h-2.6zM209.5 258.4h1.3v1.3h-1.3zM193.9 259.7h3.9v1.3h-3.9zM199.1 259.7h2.6v1.3h-2.6zM203.0 259.7h2.6v1.3h-2.6zM206.9 259.7h1.3v1.3h-1.3zM193.9 261.0h1.3v1.3h-1.3zM197.8 261.0h1.3v1.3h-1.3zM209.5 261.0h1.3v1.3h-1.3zM205.6 262.3h3.9v1.3h-3.9zM191.3 263.6h1.3v1.3h-1.3zM193.9 263.6h1.3v1.3h-1.3zM197.8 263.6h2.6v1.3h-2.6zM201.7 263.6h1.3v1.3h-1.3zM204.3 263.6h1.3v1.3h-1.3zM208.2 263.6h1.3v1.3h-1.3zM193.9 266.2h3.9v1.3h-3.9zM199.1 266.2h1.3v1.3h-1.3zM203.0 266.2h2.6v1.3h-2.6zM206.9 266.2h1.3v1.3h-1.3zM195.2 267.5h3.9v1.3h-3.9zM197.8 268.8h1.3v1.3h-1.3zM200.4 268.8h3.9v1.3h-3.9zM199.1 270.1h1.3v1.3h-1.3z" fill="#14f0f0" />
<path d="M192.6 249.3h2.6v1.3h-2.6zM199.1 250.6h1.3v1.3h-1.3zM193.9 251.9h3.9v1.3h-3.9zM201.7 251.9h1.3v1.3h-1.3zM190.0 253.2h1.3v1.3h-1.3zM199.1 253.2h3.9v1.3h-3.9zM190.0 254.5h1.3v1.3h-1.3zM192.6 254.5h1.3v1.3h-1.3zM199.1 254.5h1.3v1.3h-1.3zM201.7 254.5h1.3v1.3h-1.3zM192.6 255.8h1.3v1.3h-1.3zM200.4 255.8h1.3v1.3h-1.3zM203.0 257.1h2.6v1.3h-2.6zM206.9 257.1h1.3v1.3h-1.3zM191.3 258.4h1.3v1.3h-1.3zM196.5 258.4h2.6v1.3h-2.6zM201.7 258.4h1.3v1.3h-1.3zM206.9 258.4h2.6v1.3h-2.6zM191.3 259.7h1.3v1.3h-1.3zM193.9 259.7h1.3v1.3h-1.3zM197.8 259.7h1.3v1.3h-1.3zM193.9 261.0h1.3v1.3h-1.3zM199.1 261.0h1.3v1.3h-1.3zM201.7 261.0h1.3v1.3h-1.3zM204.3 261.0h1.3v1.3h-1.3zM208.2 261.0h1.3v1.3h-1.3zM192.6 262.3h2.6v1.3h-2.6zM200.4 262.3h1.3v1.3h-1.3zM204.3 262.3h1.3v1.3h-1.3zM206.9 262.3h1.3v1.3h-1.3zM191.3 264.9h1.3v1.3h-1.3zM193.9 264.9h1.3v1.3h-1.3zM196.5 264.9h1.3v1.3h-1.3zM203.0 264.9h2.6v1.3h-2.6zM197.8 266.2h1.3v1.3h-1.3zM200.4 266.2h1.3v1.3h-1.3zM204.3 266.2h1.3v1.3h-1.3zM196.5 267.5h1.3v1.3h-1.3zM205.6 267.5h1.3v1.3h-1.3z" fill="#1aa5f0" />
<path d="M192.6 249.3h1.3v1.3h-1.3zM200.4 250.6h1.3v1.3h-1.3zM197.8 251.9h1.3v1.3h-1.3zM200.4 253.2h2.6v1.3h-2.6zM195.2 255.8h1.3v1.3h-1.3zM193.9 258.4h1.3v1.3h-1.3zM200.4 258.4h2.6v1.3h-2.6zM209.5 258.4h1.3v1.3h-1.3zM196.5 259.7h1.3v1.3h-1.3zM205.6 259.7h2.6v1.3h-2.6zM193.9 261.0h1.3v1.3h-1.3zM196.5 262.3h1.3v1.3h-1.3zM204.3 262.3h1.3v1.3h-1.3zM200.4 263.6h3.9v1.3h-3.9zM205.6 263.6h1.3v1.3h-1.3zM199.1 264.9h1.3v1.3h-1.3zM193.9 266.2h1.3v1.3h-1.3zM197.8 266.2h1.3v1.3h-1.3zM204.3 266.2h1.3v1.3h-1.3zM200.4 268.8h2.6v1.3h-2.6z" fill="#1464f0" />
<path d="M190.2 254.0h1.3v1.3h-1.3zM187.6 255.3h1.3v1.3h-1.3zM190.2 255.3h1.3v1.3h-1.3zM186.3 256.6h1.3v1.3h-1.3zM190.2 256.6h1.3v1.3h-1.3zM185.0 257.9h1.3v1.3h-1.3zM187.6 257.9h1.3v1.3h-1.3zM187.6 259.2h1.3v1.3h-1.3zM190.2 260.5h1.3v1.3h-1.3zM187.6 261.8h1.3v1.3h-1.3zM191.5 261.8h1.3v1.3h-1.3zM188.9 263.1h1.3v1.3h-1.3zM187.6 264.4h1.3v1.3h-1.3zM191.5 264.4h1.3v1.3h-1.3zM190.2 265.7h1.3v1.3h-1.3zM188.9 267.0h1.3v1.3h-1.3z" fill="#ff9a14" />
<path d="M171.3 256.0h3.9v1.3h-3.9zM171.3 258.6h1.3v1.3h-1.3zM175.2 258.6h1.3v1.3h-1.3zM175.2 259.9h2.6v1.3h-2.6zM170.0 261.2h1.3v1.3h-1.3zM176.5 261.2h1.3v1.3h-1.3zM173.9 262.5h1.3v1.3h-1.3zM171.3 263.8h1.3v1.3h-1.3zM177.8 263.8h1.3v1.3h-1.3zM180.4 263.8h1.3v1.3h-1.3zM172.6 265.1h1.3v1.3h-1.3zM175.2 265.1h2.6v1.3h-2.6zM171.3 266.4h2.6v1.3h-2.6zM179.1 266.4h1.3v1.3h-1.3zM173.9 267.7h1.3v1.3h-1.3zM177.8 267.7h1.3v1.3h-1.3zM175.2 269.0h1.3v1.3h-1.3z" fill="#ff9a14" />
<polygon points="236.8,334.6 240.5,338.3 239.8,347.2 237.5,354.6 233.1,366.4 227.2,378.3 222.8,382.7 218.3,379.7 216.8,372.3 219.8,362.0 221.3,351.6 224.2,348.7 228.7,345.7 233.1,342.8 235.3,336.8" fill="#ffffff" />
<polygon points="221.3,351.6 223.0,351.0 221.5,358.0 220.0,366.0 219.0,374.0 218.5,378.0 216.8,372.3 219.8,362.0" fill="#f8f000" />
<path d="M225.2 346.0h1.2v1.2h-1.2zM227.6 346.0h2.4v1.2h-2.4zM224.0 347.2h1.2v1.2h-1.2zM227.6 347.2h2.4v1.2h-2.4zM222.8 348.4h1.2v1.2h-1.2zM225.2 348.4h2.4v1.2h-2.4zM228.8 348.4h1.2v1.2h-1.2zM224.0 349.6h1.2v1.2h-1.2zM226.4 349.6h2.4v1.2h-2.4zM225.2 350.8h2.4v1.2h-2.4zM222.8 352.0h3.6v1.2h-3.6z" fill="#ff9a14" />
<path d="M226.7 354.2h1.2v1.2h-1.2zM225.5 356.6h2.4v1.2h-2.4zM229.1 356.6h1.2v1.2h-1.2zM225.5 357.8h3.6v1.2h-3.6zM226.7 359.0h1.2v1.2h-1.2zM225.5 360.2h1.2v1.2h-1.2zM227.9 362.6h2.4v1.2h-2.4zM225.5 363.8h3.6v1.2h-3.6zM225.5 365.0h1.2v1.2h-1.2zM229.1 366.2h1.2v1.2h-1.2zM226.7 367.4h2.4v1.2h-2.4zM227.9 368.6h1.2v1.2h-1.2zM225.5 371.0h1.2v1.2h-1.2zM225.5 372.2h1.2v1.2h-1.2zM225.5 373.4h1.2v1.2h-1.2zM226.7 374.6h1.2v1.2h-1.2zM226.7 375.8h1.2v1.2h-1.2z" fill="#14f0f0" />
<path d="M226.0 359.6h1.2v1.2h-1.2zM226.0 360.8h2.4v1.2h-2.4zM227.2 364.4h1.2v1.2h-1.2zM227.2 365.6h1.2v1.2h-1.2zM227.2 366.8h2.4v1.2h-2.4zM227.2 368.0h1.2v1.2h-1.2z" fill="#1464f0" />
<path d="M236.3 334.6h1.3v1.3h-1.3zM235.0 338.5h1.3v1.3h-1.3zM238.9 342.4h1.3v1.3h-1.3zM229.8 346.3h1.3v1.3h-1.3zM228.5 350.2h1.3v1.3h-1.3zM237.6 351.5h1.3v1.3h-1.3zM231.1 354.1h1.3v1.3h-1.3zM236.3 354.1h1.3v1.3h-1.3zM233.7 358.0h1.3v1.3h-1.3zM222.0 364.5h1.3v1.3h-1.3zM225.9 367.1h1.3v1.3h-1.3zM219.4 374.9h1.3v1.3h-1.3zM225.9 374.9h1.3v1.3h-1.3zM225.9 376.2h1.3v1.3h-1.3zM219.4 378.8h1.3v1.3h-1.3zM222.0 381.4h1.3v1.3h-1.3z" fill="#1aa5f0" />
<polyline points="236.8,334.6 240.5,338.3 239.8,347.2 237.5,354.6 233.1,366.4 227.2,378.3 222.8,382.7 218.3,379.7 216.8,372.3 219.8,362.0 221.3,351.6 224.2,348.7 228.7,345.7 233.1,342.8 235.3,336.8 236.8,334.6" fill="none" stroke="#8c8c8c" stroke-width="0.8" stroke-linejoin="round" stroke-linecap="round" transform="translate(-0.8,1.3)"/>
<polyline points="236.8,334.6 240.5,338.3 239.8,347.2 237.5,354.6 233.1,366.4 227.2,378.3 222.8,382.7 218.3,379.7 216.8,372.3 219.8,362.0 221.3,351.6 224.2,348.7 228.7,345.7 233.1,342.8 235.3,336.8 236.8,334.6" fill="none" stroke="#151515" stroke-width="0.9" stroke-linejoin="round" stroke-linecap="round" />
<polyline points="36.1,233.5 33.1,238.5 34.1,244.5 36.1,247.5 38.1,252.5 44.1,260.5 50.1,266.5 56.1,272.5 63.1,275.5 72.1,274.5 80.1,273.5 88.1,270.5 94.1,269.5 99.1,271.5 102.1,276.5 106.1,277.5 112.1,279.5 115.5,281.5 113.7,288.8 112.8,294.3 115.5,301.5 121.0,310.7 124.6,318.0 127.4,328.9 126.5,336.2 123.7,341.7 121.9,349.0 121.9,354.5 123.7,361.5 126.1,366.5 129.3,371.5 129.3,379.1 131.2,389.3 134.4,395.7 136.9,402.0 138.2,408.4 139.5,413.5 143.3,416.0 148.4,414.1 156.0,413.5 163.6,412.2 170.0,408.4 175.1,402.0 178.9,397.0 181.5,391.9 183.4,386.8 184.8,383.9 188.3,381.2 191.0,377.1 191.7,371.6 191.0,364.8 192.4,360.7 196.5,356.5 200.6,353.8 204.7,351.1 208.8,345.6 209.5,341.5 210.4,330.8 208.4,326.7 205.3,316.5 206.3,308.2 210.4,300.0 218.6,289.7 223.7,285.3 229.1,279.8 234.7,272.5 238.3,265.2 241.1,257.9 242.9,251.5 241.1,249.7" fill="none" stroke="#8c8c8c" stroke-width="0.9" stroke-linejoin="round" stroke-linecap="round" /><polyline points="37.0,232.0 34.0,237.0 35.0,243.0 37.0,246.0 39.0,251.0 45.0,259.0 51.0,265.0 57.0,271.0 64.0,274.0 73.0,273.0 81.0,272.0 89.0,269.0 95.0,268.0 100.0,270.0 103.0,275.0 107.0,276.0 113.0,278.0 116.4,280.0 114.6,287.3 113.7,292.8 116.4,300.0 121.9,309.2 125.5,316.5 128.3,327.4 127.4,334.7 124.6,340.2 122.8,347.5 122.8,353.0 124.6,360.0 127.0,365.0 130.2,370.0 130.2,377.6 132.1,387.8 135.3,394.2 137.8,400.5 139.1,406.9 140.4,412.0 144.2,414.5 149.3,412.6 156.9,412.0 164.5,410.7 170.9,406.9 176.0,400.5 179.8,395.5 182.4,390.4 184.3,385.3 185.7,382.4 189.2,379.7 191.9,375.6 192.6,370.1 191.9,363.3 193.3,359.2 197.4,355.0 201.5,352.3 205.6,349.6 209.7,344.1 210.4,340.0 211.3,329.3 209.3,325.2 206.2,315.0 207.2,306.7 211.3,298.5 219.5,288.2 224.6,283.8 230.0,278.3 235.6,271.0 239.2,263.7 242.0,256.4 243.8,250.0 242.0,248.2" fill="none" stroke="#151515" stroke-width="1.0" stroke-linejoin="round" stroke-linecap="round" />
<polygon points="183.6,291.0 187.0,289.6 191.8,291.5 191.0,297.5 187.0,299.5 184.0,297.0" fill="#fff" stroke="#000" stroke-width="0.8"/>
<polyline points="176.4,302.6 179.5,315.0 182.6,321.0" fill="none" stroke="#000" stroke-width="1.2" stroke-linejoin="round" stroke-linecap="round" />
<polyline points="190.8,327.2 192.0,334.0 192.9,341.6" fill="none" stroke="#000" stroke-width="1.2" stroke-linejoin="round" stroke-linecap="round" />
<polyline points="205.5,231.8 210.0,236.4 214.6,241.0 218.3,245.5 221.0,249.0 220.0,251.9 224.6,253.7 230.0,251.9 235.6,250.0 242.0,248.2" fill="none" stroke="#000" stroke-width="0.8" stroke-linejoin="round" stroke-linecap="round" />
<polyline points="216.4,231.8 217.4,238.2 218.3,245.5" fill="none" stroke="#000" stroke-width="0.8" stroke-linejoin="round" stroke-linecap="round" />
<polyline points="219.2,244.6 230.0,241.9 239.2,237.3 246.5,231.8" fill="none" stroke="#000" stroke-width="0.8" stroke-linejoin="round" stroke-linecap="round" />
<text x="29.8" y="307.5" class="lab" style="font-size:16.5px">C</text>
<rect x="248.5" y="239.80" width="19.6" height="20.1" fill="#ff5a0a"/>
<rect x="248.5" y="259.82" width="19.6" height="20.1" fill="#ff9a14"/>
<rect x="248.5" y="279.84" width="19.6" height="20.1" fill="#f8f000"/>
<rect x="248.5" y="299.86" width="19.6" height="20.1" fill="#a8e858"/>
<rect x="248.5" y="319.88" width="19.6" height="20.1" fill="#50eda0"/>
<rect x="248.5" y="339.90" width="19.6" height="20.1" fill="#14f0f0"/>
<rect x="248.5" y="359.92" width="19.6" height="20.1" fill="#1aa5f0"/>
<rect x="248.5" y="379.94" width="19.6" height="20.1" fill="#1464f0"/>
<rect x="248.5" y="399.96" width="19.6" height="20.1" fill="#0a14f0"/>
<rect x="248.5" y="239.8" width="19.6" height="180.2" fill="none" stroke="#333" stroke-width="0.5"/>
<text x="270.2" y="256.4" class="tk">34</text>
<text x="270.2" y="276.2" class="tk">32</text>
<text x="270.2" y="294.9" class="tk">30</text>
<text x="270.2" y="316.1" class="tk">28</text>
<text x="270.2" y="336.9" class="tk">26</text>
<text x="270.2" y="356.4" class="tk">24</text>
<text x="270.2" y="375.9" class="tk">22</text>
<text x="270.2" y="395.2" class="tk">20</text>
<text x="270.2" y="412.8" class="tk">18</text>
<polygon points="289.0,228.0 297.0,231.0 305.0,235.0 311.0,237.0 315.0,239.0 321.0,243.0 329.0,245.0 335.0,247.0 337.0,242.0 343.0,239.0 347.0,244.0 353.0,247.0 359.0,249.0 365.0,248.0 369.0,246.0 373.0,244.0 380.0,244.0 390.0,244.0 400.0,242.0 410.0,242.0 420.0,246.0 428.0,252.0 434.0,260.0 438.0,268.0 440.0,274.0 436.0,285.0 438.0,300.0 436.0,315.0 436.3,338.2 426.2,330.5 416.0,328.0 405.8,330.5 400.7,320.4 398.2,325.4 385.4,328.0 375.3,330.5 372.7,333.1 374.0,322.9 376.5,312.7 377.0,300.0 373.0,295.0 367.0,287.0 365.0,279.0 366.0,273.0 366.0,263.0 363.0,260.0 357.0,259.0 354.0,254.0 349.0,252.0 341.0,254.0 333.0,257.0 325.0,257.0 315.0,259.0 305.0,252.0 299.0,245.0 293.0,237.0" fill="#1a80f2" />
<polygon points="289.0,228.0 297.0,231.0 305.0,235.0 309.0,241.0 311.0,248.0 313.0,256.0 305.0,252.0 299.0,245.0 293.0,237.0" fill="#1ef0f8" />
<polygon points="356.0,248.5 368.0,247.0 374.0,249.0 376.0,253.0 370.0,256.0 368.0,262.0 372.0,272.0 378.0,280.0 382.0,288.0 380.0,296.0 375.5,296.0 371.4,289.0 367.0,287.0 365.0,279.0 366.0,273.0 366.0,263.0 364.6,260.5 357.0,259.5" fill="#1ef0f8" />
<polygon points="369.0,255.0 376.0,252.5 382.0,256.0 383.0,268.0 378.0,272.0 372.0,268.0 369.0,261.0" fill="#1a80f2" />
<polygon points="384.0,262.0 396.0,260.0 406.0,255.0 410.0,256.0 420.0,260.0 426.0,266.0 424.0,274.0 420.0,282.0 412.0,288.0 404.0,290.0 394.0,288.0 388.0,284.0 384.0,278.0 382.0,270.0" fill="#1ef0f8" />
<polygon points="389.0,290.0 393.0,291.0 393.0,302.0 390.0,300.0" fill="#1ef0f8" />
<path d="M365.5 266.9h2.6v1.3h-2.6zM369.4 266.9h1.3v1.3h-1.3zM365.5 268.2h1.3v1.3h-1.3zM368.1 268.2h1.3v1.3h-1.3zM366.8 270.8h1.3v1.3h-1.3zM369.4 270.8h1.3v1.3h-1.3zM366.8 274.7h2.6v1.3h-2.6zM365.5 276.0h1.3v1.3h-1.3zM366.8 277.3h1.3v1.3h-1.3zM365.5 278.6h2.6v1.3h-2.6zM369.4 278.6h1.3v1.3h-1.3zM369.4 279.9h1.3v1.3h-1.3zM368.1 281.2h2.6v1.3h-2.6zM365.5 282.5h1.3v1.3h-1.3zM366.8 283.8h1.3v1.3h-1.3zM368.1 285.1h1.3v1.3h-1.3zM373.3 285.1h1.3v1.3h-1.3zM369.4 286.4h1.3v1.3h-1.3zM373.3 289.0h1.3v1.3h-1.3zM368.1 290.3h1.3v1.3h-1.3zM370.7 290.3h1.3v1.3h-1.3zM369.4 291.6h1.3v1.3h-1.3zM374.6 291.6h1.3v1.3h-1.3zM366.8 292.9h1.3v1.3h-1.3zM369.4 292.9h1.3v1.3h-1.3zM374.6 292.9h1.3v1.3h-1.3zM366.8 294.2h1.3v1.3h-1.3zM372.0 294.2h1.3v1.3h-1.3zM368.1 296.8h1.3v1.3h-1.3zM370.7 296.8h2.6v1.3h-2.6zM375.9 296.8h1.3v1.3h-1.3zM372.0 298.1h1.3v1.3h-1.3zM375.9 298.1h1.3v1.3h-1.3zM368.1 299.4h2.6v1.3h-2.6zM372.0 299.4h1.3v1.3h-1.3zM370.7 300.7h2.6v1.3h-2.6zM375.9 300.7h1.3v1.3h-1.3zM369.4 302.0h2.6v1.3h-2.6zM375.9 302.0h1.3v1.3h-1.3zM373.3 303.3h2.6v1.3h-2.6zM369.4 304.6h1.3v1.3h-1.3zM375.9 304.6h1.3v1.3h-1.3zM369.4 305.9h2.6v1.3h-2.6zM374.6 305.9h2.6v1.3h-2.6zM370.7 307.2h2.6v1.3h-2.6zM375.9 307.2h1.3v1.3h-1.3zM370.7 308.5h1.3v1.3h-1.3zM373.3 308.5h1.3v1.3h-1.3zM370.7 309.8h1.3v1.3h-1.3zM375.9 309.8h1.3v1.3h-1.3zM370.7 311.1h2.6v1.3h-2.6zM375.9 311.1h1.3v1.3h-1.3zM372.0 312.4h1.3v1.3h-1.3zM372.0 313.7h1.3v1.3h-1.3zM370.7 315.0h1.3v1.3h-1.3zM370.7 316.3h2.6v1.3h-2.6zM372.0 317.6h2.6v1.3h-2.6zM372.0 318.9h2.6v1.3h-2.6zM370.7 320.2h1.3v1.3h-1.3zM372.0 321.5h1.3v1.3h-1.3zM370.7 322.8h1.3v1.3h-1.3zM372.0 325.4h1.3v1.3h-1.3zM372.0 326.7h1.3v1.3h-1.3z" fill="#ffffff" />
<path d="M373.3 297.3h1.3v1.3h-1.3zM378.5 297.3h1.3v1.3h-1.3zM373.3 298.6h1.3v1.3h-1.3zM375.9 299.9h1.3v1.3h-1.3zM381.1 299.9h1.3v1.3h-1.3zM374.6 301.2h2.6v1.3h-2.6zM381.1 301.2h1.3v1.3h-1.3zM377.2 303.8h1.3v1.3h-1.3zM382.4 303.8h1.3v1.3h-1.3zM377.2 305.1h2.6v1.3h-2.6zM381.1 305.1h1.3v1.3h-1.3zM375.9 306.4h2.6v1.3h-2.6zM382.4 306.4h1.3v1.3h-1.3zM374.6 307.7h1.3v1.3h-1.3zM377.2 309.0h2.6v1.3h-2.6zM374.6 310.3h1.3v1.3h-1.3zM377.2 310.3h2.6v1.3h-2.6zM378.5 311.6h1.3v1.3h-1.3zM378.5 312.9h1.3v1.3h-1.3z" fill="#1ef0f8" />
<path d="M398.4 320.0h1.3v1.3h-1.3zM395.8 321.3h1.3v1.3h-1.3zM398.4 321.3h2.6v1.3h-2.6zM386.7 322.6h1.3v1.3h-1.3zM390.6 322.6h1.3v1.3h-1.3zM393.2 322.6h1.3v1.3h-1.3zM397.1 322.6h1.3v1.3h-1.3zM381.5 323.9h2.6v1.3h-2.6zM389.3 323.9h2.6v1.3h-2.6zM394.5 323.9h1.3v1.3h-1.3zM398.4 323.9h1.3v1.3h-1.3zM375.0 325.2h1.3v1.3h-1.3zM381.5 325.2h1.3v1.3h-1.3zM386.7 325.2h2.6v1.3h-2.6zM397.1 325.2h2.6v1.3h-2.6zM377.6 326.5h1.3v1.3h-1.3zM384.1 326.5h1.3v1.3h-1.3zM386.7 326.5h1.3v1.3h-1.3zM389.3 326.5h1.3v1.3h-1.3zM391.9 326.5h2.6v1.3h-2.6zM395.8 326.5h1.3v1.3h-1.3zM402.3 326.5h1.3v1.3h-1.3zM376.3 327.8h1.3v1.3h-1.3zM378.9 327.8h2.6v1.3h-2.6zM389.3 327.8h1.3v1.3h-1.3zM421.8 327.8h1.3v1.3h-1.3zM378.9 329.1h1.3v1.3h-1.3zM381.5 329.1h1.3v1.3h-1.3zM384.1 329.1h3.9v1.3h-3.9zM389.3 329.1h2.6v1.3h-2.6zM403.6 329.1h1.3v1.3h-1.3zM408.8 329.1h2.6v1.3h-2.6zM414.0 329.1h1.3v1.3h-1.3zM417.9 329.1h3.9v1.3h-3.9zM424.4 329.1h2.6v1.3h-2.6zM378.9 330.4h1.3v1.3h-1.3zM382.8 330.4h2.6v1.3h-2.6zM391.9 330.4h1.3v1.3h-1.3zM395.8 330.4h1.3v1.3h-1.3zM406.2 330.4h2.6v1.3h-2.6zM412.7 330.4h1.3v1.3h-1.3zM417.9 330.4h2.6v1.3h-2.6zM421.8 330.4h1.3v1.3h-1.3zM382.8 331.7h2.6v1.3h-2.6zM390.6 331.7h1.3v1.3h-1.3zM393.2 331.7h3.9v1.3h-3.9zM403.6 331.7h1.3v1.3h-1.3zM406.2 331.7h3.9v1.3h-3.9zM416.6 331.7h1.3v1.3h-1.3zM420.5 331.7h2.6v1.3h-2.6zM427.0 331.7h1.3v1.3h-1.3zM429.6 331.7h1.3v1.3h-1.3zM380.2 333.0h2.6v1.3h-2.6zM419.2 333.0h1.3v1.3h-1.3zM421.8 333.0h2.6v1.3h-2.6zM425.7 333.0h1.3v1.3h-1.3zM430.9 333.0h2.6v1.3h-2.6zM424.4 334.3h1.3v1.3h-1.3zM428.3 334.3h1.3v1.3h-1.3zM432.2 334.3h1.3v1.3h-1.3zM428.3 335.6h1.3v1.3h-1.3zM430.9 335.6h1.3v1.3h-1.3zM433.5 335.6h2.6v1.3h-2.6zM430.9 336.9h2.6v1.3h-2.6zM434.8 338.2h1.3v1.3h-1.3z" fill="#ffffff" />
<path d="M398.2 319.9h1.3v1.3h-1.3zM398.2 321.2h1.3v1.3h-1.3zM385.2 322.5h2.6v1.3h-2.6zM391.7 322.5h1.3v1.3h-1.3zM398.2 322.5h1.3v1.3h-1.3zM385.2 323.8h1.3v1.3h-1.3zM391.7 323.8h1.3v1.3h-1.3zM398.2 323.8h1.3v1.3h-1.3z" fill="#1ef0f8" />
<path d="M441.2 274.0h1.3v1.3h-1.3zM439.9 275.3h5.2v1.3h-5.2zM438.6 276.6h2.6v1.3h-2.6zM442.5 276.6h5.2v1.3h-5.2zM438.6 277.9h3.9v1.3h-3.9zM445.1 277.9h1.3v1.3h-1.3zM437.3 279.2h6.5v1.3h-6.5zM445.1 279.2h1.3v1.3h-1.3zM447.7 279.2h1.3v1.3h-1.3zM437.3 280.5h1.3v1.3h-1.3zM439.9 280.5h1.3v1.3h-1.3zM442.5 280.5h2.6v1.3h-2.6zM447.7 280.5h3.9v1.3h-3.9zM437.3 281.8h1.3v1.3h-1.3zM439.9 281.8h6.5v1.3h-6.5zM447.7 281.8h1.3v1.3h-1.3zM451.6 281.8h1.3v1.3h-1.3zM437.3 283.1h5.2v1.3h-5.2zM443.8 283.1h3.9v1.3h-3.9zM451.6 283.1h1.3v1.3h-1.3zM438.6 284.4h3.9v1.3h-3.9zM443.8 284.4h2.6v1.3h-2.6zM449.0 284.4h5.2v1.3h-5.2zM436.0 285.7h1.3v1.3h-1.3zM442.5 285.7h2.6v1.3h-2.6zM450.3 285.7h1.3v1.3h-1.3zM454.2 285.7h1.3v1.3h-1.3zM437.3 287.0h1.3v1.3h-1.3zM441.2 287.0h1.3v1.3h-1.3zM445.1 287.0h1.3v1.3h-1.3zM450.3 287.0h1.3v1.3h-1.3zM452.9 287.0h1.3v1.3h-1.3zM436.0 288.3h2.6v1.3h-2.6zM443.8 288.3h1.3v1.3h-1.3zM447.7 288.3h2.6v1.3h-2.6zM451.6 288.3h3.9v1.3h-3.9zM437.3 289.6h1.3v1.3h-1.3zM439.9 289.6h3.9v1.3h-3.9zM446.4 289.6h1.3v1.3h-1.3zM450.3 289.6h1.3v1.3h-1.3zM436.0 290.9h1.3v1.3h-1.3zM441.2 290.9h1.3v1.3h-1.3zM445.1 290.9h1.3v1.3h-1.3zM447.7 290.9h1.3v1.3h-1.3zM452.9 290.9h1.3v1.3h-1.3zM443.8 292.2h2.6v1.3h-2.6zM447.7 292.2h2.6v1.3h-2.6zM451.6 292.2h1.3v1.3h-1.3zM438.6 293.5h1.3v1.3h-1.3zM443.8 293.5h3.9v1.3h-3.9zM449.0 293.5h1.3v1.3h-1.3zM451.6 293.5h1.3v1.3h-1.3zM439.9 294.8h2.6v1.3h-2.6zM446.4 294.8h3.9v1.3h-3.9zM451.6 294.8h2.6v1.3h-2.6zM442.5 296.1h1.3v1.3h-1.3zM445.1 296.1h3.9v1.3h-3.9zM450.3 296.1h1.3v1.3h-1.3zM446.4 297.4h1.3v1.3h-1.3zM449.0 297.4h2.6v1.3h-2.6zM452.9 297.4h1.3v1.3h-1.3zM451.6 298.7h2.6v1.3h-2.6z" fill="#1a80f2" />
<path d="M436.6 293.3h2.6v1.3h-2.6zM439.2 294.6h1.3v1.3h-1.3zM437.9 295.9h2.6v1.3h-2.6zM441.8 295.9h1.3v1.3h-1.3zM437.9 297.2h10.4v1.3h-10.4zM437.9 298.5h3.9v1.3h-3.9zM444.4 298.5h5.2v1.3h-5.2zM437.9 299.8h5.2v1.3h-5.2zM444.4 299.8h3.9v1.3h-3.9zM452.2 299.8h2.6v1.3h-2.6zM437.9 301.1h1.3v1.3h-1.3zM440.5 301.1h6.5v1.3h-6.5zM448.3 301.1h2.6v1.3h-2.6zM452.2 301.1h2.6v1.3h-2.6zM439.2 302.4h1.3v1.3h-1.3zM443.1 302.4h1.3v1.3h-1.3zM445.7 302.4h7.8v1.3h-7.8zM437.9 303.7h2.6v1.3h-2.6zM441.8 303.7h2.6v1.3h-2.6zM445.7 303.7h1.3v1.3h-1.3zM448.3 303.7h6.5v1.3h-6.5zM436.6 305.0h2.6v1.3h-2.6zM440.5 305.0h6.5v1.3h-6.5zM448.3 305.0h6.5v1.3h-6.5zM436.6 306.3h3.9v1.3h-3.9zM441.8 306.3h1.3v1.3h-1.3zM444.4 306.3h3.9v1.3h-3.9zM449.6 306.3h2.6v1.3h-2.6zM453.5 306.3h1.3v1.3h-1.3zM436.6 307.6h3.9v1.3h-3.9zM441.8 307.6h1.3v1.3h-1.3zM444.4 307.6h1.3v1.3h-1.3zM447.0 307.6h7.8v1.3h-7.8zM436.6 308.9h9.1v1.3h-9.1zM448.3 308.9h7.8v1.3h-7.8zM436.6 310.2h5.2v1.3h-5.2zM443.1 310.2h1.3v1.3h-1.3zM445.7 310.2h2.6v1.3h-2.6zM449.6 310.2h1.3v1.3h-1.3zM452.2 310.2h3.9v1.3h-3.9zM437.9 311.5h6.5v1.3h-6.5zM445.7 311.5h10.4v1.3h-10.4zM436.6 312.8h3.9v1.3h-3.9zM441.8 312.8h2.6v1.3h-2.6zM445.7 312.8h1.3v1.3h-1.3zM448.3 312.8h9.1v1.3h-9.1zM436.6 314.1h2.6v1.3h-2.6zM441.8 314.1h2.6v1.3h-2.6zM447.0 314.1h10.4v1.3h-10.4zM439.2 315.4h6.5v1.3h-6.5zM448.3 315.4h1.3v1.3h-1.3zM452.2 315.4h2.6v1.3h-2.6zM456.1 315.4h1.3v1.3h-1.3zM436.6 316.7h7.8v1.3h-7.8zM445.7 316.7h5.2v1.3h-5.2zM453.5 316.7h2.6v1.3h-2.6zM436.6 318.0h6.5v1.3h-6.5zM444.4 318.0h1.3v1.3h-1.3zM447.0 318.0h1.3v1.3h-1.3zM449.6 318.0h1.3v1.3h-1.3zM453.5 318.0h1.3v1.3h-1.3zM456.1 318.0h1.3v1.3h-1.3zM440.5 319.3h16.9v1.3h-16.9zM436.6 320.6h5.2v1.3h-5.2zM444.4 320.6h5.2v1.3h-5.2zM452.2 320.6h5.2v1.3h-5.2zM436.6 321.9h5.2v1.3h-5.2zM443.1 321.9h1.3v1.3h-1.3zM445.7 321.9h10.4v1.3h-10.4zM439.2 323.2h1.3v1.3h-1.3zM444.4 323.2h3.9v1.3h-3.9zM449.6 323.2h7.8v1.3h-7.8zM436.6 324.5h5.2v1.3h-5.2zM445.7 324.5h2.6v1.3h-2.6zM449.6 324.5h5.2v1.3h-5.2zM456.1 324.5h1.3v1.3h-1.3zM436.6 325.8h11.7v1.3h-11.7zM449.6 325.8h2.6v1.3h-2.6zM453.5 325.8h3.9v1.3h-3.9zM436.6 327.1h3.9v1.3h-3.9zM441.8 327.1h2.6v1.3h-2.6zM447.0 327.1h1.3v1.3h-1.3zM450.9 327.1h1.3v1.3h-1.3zM453.5 327.1h2.6v1.3h-2.6zM436.6 328.4h1.3v1.3h-1.3zM441.8 328.4h3.9v1.3h-3.9zM448.3 328.4h1.3v1.3h-1.3zM450.9 328.4h5.2v1.3h-5.2zM436.6 329.7h1.3v1.3h-1.3zM439.2 329.7h9.1v1.3h-9.1zM449.6 329.7h1.3v1.3h-1.3zM452.2 329.7h1.3v1.3h-1.3zM439.2 331.0h1.3v1.3h-1.3zM441.8 331.0h2.6v1.3h-2.6zM445.7 331.0h1.3v1.3h-1.3zM448.3 331.0h2.6v1.3h-2.6zM452.2 331.0h1.3v1.3h-1.3zM436.6 332.3h3.9v1.3h-3.9zM448.3 332.3h6.5v1.3h-6.5zM436.6 333.6h11.7v1.3h-11.7zM449.6 333.6h1.3v1.3h-1.3zM452.2 333.6h2.6v1.3h-2.6zM436.6 334.9h1.3v1.3h-1.3zM439.2 334.9h14.3v1.3h-14.3zM439.2 336.2h14.3v1.3h-14.3zM437.9 337.5h5.2v1.3h-5.2zM444.4 337.5h5.2v1.3h-5.2zM450.9 337.5h1.3v1.3h-1.3zM434.0 338.8h2.6v1.3h-2.6zM437.9 338.8h3.9v1.3h-3.9zM443.1 338.8h3.9v1.3h-3.9zM449.6 338.8h1.3v1.3h-1.3zM434.0 340.1h6.5v1.3h-6.5zM441.8 340.1h5.2v1.3h-5.2zM432.7 341.4h9.1v1.3h-9.1zM443.1 341.4h1.3v1.3h-1.3zM445.7 341.4h2.6v1.3h-2.6zM432.7 342.7h5.2v1.3h-5.2zM440.5 342.7h2.6v1.3h-2.6zM432.7 344.0h9.1v1.3h-9.1zM432.7 345.3h2.6v1.3h-2.6zM436.6 345.3h2.6v1.3h-2.6zM434.0 346.6h6.5v1.3h-6.5zM432.7 347.9h1.3v1.3h-1.3zM435.3 347.9h5.2v1.3h-5.2zM434.0 349.2h1.3v1.3h-1.3zM436.6 349.2h3.9v1.3h-3.9zM435.3 350.5h2.6v1.3h-2.6zM439.2 350.5h2.6v1.3h-2.6zM432.7 351.8h9.1v1.3h-9.1zM432.7 353.1h7.8v1.3h-7.8zM432.7 354.4h5.2v1.3h-5.2zM439.2 354.4h1.3v1.3h-1.3zM431.4 355.7h7.8v1.3h-7.8zM430.1 357.0h7.8v1.3h-7.8zM439.2 357.0h1.3v1.3h-1.3zM428.8 358.3h3.9v1.3h-3.9zM434.0 358.3h1.3v1.3h-1.3zM436.6 358.3h1.3v1.3h-1.3zM427.5 359.6h1.3v1.3h-1.3zM430.1 359.6h9.1v1.3h-9.1zM426.2 360.9h5.2v1.3h-5.2zM432.7 360.9h1.3v1.3h-1.3zM436.6 360.9h1.3v1.3h-1.3zM427.5 362.2h1.3v1.3h-1.3zM430.1 362.2h1.3v1.3h-1.3zM432.7 362.2h3.9v1.3h-3.9zM426.2 363.5h9.1v1.3h-9.1zM427.5 364.8h1.3v1.3h-1.3zM431.4 364.8h1.3v1.3h-1.3zM434.0 364.8h1.3v1.3h-1.3zM426.2 366.1h1.3v1.3h-1.3zM432.7 366.1h1.3v1.3h-1.3zM424.9 367.4h1.3v1.3h-1.3zM427.5 367.4h5.2v1.3h-5.2zM426.2 368.7h2.6v1.3h-2.6zM430.1 368.7h1.3v1.3h-1.3zM424.9 370.0h1.3v1.3h-1.3zM427.5 370.0h2.6v1.3h-2.6zM424.9 371.3h2.6v1.3h-2.6zM424.9 372.6h5.2v1.3h-5.2zM427.5 373.9h2.6v1.3h-2.6zM424.9 375.2h2.6v1.3h-2.6zM423.6 376.5h3.9v1.3h-3.9zM424.9 377.8h1.3v1.3h-1.3zM422.3 379.1h3.9v1.3h-3.9zM422.3 380.4h1.3v1.3h-1.3zM421.0 381.7h2.6v1.3h-2.6zM421.0 383.0h1.3v1.3h-1.3z" fill="#1a80f2" />
<path d="M441.8 298.5h1.3v1.3h-1.3zM452.2 301.1h1.3v1.3h-1.3zM447.0 302.4h1.3v1.3h-1.3zM444.4 303.7h1.3v1.3h-1.3zM448.3 303.7h1.3v1.3h-1.3zM448.3 306.3h1.3v1.3h-1.3zM450.9 306.3h1.3v1.3h-1.3zM447.0 307.6h1.3v1.3h-1.3zM453.5 307.6h2.6v1.3h-2.6zM450.9 308.9h1.3v1.3h-1.3zM440.5 310.2h1.3v1.3h-1.3zM448.3 312.8h1.3v1.3h-1.3zM448.3 314.1h1.3v1.3h-1.3zM445.7 316.7h1.3v1.3h-1.3zM448.3 316.7h1.3v1.3h-1.3zM454.8 316.7h1.3v1.3h-1.3zM441.8 319.3h1.3v1.3h-1.3zM450.9 319.3h1.3v1.3h-1.3zM441.8 321.9h1.3v1.3h-1.3zM450.9 321.9h1.3v1.3h-1.3zM437.9 324.5h1.3v1.3h-1.3zM439.2 325.8h1.3v1.3h-1.3zM444.4 328.4h1.3v1.3h-1.3zM454.8 328.4h1.3v1.3h-1.3zM448.3 331.0h1.3v1.3h-1.3zM450.9 337.5h1.3v1.3h-1.3zM432.7 338.8h1.3v1.3h-1.3zM434.0 342.7h1.3v1.3h-1.3zM435.3 344.0h1.3v1.3h-1.3zM439.2 347.9h1.3v1.3h-1.3zM432.7 353.1h1.3v1.3h-1.3zM435.3 353.1h1.3v1.3h-1.3zM436.6 357.0h1.3v1.3h-1.3zM428.8 360.9h1.3v1.3h-1.3zM426.2 367.4h1.3v1.3h-1.3zM427.5 368.7h1.3v1.3h-1.3zM427.5 370.0h1.3v1.3h-1.3zM422.3 380.4h1.3v1.3h-1.3z" fill="#1ef0f8" />
<path d="M422.6 269.3h1.3v1.3h-1.3zM422.6 271.9h1.3v1.3h-1.3zM426.5 271.9h1.3v1.3h-1.3zM433.0 271.9h1.3v1.3h-1.3zM435.6 271.9h1.3v1.3h-1.3zM429.1 273.2h3.9v1.3h-3.9zM436.9 273.2h1.3v1.3h-1.3zM422.6 274.5h2.6v1.3h-2.6zM425.2 275.8h1.3v1.3h-1.3zM430.4 275.8h1.3v1.3h-1.3zM422.6 277.1h1.3v1.3h-1.3zM426.5 277.1h2.6v1.3h-2.6zM430.4 277.1h1.3v1.3h-1.3zM422.6 279.7h1.3v1.3h-1.3zM433.0 281.0h2.6v1.3h-2.6zM429.1 282.3h1.3v1.3h-1.3zM423.9 283.6h1.3v1.3h-1.3zM426.5 283.6h1.3v1.3h-1.3zM436.9 283.6h1.3v1.3h-1.3zM423.9 284.9h1.3v1.3h-1.3zM422.6 286.2h1.3v1.3h-1.3zM426.5 286.2h1.3v1.3h-1.3zM434.3 287.5h1.3v1.3h-1.3zM430.4 288.8h1.3v1.3h-1.3zM423.9 290.1h1.3v1.3h-1.3zM433.0 290.1h1.3v1.3h-1.3zM423.9 291.4h1.3v1.3h-1.3zM427.8 291.4h1.3v1.3h-1.3zM431.7 291.4h1.3v1.3h-1.3zM425.2 292.7h1.3v1.3h-1.3zM431.7 292.7h1.3v1.3h-1.3zM427.8 295.3h1.3v1.3h-1.3zM430.4 296.6h1.3v1.3h-1.3zM430.4 297.9h1.3v1.3h-1.3z" fill="#ffffff" />
<path d="M444.8 230.0h1.3v1.3h-1.3zM442.2 231.3h2.6v1.3h-2.6zM438.3 232.6h3.9v1.3h-3.9zM443.5 232.6h2.6v1.3h-2.6zM447.4 232.6h2.6v1.3h-2.6zM437.0 233.9h1.3v1.3h-1.3zM442.2 233.9h1.3v1.3h-1.3zM444.8 233.9h3.9v1.3h-3.9zM451.3 233.9h2.6v1.3h-2.6zM439.6 235.2h1.3v1.3h-1.3zM442.2 235.2h6.5v1.3h-6.5zM452.6 235.2h2.6v1.3h-2.6zM439.6 236.5h1.3v1.3h-1.3zM442.2 236.5h2.6v1.3h-2.6zM446.1 236.5h1.3v1.3h-1.3zM452.6 236.5h1.3v1.3h-1.3zM438.3 237.8h2.6v1.3h-2.6zM443.5 237.8h2.6v1.3h-2.6zM448.7 237.8h2.6v1.3h-2.6zM455.2 237.8h1.3v1.3h-1.3zM443.5 239.1h1.3v1.3h-1.3zM450.0 239.1h1.3v1.3h-1.3zM453.9 239.1h2.6v1.3h-2.6zM439.6 240.4h1.3v1.3h-1.3zM443.5 240.4h1.3v1.3h-1.3zM446.1 240.4h2.6v1.3h-2.6zM451.3 240.4h1.3v1.3h-1.3zM439.6 241.7h7.8v1.3h-7.8zM450.0 241.7h3.9v1.3h-3.9zM455.2 241.7h1.3v1.3h-1.3zM439.6 243.0h1.3v1.3h-1.3zM442.2 243.0h5.2v1.3h-5.2zM450.0 243.0h1.3v1.3h-1.3zM452.6 243.0h1.3v1.3h-1.3zM455.2 243.0h1.3v1.3h-1.3zM438.3 244.3h6.5v1.3h-6.5zM446.1 244.3h2.6v1.3h-2.6zM450.0 244.3h1.3v1.3h-1.3zM452.6 244.3h1.3v1.3h-1.3zM455.2 244.3h2.6v1.3h-2.6zM439.6 245.6h2.6v1.3h-2.6zM446.1 245.6h2.6v1.3h-2.6zM450.0 245.6h3.9v1.3h-3.9zM455.2 245.6h2.6v1.3h-2.6zM439.6 246.9h2.6v1.3h-2.6zM448.7 246.9h1.3v1.3h-1.3zM452.6 246.9h1.3v1.3h-1.3zM455.2 246.9h1.3v1.3h-1.3zM440.9 248.2h1.3v1.3h-1.3zM443.5 248.2h2.6v1.3h-2.6zM450.0 248.2h1.3v1.3h-1.3zM452.6 248.2h5.2v1.3h-5.2zM439.6 249.5h2.6v1.3h-2.6zM443.5 249.5h2.6v1.3h-2.6zM448.7 249.5h1.3v1.3h-1.3zM451.3 249.5h6.5v1.3h-6.5zM439.6 250.8h2.6v1.3h-2.6zM448.7 250.8h3.9v1.3h-3.9zM453.9 250.8h2.6v1.3h-2.6zM443.5 252.1h6.5v1.3h-6.5zM452.6 252.1h1.3v1.3h-1.3zM446.1 253.4h1.3v1.3h-1.3zM448.7 253.4h1.3v1.3h-1.3z" fill="#1a80f2" />
<path d="M443.6 239.0h3.9v1.3h-3.9zM442.3 240.3h5.2v1.3h-5.2zM441.0 241.6h2.6v1.3h-2.6zM444.9 241.6h1.3v1.3h-1.3zM441.0 242.9h1.3v1.3h-1.3zM446.2 242.9h1.3v1.3h-1.3zM444.9 244.2h2.6v1.3h-2.6zM442.3 245.5h5.2v1.3h-5.2zM442.3 246.8h1.3v1.3h-1.3z" fill="#1ef0f8" />
<path d="M457.3 238.6h3.9v1.3h-3.9zM459.9 239.9h1.3v1.3h-1.3zM456.0 241.2h1.3v1.3h-1.3zM459.9 242.5h2.6v1.3h-2.6zM457.3 245.1h1.3v1.3h-1.3zM461.2 245.1h1.3v1.3h-1.3zM456.0 246.4h1.3v1.3h-1.3zM461.2 246.4h1.3v1.3h-1.3zM459.9 247.7h1.3v1.3h-1.3zM459.9 249.0h1.3v1.3h-1.3z" fill="#1a80f2" />
<polygon points="483.6,317.5 485.7,319.5 487.0,327.7 485.0,334.6 482.3,341.4 479.6,349.6 475.5,359.1 472.7,364.6 470.0,365.3 465.9,361.8 464.5,353.7 465.9,348.2 468.0,341.4 468.0,335.9 470.0,331.8 475.5,329.1 479.6,325.0 482.3,320.9" fill="#ffffff" />
<path d="M484.0 321.4h2.6v1.3h-2.6zM482.7 322.7h2.6v1.3h-2.6zM482.7 324.0h1.3v1.3h-1.3zM481.4 325.3h1.3v1.3h-1.3zM484.0 325.3h2.6v1.3h-2.6zM477.5 327.9h3.9v1.3h-3.9zM485.3 329.2h1.3v1.3h-1.3zM477.5 330.5h2.6v1.3h-2.6zM476.2 331.8h1.3v1.3h-1.3zM484.0 331.8h1.3v1.3h-1.3zM468.4 333.1h1.3v1.3h-1.3zM471.0 333.1h1.3v1.3h-1.3zM477.5 333.1h1.3v1.3h-1.3zM476.2 334.4h1.3v1.3h-1.3zM468.4 335.7h1.3v1.3h-1.3zM477.5 335.7h1.3v1.3h-1.3zM468.4 338.3h2.6v1.3h-2.6zM472.3 338.3h1.3v1.3h-1.3zM477.5 338.3h1.3v1.3h-1.3zM469.7 339.6h1.3v1.3h-1.3zM476.2 339.6h1.3v1.3h-1.3zM480.1 339.6h2.6v1.3h-2.6zM474.9 340.9h2.6v1.3h-2.6zM478.8 340.9h1.3v1.3h-1.3zM481.4 340.9h1.3v1.3h-1.3zM468.4 342.2h1.3v1.3h-1.3zM478.8 342.2h2.6v1.3h-2.6zM469.7 343.5h1.3v1.3h-1.3zM478.8 343.5h1.3v1.3h-1.3zM467.1 344.8h3.9v1.3h-3.9zM474.9 344.8h1.3v1.3h-1.3zM465.8 346.1h1.3v1.3h-1.3zM471.0 346.1h2.6v1.3h-2.6zM474.9 346.1h2.6v1.3h-2.6zM467.1 348.7h1.3v1.3h-1.3zM478.8 348.7h1.3v1.3h-1.3zM465.8 350.0h2.6v1.3h-2.6zM476.2 350.0h2.6v1.3h-2.6zM467.1 351.3h1.3v1.3h-1.3zM469.7 351.3h1.3v1.3h-1.3zM476.2 351.3h1.3v1.3h-1.3zM464.5 352.6h1.3v1.3h-1.3zM469.7 352.6h1.3v1.3h-1.3zM468.4 353.9h3.9v1.3h-3.9zM474.9 353.9h1.3v1.3h-1.3zM471.0 355.2h1.3v1.3h-1.3zM476.2 355.2h1.3v1.3h-1.3zM465.8 356.5h1.3v1.3h-1.3zM468.4 356.5h1.3v1.3h-1.3zM465.8 357.8h1.3v1.3h-1.3zM472.3 357.8h1.3v1.3h-1.3zM468.4 359.1h1.3v1.3h-1.3zM473.6 360.4h1.3v1.3h-1.3zM472.3 363.0h1.3v1.3h-1.3z" fill="#1a80f2" />
<path d="M482.7 327.9h1.3v1.3h-1.3zM473.6 330.5h1.3v1.3h-1.3zM476.2 331.8h1.3v1.3h-1.3zM482.7 335.7h1.3v1.3h-1.3zM473.6 337.0h1.3v1.3h-1.3zM469.7 347.4h1.3v1.3h-1.3zM471.0 348.7h1.3v1.3h-1.3zM465.8 350.0h1.3v1.3h-1.3zM469.7 353.9h1.3v1.3h-1.3zM473.6 353.9h1.3v1.3h-1.3zM469.7 363.0h1.3v1.3h-1.3z" fill="#1ef0f8" />
<polygon points="483.6,317.5 485.7,319.5 487.0,327.7 485.0,334.6 482.3,341.4 479.6,349.6 475.5,359.1 474.0,358.0 477.5,349.0 480.5,340.5 483.0,333.0 484.5,326.0 483.5,320.0" fill="#1ef0f8" />
<polyline points="483.6,317.5 485.7,319.5 487.0,327.7 485.0,334.6 482.3,341.4 479.6,349.6 475.5,359.1 472.7,364.6 470.0,365.3 465.9,361.8 464.5,353.7 465.9,348.2 468.0,341.4 468.0,335.9 470.0,331.8 475.5,329.1 479.6,325.0 482.3,320.9 483.6,317.5" fill="none" stroke="#8c8c8c" stroke-width="0.8" stroke-linejoin="round" stroke-linecap="round" transform="translate(-0.8,1.3)"/>
<polyline points="483.6,317.5 485.7,319.5 487.0,327.7 485.0,334.6 482.3,341.4 479.6,349.6 475.5,359.1 472.7,364.6 470.0,365.3 465.9,361.8 464.5,353.7 465.9,348.2 468.0,341.4 468.0,335.9 470.0,331.8 475.5,329.1 479.6,325.0 482.3,320.9 483.6,317.5" fill="none" stroke="#151515" stroke-width="0.9" stroke-linejoin="round" stroke-linecap="round" />
<polyline points="288.1,219.5 286.1,224.5 287.1,228.5 288.1,232.5 292.1,238.5 298.1,246.5 304.1,253.5 314.1,260.5 324.1,258.5 332.1,258.5 340.1,255.5 348.1,253.5 353.1,255.5 356.1,260.5 362.1,261.5 365.1,264.5 365.1,274.5 364.1,280.5 366.1,288.5 372.1,296.5 376.1,301.5 375.6,314.2 373.1,324.4 371.8,334.6 372.8,341.5 375.7,347.3 378.6,354.6 379.4,363.3 381.6,372.0 385.2,379.3 387.4,386.6 388.8,393.9 391.7,396.8 399.0,396.0 407.7,393.9 415.0,391.0 420.8,386.6 425.2,380.8 429.6,375.0 432.5,369.1 436.8,363.3 439.7,359.0 440.5,353.1 439.7,348.8 441.9,344.4 444.9,343.0 448.3,343.3 453.4,336.5 456.8,326.2 456.8,315.9 453.4,305.7 453.4,293.7 458.5,281.8 465.4,271.5 469.3,269.0 476.4,261.9 482.4,252.3 484.8,242.8 487.1,235.6" fill="none" stroke="#8c8c8c" stroke-width="0.9" stroke-linejoin="round" stroke-linecap="round" /><polyline points="289.0,218.0 287.0,223.0 288.0,227.0 289.0,231.0 293.0,237.0 299.0,245.0 305.0,252.0 315.0,259.0 325.0,257.0 333.0,257.0 341.0,254.0 349.0,252.0 354.0,254.0 357.0,259.0 363.0,260.0 366.0,263.0 366.0,273.0 365.0,279.0 367.0,287.0 373.0,295.0 377.0,300.0 376.5,312.7 374.0,322.9 372.7,333.1 373.7,340.0 376.6,345.8 379.5,353.1 380.3,361.8 382.5,370.5 386.1,377.8 388.3,385.1 389.7,392.4 392.6,395.3 399.9,394.5 408.6,392.4 415.9,389.5 421.7,385.1 426.1,379.3 430.5,373.5 433.4,367.6 437.7,361.8 440.6,357.5 441.4,351.6 440.6,347.3 442.8,342.9 445.8,341.5 449.2,341.8 454.3,335.0 457.7,324.7 457.7,314.4 454.3,304.2 454.3,292.2 459.4,280.3 466.3,270.0 470.2,267.5 477.3,260.4 483.3,250.8 485.7,241.3 488.0,234.1" fill="none" stroke="#151515" stroke-width="1.0" stroke-linejoin="round" stroke-linecap="round" />
<polyline points="453.4,217.4 458.2,222.2 464.2,228.1 466.6,231.7 465.4,232.9 470.2,234.1 477.3,231.7 484.5,230.5 488.0,234.1" fill="none" stroke="#000" stroke-width="0.8" stroke-linejoin="round" stroke-linecap="round" />
<polyline points="463.0,217.4 464.2,224.6 465.4,231.7" fill="none" stroke="#000" stroke-width="0.8" stroke-linejoin="round" stroke-linecap="round" />
<polyline points="467.8,229.3 477.3,225.7 484.5,222.2 491.6,217.4" fill="none" stroke="#000" stroke-width="0.8" stroke-linejoin="round" stroke-linecap="round" />
<polygon points="432.5,276.0 436.0,274.7 439.0,276.5 438.5,282.0 435.0,284.3 432.0,281.0" fill="#fff" stroke="#000" stroke-width="0.8"/>
<polyline points="424.0,288.0 427.0,297.0 430.0,306.0" fill="none" stroke="#000" stroke-width="1.2" stroke-linejoin="round" stroke-linecap="round" />
<polyline points="440.0,308.0 441.0,318.0 442.0,326.0" fill="none" stroke="#000" stroke-width="1.2" stroke-linejoin="round" stroke-linecap="round" />
<text x="329.2" y="303.9" class="lab" style="font-size:16.5px">D</text>
<rect x="493.2" y="222.90" width="13.5" height="41.5" fill="#ff7d0a"/>
<rect x="493.2" y="264.30" width="13.5" height="41.5" fill="#ffff00"/>
<rect x="493.2" y="305.70" width="13.5" height="41.5" fill="#80ee80"/>
<rect x="493.2" y="347.10" width="13.5" height="41.5" fill="#14eef0"/>
<rect x="493.2" y="388.50" width="13.5" height="41.5" fill="#1a80f4"/>
<rect x="493.2" y="222.9" width="13.5" height="207" fill="none" stroke="#333" stroke-width="0.5"/>
<text x="508.2" y="243.8" class="tk">8000</text>
<text x="508.2" y="292.8" class="tk">6000</text>
<text x="508.2" y="334.7" class="tk">4000</text>
<text x="508.2" y="375.9" class="tk">2000</text>
<text x="508.2" y="416.1" class="tk">1000</text>
<polyline points="109.1,24.1 110.0,24.7 111.2,26.1 112.6,26.7 114.5,26.9 114.4,28.2 112.6,29.6 111.3,30.3 110.3,29.4 109.4,27.8 108.2,25.5 108.5,24.5 109.1,24.1" fill="none" stroke="#1a1a1a" stroke-width="1.0" stroke-linejoin="round" stroke-linecap="round" />
<polyline points="365.2,25.5 366.2,26.1 367.4,27.6 368.9,28.2 370.8,28.4 370.8,29.8 368.9,31.2 367.5,31.9 366.5,31.0 365.5,29.3 364.3,26.9 364.6,25.9 365.2,25.5" fill="none" stroke="#1a1a1a" stroke-width="1.0" stroke-linejoin="round" stroke-linecap="round" />
<polyline points="127.3,239.8 128.3,240.4 129.6,242.0 131.1,242.6 133.2,242.8 133.1,244.3 131.1,245.8 129.7,246.5 128.6,245.6 127.6,243.8 126.3,241.3 126.6,240.2 127.3,239.8" fill="none" stroke="#1a1a1a" stroke-width="1.0" stroke-linejoin="round" stroke-linecap="round" />
<polyline points="377.8,225.5 378.8,226.1 380.1,227.7 381.6,228.3 383.7,228.5 383.6,230.0 381.6,231.5 380.2,232.2 379.1,231.3 378.1,229.5 376.8,227.0 377.1,225.9 377.8,225.5" fill="none" stroke="#1a1a1a" stroke-width="1.0" stroke-linejoin="round" stroke-linecap="round" />
<polyline points="482.6,30.9 485.6,31.3" fill="none" stroke="#222" stroke-width="1.1" stroke-linejoin="round" stroke-linecap="round" />
<circle cx="500.3" cy="348.3" r="0.9" fill="#1a1a1a"/>
<circle cx="506.3" cy="345.8" r="0.9" fill="#1a1a1a"/>
<circle cx="253.8" cy="366" r="0.9" fill="#1a1a1a"/>
<circle cx="260.1" cy="363.2" r="0.9" fill="#1a1a1a"/>
<line x1="248.5" y1="256.5" x2="251" y2="256.5" stroke="#444" stroke-width="0.6"/><line x1="265.6" y1="256.5" x2="268.1" y2="256.5" stroke="#444" stroke-width="0.6"/>
<line x1="248.5" y1="275.3" x2="251" y2="275.3" stroke="#444" stroke-width="0.6"/><line x1="265.6" y1="275.3" x2="268.1" y2="275.3" stroke="#444" stroke-width="0.6"/>
<line x1="248.5" y1="294.1" x2="251" y2="294.1" stroke="#444" stroke-width="0.6"/><line x1="265.6" y1="294.1" x2="268.1" y2="294.1" stroke="#444" stroke-width="0.6"/>
<line x1="248.5" y1="312.9" x2="251" y2="312.9" stroke="#444" stroke-width="0.6"/><line x1="265.6" y1="312.9" x2="268.1" y2="312.9" stroke="#444" stroke-width="0.6"/>
<line x1="248.5" y1="331.7" x2="251" y2="331.7" stroke="#444" stroke-width="0.6"/><line x1="265.6" y1="331.7" x2="268.1" y2="331.7" stroke="#444" stroke-width="0.6"/>
<line x1="248.5" y1="350.5" x2="251" y2="350.5" stroke="#444" stroke-width="0.6"/><line x1="265.6" y1="350.5" x2="268.1" y2="350.5" stroke="#444" stroke-width="0.6"/>
<line x1="248.5" y1="369.3" x2="251" y2="369.3" stroke="#444" stroke-width="0.6"/><line x1="265.6" y1="369.3" x2="268.1" y2="369.3" stroke="#444" stroke-width="0.6"/>
<line x1="248.5" y1="388.1" x2="251" y2="388.1" stroke="#444" stroke-width="0.6"/><line x1="265.6" y1="388.1" x2="268.1" y2="388.1" stroke="#444" stroke-width="0.6"/>
<line x1="248.5" y1="406.9" x2="251" y2="406.9" stroke="#444" stroke-width="0.6"/><line x1="265.6" y1="406.9" x2="268.1" y2="406.9" stroke="#444" stroke-width="0.6"/>
<line x1="493.2" y1="225.5" x2="495.4" y2="225.5" stroke="#444" stroke-width="0.6"/><line x1="504.5" y1="225.5" x2="506.7" y2="225.5" stroke="#444" stroke-width="0.6"/>
<line x1="493.2" y1="251.0" x2="495.4" y2="251.0" stroke="#444" stroke-width="0.6"/><line x1="504.5" y1="251.0" x2="506.7" y2="251.0" stroke="#444" stroke-width="0.6"/>
<line x1="493.2" y1="276.5" x2="495.4" y2="276.5" stroke="#444" stroke-width="0.6"/><line x1="504.5" y1="276.5" x2="506.7" y2="276.5" stroke="#444" stroke-width="0.6"/>
<line x1="493.2" y1="302.0" x2="495.4" y2="302.0" stroke="#444" stroke-width="0.6"/><line x1="504.5" y1="302.0" x2="506.7" y2="302.0" stroke="#444" stroke-width="0.6"/>
<line x1="493.2" y1="327.5" x2="495.4" y2="327.5" stroke="#444" stroke-width="0.6"/><line x1="504.5" y1="327.5" x2="506.7" y2="327.5" stroke="#444" stroke-width="0.6"/>
<line x1="493.2" y1="353.0" x2="495.4" y2="353.0" stroke="#444" stroke-width="0.6"/><line x1="504.5" y1="353.0" x2="506.7" y2="353.0" stroke="#444" stroke-width="0.6"/>
<line x1="493.2" y1="378.5" x2="495.4" y2="378.5" stroke="#444" stroke-width="0.6"/><line x1="504.5" y1="378.5" x2="506.7" y2="378.5" stroke="#444" stroke-width="0.6"/>
<line x1="493.2" y1="404.0" x2="495.4" y2="404.0" stroke="#444" stroke-width="0.6"/><line x1="504.5" y1="404.0" x2="506.7" y2="404.0" stroke="#444" stroke-width="0.6"/>
<line x1="493.2" y1="429.5" x2="495.4" y2="429.5" stroke="#444" stroke-width="0.6"/><line x1="504.5" y1="429.5" x2="506.7" y2="429.5" stroke="#444" stroke-width="0.6"/>
<ellipse cx="251.8" cy="245.7" rx="1.8" ry="0.7" fill="#3a5a6a"/>
<ellipse cx="497.6" cy="231.6" rx="1.4" ry="0.6" fill="#3a5a6a"/>
</svg>
</body></html>
